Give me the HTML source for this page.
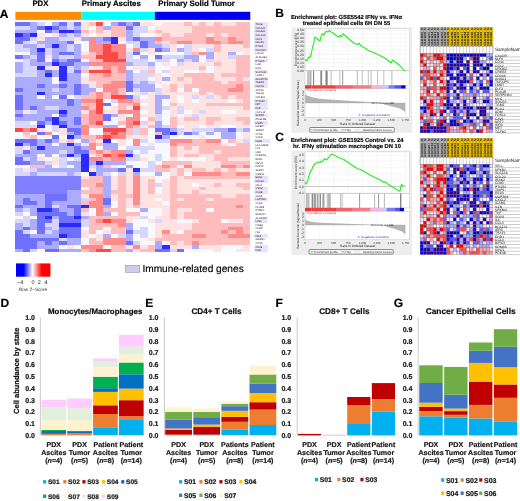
<!DOCTYPE html>
<html><head><meta charset="utf-8"><title>Figure</title><style>html,body{margin:0;padding:0;background:#fff}body{width:520px;height:501px;position:relative;overflow:hidden}</style></head><body>
<svg width="520" height="501" viewBox="0 0 520 501" style="position:absolute;left:0;top:0;filter:blur(0.4px)">
<style>text{font-family:'Liberation Sans', Arial, sans-serif;text-rendering:geometricPrecision}.bd{font-weight:bold;stroke:currentColor;stroke-width:0.18px}</style>
<text x="-0.2" y="17.5" class="bd" font-size="12">A</text>
<text x="32.4" y="5.9" class="bd" font-size="7.85">PDX</text>
<text x="81.8" y="5.9" class="bd" font-size="7.85">Primary Ascites</text>
<text x="158.2" y="5.9" class="bd" font-size="7.85">Primary Solid Tumor</text>
<rect x="15.4" y="11.8" width="66.06" height="8.1" fill="#ff8c00"/>
<rect x="81.46" y="11.8" width="73.4" height="8.1" fill="#00ffff"/>
<rect x="154.86" y="11.8" width="95.42" height="8.1" fill="#0000f0"/>
<g shape-rendering="crispEdges">
<rect x="15.4" y="22.3" width="14.69" height="3.66" fill="#7070ff"/>
<rect x="30.08" y="22.3" width="7.35" height="3.66" fill="#acacff"/>
<rect x="37.42" y="22.3" width="7.35" height="3.66" fill="#d6d6ff"/>
<rect x="44.76" y="22.3" width="7.35" height="3.66" fill="#f8f8ff"/>
<rect x="52.1" y="22.3" width="7.35" height="3.66" fill="#acacff"/>
<rect x="59.44" y="22.3" width="7.35" height="3.66" fill="#7070ff"/>
<rect x="66.78" y="22.3" width="7.35" height="3.66" fill="#d6d6ff"/>
<rect x="74.12" y="22.3" width="7.35" height="3.66" fill="#7070ff"/>
<rect x="81.46" y="22.3" width="7.35" height="3.66" fill="#ffe2e2"/>
<rect x="88.8" y="22.3" width="7.35" height="3.66" fill="#ffbcbc"/>
<rect x="96.14" y="22.3" width="7.35" height="3.66" fill="#ff4848"/>
<rect x="103.48" y="22.3" width="7.35" height="3.66" fill="#f8f8ff"/>
<rect x="110.82" y="22.3" width="7.35" height="3.66" fill="#acacff"/>
<rect x="118.16" y="22.3" width="7.35" height="3.66" fill="#7070ff"/>
<rect x="125.5" y="22.3" width="7.35" height="3.66" fill="#acacff"/>
<rect x="132.84" y="22.3" width="7.35" height="3.66" fill="#7070ff"/>
<rect x="140.18" y="22.3" width="14.69" height="3.66" fill="#ffe2e2"/>
<rect x="154.86" y="22.3" width="7.35" height="3.66" fill="#f8f8ff"/>
<rect x="162.2" y="22.3" width="22.03" height="3.66" fill="#ffe2e2"/>
<rect x="184.22" y="22.3" width="7.35" height="3.66" fill="#ffbcbc"/>
<rect x="191.56" y="22.3" width="7.35" height="3.66" fill="#ffe2e2"/>
<rect x="198.9" y="22.3" width="7.35" height="3.66" fill="#ffbcbc"/>
<rect x="206.24" y="22.3" width="7.35" height="3.66" fill="#ffe2e2"/>
<rect x="213.58" y="22.3" width="7.35" height="3.66" fill="#ffbcbc"/>
<rect x="220.92" y="22.3" width="14.69" height="3.66" fill="#ffe2e2"/>
<rect x="235.6" y="22.3" width="14.69" height="3.66" fill="#ffbcbc"/>
<rect x="15.4" y="25.95" width="14.69" height="3.66" fill="#d6d6ff"/>
<rect x="30.08" y="25.95" width="7.35" height="3.66" fill="#acacff"/>
<rect x="37.42" y="25.95" width="7.35" height="3.66" fill="#7070ff"/>
<rect x="44.76" y="25.95" width="7.35" height="3.66" fill="#2a2aff"/>
<rect x="52.1" y="25.95" width="7.35" height="3.66" fill="#7070ff"/>
<rect x="59.44" y="25.95" width="7.35" height="3.66" fill="#acacff"/>
<rect x="66.78" y="25.95" width="7.35" height="3.66" fill="#d6d6ff"/>
<rect x="74.12" y="25.95" width="7.35" height="3.66" fill="#acacff"/>
<rect x="81.46" y="25.95" width="7.35" height="3.66" fill="#ffe2e2"/>
<rect x="88.8" y="25.95" width="7.35" height="3.66" fill="#f8f8ff"/>
<rect x="96.14" y="25.95" width="7.35" height="3.66" fill="#ffbcbc"/>
<rect x="103.48" y="25.95" width="7.35" height="3.66" fill="#acacff"/>
<rect x="110.82" y="25.95" width="14.69" height="3.66" fill="#ffbcbc"/>
<rect x="125.5" y="25.95" width="7.35" height="3.66" fill="#7070ff"/>
<rect x="132.84" y="25.95" width="14.69" height="3.66" fill="#d6d6ff"/>
<rect x="147.52" y="25.95" width="7.35" height="3.66" fill="#f8f8ff"/>
<rect x="154.86" y="25.95" width="36.71" height="3.66" fill="#ffe2e2"/>
<rect x="191.56" y="25.95" width="58.73" height="3.66" fill="#ffbcbc"/>
<rect x="15.4" y="29.6" width="22.03" height="3.66" fill="#acacff"/>
<rect x="37.42" y="29.6" width="7.35" height="3.66" fill="#f8f8ff"/>
<rect x="44.76" y="29.6" width="7.35" height="3.66" fill="#7070ff"/>
<rect x="52.1" y="29.6" width="7.35" height="3.66" fill="#acacff"/>
<rect x="59.44" y="29.6" width="14.69" height="3.66" fill="#2a2aff"/>
<rect x="74.12" y="29.6" width="7.35" height="3.66" fill="#7070ff"/>
<rect x="81.46" y="29.6" width="7.35" height="3.66" fill="#ffbcbc"/>
<rect x="88.8" y="29.6" width="7.35" height="3.66" fill="#ffe2e2"/>
<rect x="96.14" y="29.6" width="7.35" height="3.66" fill="#ffbcbc"/>
<rect x="103.48" y="29.6" width="7.35" height="3.66" fill="#ffe2e2"/>
<rect x="110.82" y="29.6" width="14.69" height="3.66" fill="#ffbcbc"/>
<rect x="125.5" y="29.6" width="7.35" height="3.66" fill="#acacff"/>
<rect x="132.84" y="29.6" width="14.69" height="3.66" fill="#d6d6ff"/>
<rect x="147.52" y="29.6" width="7.35" height="3.66" fill="#ffe2e2"/>
<rect x="154.86" y="29.6" width="7.35" height="3.66" fill="#ffbcbc"/>
<rect x="162.2" y="29.6" width="29.37" height="3.66" fill="#ffe2e2"/>
<rect x="191.56" y="29.6" width="58.73" height="3.66" fill="#ffbcbc"/>
<rect x="15.4" y="33.25" width="7.35" height="3.66" fill="#2a2aff"/>
<rect x="22.74" y="33.25" width="7.35" height="3.66" fill="#7070ff"/>
<rect x="30.08" y="33.25" width="7.35" height="3.66" fill="#2a2aff"/>
<rect x="37.42" y="33.25" width="7.35" height="3.66" fill="#ffe2e2"/>
<rect x="44.76" y="33.25" width="7.35" height="3.66" fill="#f8f8ff"/>
<rect x="52.1" y="33.25" width="7.35" height="3.66" fill="#ffe2e2"/>
<rect x="59.44" y="33.25" width="7.35" height="3.66" fill="#acacff"/>
<rect x="66.78" y="33.25" width="7.35" height="3.66" fill="#d6d6ff"/>
<rect x="74.12" y="33.25" width="7.35" height="3.66" fill="#acacff"/>
<rect x="81.46" y="33.25" width="7.35" height="3.66" fill="#ffe2e2"/>
<rect x="88.8" y="33.25" width="7.35" height="3.66" fill="#f8f8ff"/>
<rect x="96.14" y="33.25" width="14.69" height="3.66" fill="#ffe2e2"/>
<rect x="110.82" y="33.25" width="14.69" height="3.66" fill="#ffbcbc"/>
<rect x="125.5" y="33.25" width="7.35" height="3.66" fill="#acacff"/>
<rect x="132.84" y="33.25" width="7.35" height="3.66" fill="#d6d6ff"/>
<rect x="140.18" y="33.25" width="14.69" height="3.66" fill="#f8f8ff"/>
<rect x="154.86" y="33.25" width="7.35" height="3.66" fill="#ffe2e2"/>
<rect x="162.2" y="33.25" width="7.35" height="3.66" fill="#ffbcbc"/>
<rect x="169.54" y="33.25" width="14.69" height="3.66" fill="#ffe2e2"/>
<rect x="184.22" y="33.25" width="22.03" height="3.66" fill="#ffbcbc"/>
<rect x="206.24" y="33.25" width="7.35" height="3.66" fill="#ffe2e2"/>
<rect x="213.58" y="33.25" width="7.35" height="3.66" fill="#ffbcbc"/>
<rect x="220.92" y="33.25" width="7.35" height="3.66" fill="#ffe2e2"/>
<rect x="228.26" y="33.25" width="22.03" height="3.66" fill="#ffbcbc"/>
<rect x="15.4" y="36.9" width="14.69" height="3.66" fill="#7070ff"/>
<rect x="30.08" y="36.9" width="7.35" height="3.66" fill="#d6d6ff"/>
<rect x="37.42" y="36.9" width="7.35" height="3.66" fill="#ffe2e2"/>
<rect x="44.76" y="36.9" width="14.69" height="3.66" fill="#acacff"/>
<rect x="59.44" y="36.9" width="14.69" height="3.66" fill="#d6d6ff"/>
<rect x="74.12" y="36.9" width="7.35" height="3.66" fill="#ffe2e2"/>
<rect x="81.46" y="36.9" width="7.35" height="3.66" fill="#acacff"/>
<rect x="88.8" y="36.9" width="7.35" height="3.66" fill="#ff8c8c"/>
<rect x="96.14" y="36.9" width="7.35" height="3.66" fill="#acacff"/>
<rect x="103.48" y="36.9" width="7.35" height="3.66" fill="#7070ff"/>
<rect x="110.82" y="36.9" width="7.35" height="3.66" fill="#2a2aff"/>
<rect x="118.16" y="36.9" width="7.35" height="3.66" fill="#ffe2e2"/>
<rect x="125.5" y="36.9" width="7.35" height="3.66" fill="#acacff"/>
<rect x="132.84" y="36.9" width="7.35" height="3.66" fill="#7070ff"/>
<rect x="140.18" y="36.9" width="14.69" height="3.66" fill="#acacff"/>
<rect x="154.86" y="36.9" width="7.35" height="3.66" fill="#ff8c8c"/>
<rect x="162.2" y="36.9" width="44.05" height="3.66" fill="#ffbcbc"/>
<rect x="206.24" y="36.9" width="7.35" height="3.66" fill="#ff8c8c"/>
<rect x="213.58" y="36.9" width="14.69" height="3.66" fill="#ffbcbc"/>
<rect x="228.26" y="36.9" width="7.35" height="3.66" fill="#ff8c8c"/>
<rect x="235.6" y="36.9" width="14.69" height="3.66" fill="#ffbcbc"/>
<rect x="15.4" y="40.55" width="7.35" height="3.66" fill="#7070ff"/>
<rect x="22.74" y="40.55" width="7.35" height="3.66" fill="#d6d6ff"/>
<rect x="30.08" y="40.55" width="7.35" height="3.66" fill="#ffe2e2"/>
<rect x="37.42" y="40.55" width="29.37" height="3.66" fill="#acacff"/>
<rect x="66.78" y="40.55" width="7.35" height="3.66" fill="#7070ff"/>
<rect x="74.12" y="40.55" width="14.69" height="3.66" fill="#f8f8ff"/>
<rect x="88.8" y="40.55" width="7.35" height="3.66" fill="#ff8c8c"/>
<rect x="96.14" y="40.55" width="14.69" height="3.66" fill="#acacff"/>
<rect x="110.82" y="40.55" width="7.35" height="3.66" fill="#2a2aff"/>
<rect x="118.16" y="40.55" width="7.35" height="3.66" fill="#f8f8ff"/>
<rect x="125.5" y="40.55" width="14.69" height="3.66" fill="#d6d6ff"/>
<rect x="140.18" y="40.55" width="7.35" height="3.66" fill="#7070ff"/>
<rect x="147.52" y="40.55" width="7.35" height="3.66" fill="#acacff"/>
<rect x="154.86" y="40.55" width="7.35" height="3.66" fill="#ffbcbc"/>
<rect x="162.2" y="40.55" width="7.35" height="3.66" fill="#ffe2e2"/>
<rect x="169.54" y="40.55" width="7.35" height="3.66" fill="#ffbcbc"/>
<rect x="176.88" y="40.55" width="14.69" height="3.66" fill="#ff8c8c"/>
<rect x="191.56" y="40.55" width="14.69" height="3.66" fill="#ffbcbc"/>
<rect x="206.24" y="40.55" width="14.69" height="3.66" fill="#ff8c8c"/>
<rect x="220.92" y="40.55" width="7.35" height="3.66" fill="#ffbcbc"/>
<rect x="228.26" y="40.55" width="14.69" height="3.66" fill="#ff8c8c"/>
<rect x="242.94" y="40.55" width="7.35" height="3.66" fill="#ffbcbc"/>
<rect x="15.4" y="44.2" width="7.35" height="3.66" fill="#d6d6ff"/>
<rect x="22.74" y="44.2" width="14.69" height="3.66" fill="#acacff"/>
<rect x="37.42" y="44.2" width="7.35" height="3.66" fill="#d6d6ff"/>
<rect x="44.76" y="44.2" width="7.35" height="3.66" fill="#acacff"/>
<rect x="52.1" y="44.2" width="7.35" height="3.66" fill="#2a2aff"/>
<rect x="59.44" y="44.2" width="7.35" height="3.66" fill="#acacff"/>
<rect x="66.78" y="44.2" width="7.35" height="3.66" fill="#d6d6ff"/>
<rect x="74.12" y="44.2" width="7.35" height="3.66" fill="#acacff"/>
<rect x="81.46" y="44.2" width="7.35" height="3.66" fill="#f8f8ff"/>
<rect x="88.8" y="44.2" width="14.69" height="3.66" fill="#ff8c8c"/>
<rect x="103.48" y="44.2" width="7.35" height="3.66" fill="#ff4848"/>
<rect x="110.82" y="44.2" width="14.69" height="3.66" fill="#ff8c8c"/>
<rect x="125.5" y="44.2" width="7.35" height="3.66" fill="#f8f8ff"/>
<rect x="132.84" y="44.2" width="7.35" height="3.66" fill="#d6d6ff"/>
<rect x="140.18" y="44.2" width="7.35" height="3.66" fill="#7070ff"/>
<rect x="147.52" y="44.2" width="14.69" height="3.66" fill="#acacff"/>
<rect x="162.2" y="44.2" width="7.35" height="3.66" fill="#d6d6ff"/>
<rect x="169.54" y="44.2" width="7.35" height="3.66" fill="#ffe2e2"/>
<rect x="176.88" y="44.2" width="7.35" height="3.66" fill="#f8f8ff"/>
<rect x="184.22" y="44.2" width="7.35" height="3.66" fill="#d6d6ff"/>
<rect x="191.56" y="44.2" width="22.03" height="3.66" fill="#ffe2e2"/>
<rect x="213.58" y="44.2" width="7.35" height="3.66" fill="#ffbcbc"/>
<rect x="220.92" y="44.2" width="22.03" height="3.66" fill="#ffe2e2"/>
<rect x="242.94" y="44.2" width="7.35" height="3.66" fill="#ffbcbc"/>
<rect x="15.4" y="47.85" width="14.69" height="3.66" fill="#d6d6ff"/>
<rect x="30.08" y="47.85" width="7.35" height="3.66" fill="#acacff"/>
<rect x="37.42" y="47.85" width="7.35" height="3.66" fill="#2a2aff"/>
<rect x="44.76" y="47.85" width="7.35" height="3.66" fill="#d6d6ff"/>
<rect x="52.1" y="47.85" width="14.69" height="3.66" fill="#acacff"/>
<rect x="66.78" y="47.85" width="7.35" height="3.66" fill="#d6d6ff"/>
<rect x="74.12" y="47.85" width="7.35" height="3.66" fill="#acacff"/>
<rect x="81.46" y="47.85" width="7.35" height="3.66" fill="#f8f8ff"/>
<rect x="88.8" y="47.85" width="14.69" height="3.66" fill="#ff8c8c"/>
<rect x="103.48" y="47.85" width="7.35" height="3.66" fill="#ff4848"/>
<rect x="110.82" y="47.85" width="14.69" height="3.66" fill="#ff8c8c"/>
<rect x="125.5" y="47.85" width="7.35" height="3.66" fill="#ffe2e2"/>
<rect x="132.84" y="47.85" width="7.35" height="3.66" fill="#ff8c8c"/>
<rect x="140.18" y="47.85" width="7.35" height="3.66" fill="#d6d6ff"/>
<rect x="147.52" y="47.85" width="7.35" height="3.66" fill="#ffe2e2"/>
<rect x="154.86" y="47.85" width="7.35" height="3.66" fill="#7070ff"/>
<rect x="162.2" y="47.85" width="7.35" height="3.66" fill="#acacff"/>
<rect x="169.54" y="47.85" width="7.35" height="3.66" fill="#ffe2e2"/>
<rect x="176.88" y="47.85" width="7.35" height="3.66" fill="#acacff"/>
<rect x="184.22" y="47.85" width="7.35" height="3.66" fill="#d6d6ff"/>
<rect x="191.56" y="47.85" width="7.35" height="3.66" fill="#ffe2e2"/>
<rect x="198.9" y="47.85" width="7.35" height="3.66" fill="#f8f8ff"/>
<rect x="206.24" y="47.85" width="7.35" height="3.66" fill="#d6d6ff"/>
<rect x="213.58" y="47.85" width="7.35" height="3.66" fill="#ffbcbc"/>
<rect x="220.92" y="47.85" width="29.37" height="3.66" fill="#ffe2e2"/>
<rect x="15.4" y="51.5" width="14.69" height="3.66" fill="#f8f8ff"/>
<rect x="30.08" y="51.5" width="7.35" height="3.66" fill="#acacff"/>
<rect x="37.42" y="51.5" width="7.35" height="3.66" fill="#7070ff"/>
<rect x="44.76" y="51.5" width="7.35" height="3.66" fill="#d6d6ff"/>
<rect x="52.1" y="51.5" width="7.35" height="3.66" fill="#acacff"/>
<rect x="59.44" y="51.5" width="14.69" height="3.66" fill="#7070ff"/>
<rect x="74.12" y="51.5" width="7.35" height="3.66" fill="#acacff"/>
<rect x="81.46" y="51.5" width="7.35" height="3.66" fill="#ffe2e2"/>
<rect x="88.8" y="51.5" width="7.35" height="3.66" fill="#ffbcbc"/>
<rect x="96.14" y="51.5" width="7.35" height="3.66" fill="#ff8c8c"/>
<rect x="103.48" y="51.5" width="14.69" height="3.66" fill="#ff4848"/>
<rect x="118.16" y="51.5" width="7.35" height="3.66" fill="#ff8c8c"/>
<rect x="125.5" y="51.5" width="7.35" height="3.66" fill="#d6d6ff"/>
<rect x="132.84" y="51.5" width="7.35" height="3.66" fill="#7070ff"/>
<rect x="140.18" y="51.5" width="7.35" height="3.66" fill="#f8f8ff"/>
<rect x="147.52" y="51.5" width="7.35" height="3.66" fill="#ffe2e2"/>
<rect x="154.86" y="51.5" width="29.37" height="3.66" fill="#f8f8ff"/>
<rect x="184.22" y="51.5" width="7.35" height="3.66" fill="#d6d6ff"/>
<rect x="191.56" y="51.5" width="7.35" height="3.66" fill="#ffbcbc"/>
<rect x="198.9" y="51.5" width="7.35" height="3.66" fill="#ff8c8c"/>
<rect x="206.24" y="51.5" width="7.35" height="3.66" fill="#acacff"/>
<rect x="213.58" y="51.5" width="14.69" height="3.66" fill="#ffe2e2"/>
<rect x="228.26" y="51.5" width="7.35" height="3.66" fill="#acacff"/>
<rect x="235.6" y="51.5" width="7.35" height="3.66" fill="#f8f8ff"/>
<rect x="242.94" y="51.5" width="7.35" height="3.66" fill="#ffe2e2"/>
<rect x="15.4" y="55.15" width="7.35" height="3.66" fill="#7070ff"/>
<rect x="22.74" y="55.15" width="7.35" height="3.66" fill="#acacff"/>
<rect x="30.08" y="55.15" width="7.35" height="3.66" fill="#d6d6ff"/>
<rect x="37.42" y="55.15" width="7.35" height="3.66" fill="#7070ff"/>
<rect x="44.76" y="55.15" width="7.35" height="3.66" fill="#ffe2e2"/>
<rect x="52.1" y="55.15" width="7.35" height="3.66" fill="#acacff"/>
<rect x="59.44" y="55.15" width="14.69" height="3.66" fill="#d6d6ff"/>
<rect x="74.12" y="55.15" width="7.35" height="3.66" fill="#acacff"/>
<rect x="81.46" y="55.15" width="14.69" height="3.66" fill="#ffbcbc"/>
<rect x="96.14" y="55.15" width="22.03" height="3.66" fill="#ff4848"/>
<rect x="118.16" y="55.15" width="7.35" height="3.66" fill="#ff8c8c"/>
<rect x="125.5" y="55.15" width="7.35" height="3.66" fill="#d6d6ff"/>
<rect x="132.84" y="55.15" width="7.35" height="3.66" fill="#f8f8ff"/>
<rect x="140.18" y="55.15" width="7.35" height="3.66" fill="#acacff"/>
<rect x="147.52" y="55.15" width="7.35" height="3.66" fill="#f8f8ff"/>
<rect x="154.86" y="55.15" width="7.35" height="3.66" fill="#7070ff"/>
<rect x="162.2" y="55.15" width="22.03" height="3.66" fill="#d6d6ff"/>
<rect x="184.22" y="55.15" width="14.69" height="3.66" fill="#acacff"/>
<rect x="198.9" y="55.15" width="7.35" height="3.66" fill="#f8f8ff"/>
<rect x="206.24" y="55.15" width="7.35" height="3.66" fill="#acacff"/>
<rect x="213.58" y="55.15" width="14.69" height="3.66" fill="#ffe2e2"/>
<rect x="228.26" y="55.15" width="7.35" height="3.66" fill="#d6d6ff"/>
<rect x="235.6" y="55.15" width="14.69" height="3.66" fill="#ffbcbc"/>
<rect x="15.4" y="58.8" width="7.35" height="3.66" fill="#f8f8ff"/>
<rect x="22.74" y="58.8" width="7.35" height="3.66" fill="#d6d6ff"/>
<rect x="30.08" y="58.8" width="7.35" height="3.66" fill="#acacff"/>
<rect x="37.42" y="58.8" width="7.35" height="3.66" fill="#7070ff"/>
<rect x="44.76" y="58.8" width="7.35" height="3.66" fill="#f8f8ff"/>
<rect x="52.1" y="58.8" width="7.35" height="3.66" fill="#7070ff"/>
<rect x="59.44" y="58.8" width="7.35" height="3.66" fill="#acacff"/>
<rect x="66.78" y="58.8" width="14.69" height="3.66" fill="#7070ff"/>
<rect x="81.46" y="58.8" width="7.35" height="3.66" fill="#f8f8ff"/>
<rect x="88.8" y="58.8" width="14.69" height="3.66" fill="#ffbcbc"/>
<rect x="103.48" y="58.8" width="22.03" height="3.66" fill="#ff4848"/>
<rect x="125.5" y="58.8" width="22.03" height="3.66" fill="#d6d6ff"/>
<rect x="147.52" y="58.8" width="7.35" height="3.66" fill="#f8f8ff"/>
<rect x="154.86" y="58.8" width="14.69" height="3.66" fill="#d6d6ff"/>
<rect x="169.54" y="58.8" width="7.35" height="3.66" fill="#f8f8ff"/>
<rect x="176.88" y="58.8" width="7.35" height="3.66" fill="#acacff"/>
<rect x="184.22" y="58.8" width="7.35" height="3.66" fill="#d6d6ff"/>
<rect x="191.56" y="58.8" width="7.35" height="3.66" fill="#acacff"/>
<rect x="198.9" y="58.8" width="7.35" height="3.66" fill="#f8f8ff"/>
<rect x="206.24" y="58.8" width="7.35" height="3.66" fill="#d6d6ff"/>
<rect x="213.58" y="58.8" width="22.03" height="3.66" fill="#ffe2e2"/>
<rect x="235.6" y="58.8" width="14.69" height="3.66" fill="#ffbcbc"/>
<rect x="15.4" y="62.45" width="7.35" height="3.66" fill="#acacff"/>
<rect x="22.74" y="62.45" width="7.35" height="3.66" fill="#d6d6ff"/>
<rect x="30.08" y="62.45" width="22.03" height="3.66" fill="#acacff"/>
<rect x="52.1" y="62.45" width="7.35" height="3.66" fill="#2a2aff"/>
<rect x="59.44" y="62.45" width="14.69" height="3.66" fill="#7070ff"/>
<rect x="74.12" y="62.45" width="14.69" height="3.66" fill="#acacff"/>
<rect x="88.8" y="62.45" width="36.71" height="3.66" fill="#ff8c8c"/>
<rect x="125.5" y="62.45" width="7.35" height="3.66" fill="#acacff"/>
<rect x="132.84" y="62.45" width="14.69" height="3.66" fill="#d6d6ff"/>
<rect x="147.52" y="62.45" width="7.35" height="3.66" fill="#acacff"/>
<rect x="154.86" y="62.45" width="7.35" height="3.66" fill="#f8f8ff"/>
<rect x="162.2" y="62.45" width="7.35" height="3.66" fill="#ffe2e2"/>
<rect x="169.54" y="62.45" width="7.35" height="3.66" fill="#f8f8ff"/>
<rect x="176.88" y="62.45" width="7.35" height="3.66" fill="#d6d6ff"/>
<rect x="184.22" y="62.45" width="29.37" height="3.66" fill="#ffe2e2"/>
<rect x="213.58" y="62.45" width="7.35" height="3.66" fill="#ffbcbc"/>
<rect x="220.92" y="62.45" width="14.69" height="3.66" fill="#ffe2e2"/>
<rect x="235.6" y="62.45" width="14.69" height="3.66" fill="#ffbcbc"/>
<rect x="15.4" y="66.1" width="7.35" height="3.66" fill="#acacff"/>
<rect x="22.74" y="66.1" width="14.69" height="3.66" fill="#d6d6ff"/>
<rect x="37.42" y="66.1" width="7.35" height="3.66" fill="#2a2aff"/>
<rect x="44.76" y="66.1" width="14.69" height="3.66" fill="#ffe2e2"/>
<rect x="59.44" y="66.1" width="7.35" height="3.66" fill="#2a2aff"/>
<rect x="66.78" y="66.1" width="7.35" height="3.66" fill="#d6d6ff"/>
<rect x="74.12" y="66.1" width="7.35" height="3.66" fill="#acacff"/>
<rect x="81.46" y="66.1" width="7.35" height="3.66" fill="#d6d6ff"/>
<rect x="88.8" y="66.1" width="14.69" height="3.66" fill="#ffe2e2"/>
<rect x="103.48" y="66.1" width="7.35" height="3.66" fill="#ff8c8c"/>
<rect x="110.82" y="66.1" width="7.35" height="3.66" fill="#ffbcbc"/>
<rect x="118.16" y="66.1" width="7.35" height="3.66" fill="#ff8c8c"/>
<rect x="125.5" y="66.1" width="7.35" height="3.66" fill="#f8f8ff"/>
<rect x="132.84" y="66.1" width="14.69" height="3.66" fill="#ffe2e2"/>
<rect x="147.52" y="66.1" width="7.35" height="3.66" fill="#d6d6ff"/>
<rect x="154.86" y="66.1" width="14.69" height="3.66" fill="#f8f8ff"/>
<rect x="169.54" y="66.1" width="29.37" height="3.66" fill="#ffe2e2"/>
<rect x="198.9" y="66.1" width="7.35" height="3.66" fill="#ffbcbc"/>
<rect x="206.24" y="66.1" width="7.35" height="3.66" fill="#f8f8ff"/>
<rect x="213.58" y="66.1" width="22.03" height="3.66" fill="#ffe2e2"/>
<rect x="235.6" y="66.1" width="14.69" height="3.66" fill="#ffbcbc"/>
<rect x="15.4" y="69.75" width="7.35" height="3.66" fill="#acacff"/>
<rect x="22.74" y="69.75" width="14.69" height="3.66" fill="#d6d6ff"/>
<rect x="37.42" y="69.75" width="7.35" height="3.66" fill="#acacff"/>
<rect x="44.76" y="69.75" width="7.35" height="3.66" fill="#7070ff"/>
<rect x="52.1" y="69.75" width="7.35" height="3.66" fill="#acacff"/>
<rect x="59.44" y="69.75" width="7.35" height="3.66" fill="#2a2aff"/>
<rect x="66.78" y="69.75" width="7.35" height="3.66" fill="#d6d6ff"/>
<rect x="74.12" y="69.75" width="7.35" height="3.66" fill="#7070ff"/>
<rect x="81.46" y="69.75" width="7.35" height="3.66" fill="#ffbcbc"/>
<rect x="88.8" y="69.75" width="22.03" height="3.66" fill="#ff4848"/>
<rect x="110.82" y="69.75" width="7.35" height="3.66" fill="#ffbcbc"/>
<rect x="118.16" y="69.75" width="7.35" height="3.66" fill="#ff8c8c"/>
<rect x="125.5" y="69.75" width="7.35" height="3.66" fill="#acacff"/>
<rect x="132.84" y="69.75" width="7.35" height="3.66" fill="#f8f8ff"/>
<rect x="140.18" y="69.75" width="7.35" height="3.66" fill="#d6d6ff"/>
<rect x="147.52" y="69.75" width="7.35" height="3.66" fill="#ffbcbc"/>
<rect x="154.86" y="69.75" width="7.35" height="3.66" fill="#f8f8ff"/>
<rect x="162.2" y="69.75" width="7.35" height="3.66" fill="#d6d6ff"/>
<rect x="169.54" y="69.75" width="14.69" height="3.66" fill="#ffe2e2"/>
<rect x="184.22" y="69.75" width="14.69" height="3.66" fill="#f8f8ff"/>
<rect x="198.9" y="69.75" width="7.35" height="3.66" fill="#ffe2e2"/>
<rect x="206.24" y="69.75" width="7.35" height="3.66" fill="#f8f8ff"/>
<rect x="213.58" y="69.75" width="22.03" height="3.66" fill="#ffe2e2"/>
<rect x="235.6" y="69.75" width="14.69" height="3.66" fill="#ffbcbc"/>
<rect x="15.4" y="73.4" width="22.03" height="3.66" fill="#d6d6ff"/>
<rect x="37.42" y="73.4" width="7.35" height="3.66" fill="#acacff"/>
<rect x="44.76" y="73.4" width="7.35" height="3.66" fill="#2a2aff"/>
<rect x="52.1" y="73.4" width="7.35" height="3.66" fill="#acacff"/>
<rect x="59.44" y="73.4" width="7.35" height="3.66" fill="#2a2aff"/>
<rect x="66.78" y="73.4" width="14.69" height="3.66" fill="#acacff"/>
<rect x="81.46" y="73.4" width="7.35" height="3.66" fill="#f8f8ff"/>
<rect x="88.8" y="73.4" width="14.69" height="3.66" fill="#ffbcbc"/>
<rect x="103.48" y="73.4" width="7.35" height="3.66" fill="#ff8c8c"/>
<rect x="110.82" y="73.4" width="14.69" height="3.66" fill="#ffbcbc"/>
<rect x="125.5" y="73.4" width="7.35" height="3.66" fill="#acacff"/>
<rect x="132.84" y="73.4" width="22.03" height="3.66" fill="#d6d6ff"/>
<rect x="154.86" y="73.4" width="7.35" height="3.66" fill="#ffe2e2"/>
<rect x="162.2" y="73.4" width="7.35" height="3.66" fill="#f8f8ff"/>
<rect x="169.54" y="73.4" width="14.69" height="3.66" fill="#ffe2e2"/>
<rect x="184.22" y="73.4" width="29.37" height="3.66" fill="#ffbcbc"/>
<rect x="213.58" y="73.4" width="7.35" height="3.66" fill="#ffe2e2"/>
<rect x="220.92" y="73.4" width="29.37" height="3.66" fill="#ffbcbc"/>
<rect x="15.4" y="77.05" width="36.71" height="3.66" fill="#acacff"/>
<rect x="52.1" y="77.05" width="7.35" height="3.66" fill="#f8f8ff"/>
<rect x="59.44" y="77.05" width="7.35" height="3.66" fill="#2a2aff"/>
<rect x="66.78" y="77.05" width="14.69" height="3.66" fill="#acacff"/>
<rect x="81.46" y="77.05" width="7.35" height="3.66" fill="#ffe2e2"/>
<rect x="88.8" y="77.05" width="36.71" height="3.66" fill="#ffbcbc"/>
<rect x="125.5" y="77.05" width="7.35" height="3.66" fill="#acacff"/>
<rect x="132.84" y="77.05" width="14.69" height="3.66" fill="#d6d6ff"/>
<rect x="147.52" y="77.05" width="7.35" height="3.66" fill="#f8f8ff"/>
<rect x="154.86" y="77.05" width="7.35" height="3.66" fill="#ffe2e2"/>
<rect x="162.2" y="77.05" width="7.35" height="3.66" fill="#acacff"/>
<rect x="169.54" y="77.05" width="7.35" height="3.66" fill="#ffe2e2"/>
<rect x="176.88" y="77.05" width="7.35" height="3.66" fill="#ffbcbc"/>
<rect x="184.22" y="77.05" width="7.35" height="3.66" fill="#ffe2e2"/>
<rect x="191.56" y="77.05" width="22.03" height="3.66" fill="#ffbcbc"/>
<rect x="213.58" y="77.05" width="22.03" height="3.66" fill="#ffe2e2"/>
<rect x="235.6" y="77.05" width="7.35" height="3.66" fill="#ffbcbc"/>
<rect x="242.94" y="77.05" width="7.35" height="3.66" fill="#ffe2e2"/>
<rect x="15.4" y="80.7" width="36.71" height="3.66" fill="#acacff"/>
<rect x="52.1" y="80.7" width="7.35" height="3.66" fill="#f8f8ff"/>
<rect x="59.44" y="80.7" width="22.03" height="3.66" fill="#acacff"/>
<rect x="81.46" y="80.7" width="14.69" height="3.66" fill="#ffe2e2"/>
<rect x="96.14" y="80.7" width="14.69" height="3.66" fill="#ffbcbc"/>
<rect x="110.82" y="80.7" width="14.69" height="3.66" fill="#ff8c8c"/>
<rect x="125.5" y="80.7" width="7.35" height="3.66" fill="#7070ff"/>
<rect x="132.84" y="80.7" width="7.35" height="3.66" fill="#d6d6ff"/>
<rect x="140.18" y="80.7" width="7.35" height="3.66" fill="#acacff"/>
<rect x="147.52" y="80.7" width="7.35" height="3.66" fill="#d6d6ff"/>
<rect x="154.86" y="80.7" width="7.35" height="3.66" fill="#ffe2e2"/>
<rect x="162.2" y="80.7" width="7.35" height="3.66" fill="#f8f8ff"/>
<rect x="169.54" y="80.7" width="22.03" height="3.66" fill="#ffe2e2"/>
<rect x="191.56" y="80.7" width="29.37" height="3.66" fill="#ffbcbc"/>
<rect x="220.92" y="80.7" width="7.35" height="3.66" fill="#ffe2e2"/>
<rect x="228.26" y="80.7" width="22.03" height="3.66" fill="#ffbcbc"/>
<rect x="15.4" y="84.35" width="22.03" height="3.66" fill="#acacff"/>
<rect x="37.42" y="84.35" width="7.35" height="3.66" fill="#7070ff"/>
<rect x="44.76" y="84.35" width="14.69" height="3.66" fill="#acacff"/>
<rect x="59.44" y="84.35" width="7.35" height="3.66" fill="#7070ff"/>
<rect x="66.78" y="84.35" width="7.35" height="3.66" fill="#acacff"/>
<rect x="74.12" y="84.35" width="7.35" height="3.66" fill="#7070ff"/>
<rect x="81.46" y="84.35" width="7.35" height="3.66" fill="#acacff"/>
<rect x="88.8" y="84.35" width="7.35" height="3.66" fill="#ffe2e2"/>
<rect x="96.14" y="84.35" width="7.35" height="3.66" fill="#ffbcbc"/>
<rect x="103.48" y="84.35" width="22.03" height="3.66" fill="#ff8c8c"/>
<rect x="125.5" y="84.35" width="7.35" height="3.66" fill="#7070ff"/>
<rect x="132.84" y="84.35" width="22.03" height="3.66" fill="#acacff"/>
<rect x="154.86" y="84.35" width="7.35" height="3.66" fill="#f8f8ff"/>
<rect x="162.2" y="84.35" width="7.35" height="3.66" fill="#ffe2e2"/>
<rect x="169.54" y="84.35" width="7.35" height="3.66" fill="#ffbcbc"/>
<rect x="176.88" y="84.35" width="7.35" height="3.66" fill="#ffe2e2"/>
<rect x="184.22" y="84.35" width="51.39" height="3.66" fill="#ffbcbc"/>
<rect x="235.6" y="84.35" width="7.35" height="3.66" fill="#ff8c8c"/>
<rect x="242.94" y="84.35" width="7.35" height="3.66" fill="#ffbcbc"/>
<rect x="15.4" y="88" width="7.35" height="3.66" fill="#7070ff"/>
<rect x="22.74" y="88" width="29.37" height="3.66" fill="#acacff"/>
<rect x="52.1" y="88" width="7.35" height="3.66" fill="#d6d6ff"/>
<rect x="59.44" y="88" width="14.69" height="3.66" fill="#acacff"/>
<rect x="74.12" y="88" width="7.35" height="3.66" fill="#7070ff"/>
<rect x="81.46" y="88" width="14.69" height="3.66" fill="#acacff"/>
<rect x="96.14" y="88" width="7.35" height="3.66" fill="#f8f8ff"/>
<rect x="103.48" y="88" width="14.69" height="3.66" fill="#ff8c8c"/>
<rect x="118.16" y="88" width="7.35" height="3.66" fill="#ffbcbc"/>
<rect x="125.5" y="88" width="7.35" height="3.66" fill="#7070ff"/>
<rect x="132.84" y="88" width="7.35" height="3.66" fill="#d6d6ff"/>
<rect x="140.18" y="88" width="14.69" height="3.66" fill="#acacff"/>
<rect x="154.86" y="88" width="7.35" height="3.66" fill="#d6d6ff"/>
<rect x="162.2" y="88" width="7.35" height="3.66" fill="#ffe2e2"/>
<rect x="169.54" y="88" width="7.35" height="3.66" fill="#ffbcbc"/>
<rect x="176.88" y="88" width="7.35" height="3.66" fill="#f8f8ff"/>
<rect x="184.22" y="88" width="7.35" height="3.66" fill="#ffbcbc"/>
<rect x="191.56" y="88" width="7.35" height="3.66" fill="#f8f8ff"/>
<rect x="198.9" y="88" width="29.37" height="3.66" fill="#ffbcbc"/>
<rect x="228.26" y="88" width="14.69" height="3.66" fill="#ff8c8c"/>
<rect x="242.94" y="88" width="7.35" height="3.66" fill="#ffbcbc"/>
<rect x="15.4" y="91.65" width="22.03" height="3.66" fill="#acacff"/>
<rect x="37.42" y="91.65" width="7.35" height="3.66" fill="#2a2aff"/>
<rect x="44.76" y="91.65" width="29.37" height="3.66" fill="#acacff"/>
<rect x="74.12" y="91.65" width="7.35" height="3.66" fill="#7070ff"/>
<rect x="81.46" y="91.65" width="7.35" height="3.66" fill="#acacff"/>
<rect x="88.8" y="91.65" width="7.35" height="3.66" fill="#ffbcbc"/>
<rect x="96.14" y="91.65" width="7.35" height="3.66" fill="#ff8c8c"/>
<rect x="103.48" y="91.65" width="7.35" height="3.66" fill="#ffbcbc"/>
<rect x="110.82" y="91.65" width="7.35" height="3.66" fill="#ff8c8c"/>
<rect x="118.16" y="91.65" width="7.35" height="3.66" fill="#ffbcbc"/>
<rect x="125.5" y="91.65" width="7.35" height="3.66" fill="#f8f8ff"/>
<rect x="132.84" y="91.65" width="7.35" height="3.66" fill="#ffe2e2"/>
<rect x="140.18" y="91.65" width="7.35" height="3.66" fill="#d6d6ff"/>
<rect x="147.52" y="91.65" width="7.35" height="3.66" fill="#ffe2e2"/>
<rect x="154.86" y="91.65" width="7.35" height="3.66" fill="#d6d6ff"/>
<rect x="162.2" y="91.65" width="36.71" height="3.66" fill="#ffe2e2"/>
<rect x="198.9" y="91.65" width="7.35" height="3.66" fill="#ffbcbc"/>
<rect x="206.24" y="91.65" width="7.35" height="3.66" fill="#ffe2e2"/>
<rect x="213.58" y="91.65" width="36.71" height="3.66" fill="#ffbcbc"/>
<rect x="15.4" y="95.3" width="7.35" height="3.66" fill="#7070ff"/>
<rect x="22.74" y="95.3" width="14.69" height="3.66" fill="#acacff"/>
<rect x="37.42" y="95.3" width="7.35" height="3.66" fill="#f8f8ff"/>
<rect x="44.76" y="95.3" width="7.35" height="3.66" fill="#acacff"/>
<rect x="52.1" y="95.3" width="7.35" height="3.66" fill="#f8f8ff"/>
<rect x="59.44" y="95.3" width="7.35" height="3.66" fill="#7070ff"/>
<rect x="66.78" y="95.3" width="7.35" height="3.66" fill="#f8f8ff"/>
<rect x="74.12" y="95.3" width="7.35" height="3.66" fill="#d6d6ff"/>
<rect x="81.46" y="95.3" width="14.69" height="3.66" fill="#ffbcbc"/>
<rect x="96.14" y="95.3" width="7.35" height="3.66" fill="#ff8c8c"/>
<rect x="103.48" y="95.3" width="7.35" height="3.66" fill="#ffbcbc"/>
<rect x="110.82" y="95.3" width="14.69" height="3.66" fill="#ff4848"/>
<rect x="125.5" y="95.3" width="7.35" height="3.66" fill="#7070ff"/>
<rect x="132.84" y="95.3" width="7.35" height="3.66" fill="#d6d6ff"/>
<rect x="140.18" y="95.3" width="7.35" height="3.66" fill="#f8f8ff"/>
<rect x="147.52" y="95.3" width="7.35" height="3.66" fill="#ffe2e2"/>
<rect x="154.86" y="95.3" width="14.69" height="3.66" fill="#acacff"/>
<rect x="169.54" y="95.3" width="7.35" height="3.66" fill="#ffe2e2"/>
<rect x="176.88" y="95.3" width="7.35" height="3.66" fill="#f8f8ff"/>
<rect x="184.22" y="95.3" width="7.35" height="3.66" fill="#ffe2e2"/>
<rect x="191.56" y="95.3" width="7.35" height="3.66" fill="#d6d6ff"/>
<rect x="198.9" y="95.3" width="7.35" height="3.66" fill="#ffe2e2"/>
<rect x="206.24" y="95.3" width="7.35" height="3.66" fill="#d6d6ff"/>
<rect x="213.58" y="95.3" width="7.35" height="3.66" fill="#ffe2e2"/>
<rect x="220.92" y="95.3" width="7.35" height="3.66" fill="#ffbcbc"/>
<rect x="228.26" y="95.3" width="7.35" height="3.66" fill="#ffe2e2"/>
<rect x="235.6" y="95.3" width="14.69" height="3.66" fill="#ffbcbc"/>
<rect x="15.4" y="98.95" width="7.35" height="3.66" fill="#7070ff"/>
<rect x="22.74" y="98.95" width="44.05" height="3.66" fill="#acacff"/>
<rect x="66.78" y="98.95" width="7.35" height="3.66" fill="#7070ff"/>
<rect x="74.12" y="98.95" width="7.35" height="3.66" fill="#acacff"/>
<rect x="81.46" y="98.95" width="14.69" height="3.66" fill="#ff8c8c"/>
<rect x="96.14" y="98.95" width="7.35" height="3.66" fill="#ff4848"/>
<rect x="103.48" y="98.95" width="7.35" height="3.66" fill="#f8f8ff"/>
<rect x="110.82" y="98.95" width="7.35" height="3.66" fill="#d6d6ff"/>
<rect x="118.16" y="98.95" width="14.69" height="3.66" fill="#ff8c8c"/>
<rect x="132.84" y="98.95" width="7.35" height="3.66" fill="#ffbcbc"/>
<rect x="140.18" y="98.95" width="14.69" height="3.66" fill="#ffe2e2"/>
<rect x="154.86" y="98.95" width="7.35" height="3.66" fill="#acacff"/>
<rect x="162.2" y="98.95" width="7.35" height="3.66" fill="#f8f8ff"/>
<rect x="169.54" y="98.95" width="7.35" height="3.66" fill="#ffe2e2"/>
<rect x="176.88" y="98.95" width="7.35" height="3.66" fill="#f8f8ff"/>
<rect x="184.22" y="98.95" width="7.35" height="3.66" fill="#ffe2e2"/>
<rect x="191.56" y="98.95" width="7.35" height="3.66" fill="#f8f8ff"/>
<rect x="198.9" y="98.95" width="29.37" height="3.66" fill="#ffe2e2"/>
<rect x="228.26" y="98.95" width="7.35" height="3.66" fill="#f8f8ff"/>
<rect x="235.6" y="98.95" width="7.35" height="3.66" fill="#ffe2e2"/>
<rect x="242.94" y="98.95" width="7.35" height="3.66" fill="#ffbcbc"/>
<rect x="15.4" y="102.6" width="7.35" height="3.66" fill="#7070ff"/>
<rect x="22.74" y="102.6" width="44.05" height="3.66" fill="#acacff"/>
<rect x="66.78" y="102.6" width="7.35" height="3.66" fill="#7070ff"/>
<rect x="74.12" y="102.6" width="7.35" height="3.66" fill="#acacff"/>
<rect x="81.46" y="102.6" width="14.69" height="3.66" fill="#ffbcbc"/>
<rect x="96.14" y="102.6" width="7.35" height="3.66" fill="#ff4848"/>
<rect x="103.48" y="102.6" width="7.35" height="3.66" fill="#7070ff"/>
<rect x="110.82" y="102.6" width="7.35" height="3.66" fill="#f8f8ff"/>
<rect x="118.16" y="102.6" width="14.69" height="3.66" fill="#ffbcbc"/>
<rect x="132.84" y="102.6" width="7.35" height="3.66" fill="#ff8c8c"/>
<rect x="140.18" y="102.6" width="7.35" height="3.66" fill="#f8f8ff"/>
<rect x="147.52" y="102.6" width="7.35" height="3.66" fill="#ffe2e2"/>
<rect x="154.86" y="102.6" width="7.35" height="3.66" fill="#acacff"/>
<rect x="162.2" y="102.6" width="7.35" height="3.66" fill="#f8f8ff"/>
<rect x="169.54" y="102.6" width="7.35" height="3.66" fill="#ffbcbc"/>
<rect x="176.88" y="102.6" width="29.37" height="3.66" fill="#ffe2e2"/>
<rect x="206.24" y="102.6" width="44.05" height="3.66" fill="#ffbcbc"/>
<rect x="15.4" y="106.25" width="7.35" height="3.66" fill="#7070ff"/>
<rect x="22.74" y="106.25" width="7.35" height="3.66" fill="#acacff"/>
<rect x="30.08" y="106.25" width="7.35" height="3.66" fill="#7070ff"/>
<rect x="37.42" y="106.25" width="7.35" height="3.66" fill="#acacff"/>
<rect x="44.76" y="106.25" width="14.69" height="3.66" fill="#d6d6ff"/>
<rect x="59.44" y="106.25" width="22.03" height="3.66" fill="#acacff"/>
<rect x="81.46" y="106.25" width="7.35" height="3.66" fill="#ff8c8c"/>
<rect x="88.8" y="106.25" width="7.35" height="3.66" fill="#ffbcbc"/>
<rect x="96.14" y="106.25" width="7.35" height="3.66" fill="#ff4848"/>
<rect x="103.48" y="106.25" width="7.35" height="3.66" fill="#f8f8ff"/>
<rect x="110.82" y="106.25" width="7.35" height="3.66" fill="#ffe2e2"/>
<rect x="118.16" y="106.25" width="7.35" height="3.66" fill="#ffbcbc"/>
<rect x="125.5" y="106.25" width="7.35" height="3.66" fill="#ffe2e2"/>
<rect x="132.84" y="106.25" width="7.35" height="3.66" fill="#ff4848"/>
<rect x="140.18" y="106.25" width="14.69" height="3.66" fill="#ffe2e2"/>
<rect x="154.86" y="106.25" width="7.35" height="3.66" fill="#acacff"/>
<rect x="162.2" y="106.25" width="7.35" height="3.66" fill="#d6d6ff"/>
<rect x="169.54" y="106.25" width="7.35" height="3.66" fill="#ffe2e2"/>
<rect x="176.88" y="106.25" width="7.35" height="3.66" fill="#d6d6ff"/>
<rect x="184.22" y="106.25" width="58.73" height="3.66" fill="#ffe2e2"/>
<rect x="242.94" y="106.25" width="7.35" height="3.66" fill="#ffbcbc"/>
<rect x="15.4" y="109.9" width="7.35" height="3.66" fill="#acacff"/>
<rect x="22.74" y="109.9" width="7.35" height="3.66" fill="#ffe2e2"/>
<rect x="30.08" y="109.9" width="7.35" height="3.66" fill="#d6d6ff"/>
<rect x="37.42" y="109.9" width="22.03" height="3.66" fill="#acacff"/>
<rect x="59.44" y="109.9" width="7.35" height="3.66" fill="#2a2aff"/>
<rect x="66.78" y="109.9" width="14.69" height="3.66" fill="#acacff"/>
<rect x="81.46" y="109.9" width="7.35" height="3.66" fill="#ffe2e2"/>
<rect x="88.8" y="109.9" width="7.35" height="3.66" fill="#ff8c8c"/>
<rect x="96.14" y="109.9" width="7.35" height="3.66" fill="#ff4848"/>
<rect x="103.48" y="109.9" width="14.69" height="3.66" fill="#ffe2e2"/>
<rect x="118.16" y="109.9" width="22.03" height="3.66" fill="#ff8c8c"/>
<rect x="140.18" y="109.9" width="7.35" height="3.66" fill="#f8f8ff"/>
<rect x="147.52" y="109.9" width="7.35" height="3.66" fill="#ffe2e2"/>
<rect x="154.86" y="109.9" width="7.35" height="3.66" fill="#acacff"/>
<rect x="162.2" y="109.9" width="7.35" height="3.66" fill="#f8f8ff"/>
<rect x="169.54" y="109.9" width="7.35" height="3.66" fill="#ffe2e2"/>
<rect x="176.88" y="109.9" width="7.35" height="3.66" fill="#d6d6ff"/>
<rect x="184.22" y="109.9" width="7.35" height="3.66" fill="#f8f8ff"/>
<rect x="191.56" y="109.9" width="7.35" height="3.66" fill="#ffe2e2"/>
<rect x="198.9" y="109.9" width="7.35" height="3.66" fill="#d6d6ff"/>
<rect x="206.24" y="109.9" width="14.69" height="3.66" fill="#ffe2e2"/>
<rect x="220.92" y="109.9" width="14.69" height="3.66" fill="#f8f8ff"/>
<rect x="235.6" y="109.9" width="14.69" height="3.66" fill="#ffe2e2"/>
<rect x="15.4" y="113.55" width="7.35" height="3.66" fill="#7070ff"/>
<rect x="22.74" y="113.55" width="29.37" height="3.66" fill="#acacff"/>
<rect x="52.1" y="113.55" width="7.35" height="3.66" fill="#f8f8ff"/>
<rect x="59.44" y="113.55" width="7.35" height="3.66" fill="#7070ff"/>
<rect x="66.78" y="113.55" width="14.69" height="3.66" fill="#acacff"/>
<rect x="81.46" y="113.55" width="7.35" height="3.66" fill="#ffbcbc"/>
<rect x="88.8" y="113.55" width="14.69" height="3.66" fill="#ff8c8c"/>
<rect x="103.48" y="113.55" width="7.35" height="3.66" fill="#7070ff"/>
<rect x="110.82" y="113.55" width="7.35" height="3.66" fill="#acacff"/>
<rect x="118.16" y="113.55" width="7.35" height="3.66" fill="#ffe2e2"/>
<rect x="125.5" y="113.55" width="7.35" height="3.66" fill="#f8f8ff"/>
<rect x="132.84" y="113.55" width="7.35" height="3.66" fill="#ff8c8c"/>
<rect x="140.18" y="113.55" width="14.69" height="3.66" fill="#ffe2e2"/>
<rect x="154.86" y="113.55" width="7.35" height="3.66" fill="#d6d6ff"/>
<rect x="162.2" y="113.55" width="7.35" height="3.66" fill="#f8f8ff"/>
<rect x="169.54" y="113.55" width="7.35" height="3.66" fill="#ffe2e2"/>
<rect x="176.88" y="113.55" width="7.35" height="3.66" fill="#f8f8ff"/>
<rect x="184.22" y="113.55" width="7.35" height="3.66" fill="#ffe2e2"/>
<rect x="191.56" y="113.55" width="7.35" height="3.66" fill="#d6d6ff"/>
<rect x="198.9" y="113.55" width="51.39" height="3.66" fill="#ffe2e2"/>
<rect x="15.4" y="117.2" width="29.37" height="3.66" fill="#acacff"/>
<rect x="44.76" y="117.2" width="7.35" height="3.66" fill="#7070ff"/>
<rect x="52.1" y="117.2" width="7.35" height="3.66" fill="#2a2aff"/>
<rect x="59.44" y="117.2" width="14.69" height="3.66" fill="#acacff"/>
<rect x="74.12" y="117.2" width="7.35" height="3.66" fill="#7070ff"/>
<rect x="81.46" y="117.2" width="7.35" height="3.66" fill="#ffbcbc"/>
<rect x="88.8" y="117.2" width="14.69" height="3.66" fill="#ff8c8c"/>
<rect x="103.48" y="117.2" width="7.35" height="3.66" fill="#7070ff"/>
<rect x="110.82" y="117.2" width="7.35" height="3.66" fill="#f8f8ff"/>
<rect x="118.16" y="117.2" width="7.35" height="3.66" fill="#ffe2e2"/>
<rect x="125.5" y="117.2" width="14.69" height="3.66" fill="#ff8c8c"/>
<rect x="140.18" y="117.2" width="7.35" height="3.66" fill="#f8f8ff"/>
<rect x="147.52" y="117.2" width="7.35" height="3.66" fill="#ffbcbc"/>
<rect x="154.86" y="117.2" width="7.35" height="3.66" fill="#d6d6ff"/>
<rect x="162.2" y="117.2" width="7.35" height="3.66" fill="#f8f8ff"/>
<rect x="169.54" y="117.2" width="7.35" height="3.66" fill="#ffbcbc"/>
<rect x="176.88" y="117.2" width="7.35" height="3.66" fill="#ffe2e2"/>
<rect x="184.22" y="117.2" width="14.69" height="3.66" fill="#ffbcbc"/>
<rect x="198.9" y="117.2" width="7.35" height="3.66" fill="#ffe2e2"/>
<rect x="206.24" y="117.2" width="14.69" height="3.66" fill="#ffbcbc"/>
<rect x="220.92" y="117.2" width="14.69" height="3.66" fill="#ffe2e2"/>
<rect x="235.6" y="117.2" width="14.69" height="3.66" fill="#ffbcbc"/>
<rect x="15.4" y="120.85" width="14.69" height="3.66" fill="#d6d6ff"/>
<rect x="30.08" y="120.85" width="7.35" height="3.66" fill="#f8f8ff"/>
<rect x="37.42" y="120.85" width="7.35" height="3.66" fill="#7070ff"/>
<rect x="44.76" y="120.85" width="7.35" height="3.66" fill="#acacff"/>
<rect x="52.1" y="120.85" width="7.35" height="3.66" fill="#2a2aff"/>
<rect x="59.44" y="120.85" width="7.35" height="3.66" fill="#7070ff"/>
<rect x="66.78" y="120.85" width="7.35" height="3.66" fill="#acacff"/>
<rect x="74.12" y="120.85" width="7.35" height="3.66" fill="#7070ff"/>
<rect x="81.46" y="120.85" width="7.35" height="3.66" fill="#ffbcbc"/>
<rect x="88.8" y="120.85" width="7.35" height="3.66" fill="#ff8c8c"/>
<rect x="96.14" y="120.85" width="7.35" height="3.66" fill="#ff4848"/>
<rect x="103.48" y="120.85" width="14.69" height="3.66" fill="#f8f8ff"/>
<rect x="118.16" y="120.85" width="7.35" height="3.66" fill="#ffbcbc"/>
<rect x="125.5" y="120.85" width="7.35" height="3.66" fill="#ff8c8c"/>
<rect x="132.84" y="120.85" width="7.35" height="3.66" fill="#ff4848"/>
<rect x="140.18" y="120.85" width="7.35" height="3.66" fill="#d6d6ff"/>
<rect x="147.52" y="120.85" width="7.35" height="3.66" fill="#ffe2e2"/>
<rect x="154.86" y="120.85" width="7.35" height="3.66" fill="#acacff"/>
<rect x="162.2" y="120.85" width="7.35" height="3.66" fill="#f8f8ff"/>
<rect x="169.54" y="120.85" width="7.35" height="3.66" fill="#ffbcbc"/>
<rect x="176.88" y="120.85" width="29.37" height="3.66" fill="#ffe2e2"/>
<rect x="206.24" y="120.85" width="7.35" height="3.66" fill="#ffbcbc"/>
<rect x="213.58" y="120.85" width="29.37" height="3.66" fill="#ffe2e2"/>
<rect x="242.94" y="120.85" width="7.35" height="3.66" fill="#ffbcbc"/>
<rect x="15.4" y="124.5" width="22.03" height="3.66" fill="#d6d6ff"/>
<rect x="37.42" y="124.5" width="7.35" height="3.66" fill="#2a2aff"/>
<rect x="44.76" y="124.5" width="7.35" height="3.66" fill="#f8f8ff"/>
<rect x="52.1" y="124.5" width="7.35" height="3.66" fill="#d6d6ff"/>
<rect x="59.44" y="124.5" width="7.35" height="3.66" fill="#2a2aff"/>
<rect x="66.78" y="124.5" width="14.69" height="3.66" fill="#acacff"/>
<rect x="81.46" y="124.5" width="7.35" height="3.66" fill="#ff8c8c"/>
<rect x="88.8" y="124.5" width="14.69" height="3.66" fill="#ffbcbc"/>
<rect x="103.48" y="124.5" width="14.69" height="3.66" fill="#acacff"/>
<rect x="118.16" y="124.5" width="7.35" height="3.66" fill="#f8f8ff"/>
<rect x="125.5" y="124.5" width="7.35" height="3.66" fill="#ff8c8c"/>
<rect x="132.84" y="124.5" width="7.35" height="3.66" fill="#ffbcbc"/>
<rect x="140.18" y="124.5" width="7.35" height="3.66" fill="#ffe2e2"/>
<rect x="147.52" y="124.5" width="7.35" height="3.66" fill="#ffbcbc"/>
<rect x="154.86" y="124.5" width="7.35" height="3.66" fill="#acacff"/>
<rect x="162.2" y="124.5" width="7.35" height="3.66" fill="#d6d6ff"/>
<rect x="169.54" y="124.5" width="7.35" height="3.66" fill="#ffbcbc"/>
<rect x="176.88" y="124.5" width="7.35" height="3.66" fill="#f8f8ff"/>
<rect x="184.22" y="124.5" width="14.69" height="3.66" fill="#ffe2e2"/>
<rect x="198.9" y="124.5" width="7.35" height="3.66" fill="#f8f8ff"/>
<rect x="206.24" y="124.5" width="14.69" height="3.66" fill="#ffe2e2"/>
<rect x="220.92" y="124.5" width="14.69" height="3.66" fill="#f8f8ff"/>
<rect x="235.6" y="124.5" width="14.69" height="3.66" fill="#ffe2e2"/>
<rect x="15.4" y="128.15" width="7.35" height="3.66" fill="#ff4848"/>
<rect x="22.74" y="128.15" width="7.35" height="3.66" fill="#ff8c8c"/>
<rect x="30.08" y="128.15" width="7.35" height="3.66" fill="#ff4848"/>
<rect x="37.42" y="128.15" width="7.35" height="3.66" fill="#ffe2e2"/>
<rect x="44.76" y="128.15" width="7.35" height="3.66" fill="#f8f8ff"/>
<rect x="52.1" y="128.15" width="7.35" height="3.66" fill="#d6d6ff"/>
<rect x="59.44" y="128.15" width="7.35" height="3.66" fill="#ffe2e2"/>
<rect x="66.78" y="128.15" width="14.69" height="3.66" fill="#7070ff"/>
<rect x="81.46" y="128.15" width="7.35" height="3.66" fill="#ff8c8c"/>
<rect x="88.8" y="128.15" width="14.69" height="3.66" fill="#f8f8ff"/>
<rect x="103.48" y="128.15" width="22.03" height="3.66" fill="#ff4848"/>
<rect x="125.5" y="128.15" width="7.35" height="3.66" fill="#ffbcbc"/>
<rect x="132.84" y="128.15" width="7.35" height="3.66" fill="#d6d6ff"/>
<rect x="140.18" y="128.15" width="7.35" height="3.66" fill="#ffbcbc"/>
<rect x="147.52" y="128.15" width="7.35" height="3.66" fill="#f8f8ff"/>
<rect x="154.86" y="128.15" width="14.69" height="3.66" fill="#7070ff"/>
<rect x="169.54" y="128.15" width="7.35" height="3.66" fill="#acacff"/>
<rect x="176.88" y="128.15" width="7.35" height="3.66" fill="#d6d6ff"/>
<rect x="184.22" y="128.15" width="7.35" height="3.66" fill="#ffe2e2"/>
<rect x="191.56" y="128.15" width="22.03" height="3.66" fill="#d6d6ff"/>
<rect x="213.58" y="128.15" width="14.69" height="3.66" fill="#acacff"/>
<rect x="228.26" y="128.15" width="7.35" height="3.66" fill="#7070ff"/>
<rect x="235.6" y="128.15" width="7.35" height="3.66" fill="#d6d6ff"/>
<rect x="242.94" y="128.15" width="7.35" height="3.66" fill="#acacff"/>
<rect x="15.4" y="131.8" width="7.35" height="3.66" fill="#f8f8ff"/>
<rect x="22.74" y="131.8" width="7.35" height="3.66" fill="#ffbcbc"/>
<rect x="30.08" y="131.8" width="7.35" height="3.66" fill="#f8f8ff"/>
<rect x="37.42" y="131.8" width="7.35" height="3.66" fill="#7070ff"/>
<rect x="44.76" y="131.8" width="7.35" height="3.66" fill="#ff8c8c"/>
<rect x="52.1" y="131.8" width="7.35" height="3.66" fill="#f8f8ff"/>
<rect x="59.44" y="131.8" width="7.35" height="3.66" fill="#ffe2e2"/>
<rect x="66.78" y="131.8" width="7.35" height="3.66" fill="#acacff"/>
<rect x="74.12" y="131.8" width="7.35" height="3.66" fill="#7070ff"/>
<rect x="81.46" y="131.8" width="7.35" height="3.66" fill="#ff8c8c"/>
<rect x="88.8" y="131.8" width="14.69" height="3.66" fill="#f8f8ff"/>
<rect x="103.48" y="131.8" width="7.35" height="3.66" fill="#ff8c8c"/>
<rect x="110.82" y="131.8" width="7.35" height="3.66" fill="#ff4848"/>
<rect x="118.16" y="131.8" width="7.35" height="3.66" fill="#ff8c8c"/>
<rect x="125.5" y="131.8" width="7.35" height="3.66" fill="#ffbcbc"/>
<rect x="132.84" y="131.8" width="7.35" height="3.66" fill="#d6d6ff"/>
<rect x="140.18" y="131.8" width="7.35" height="3.66" fill="#ffbcbc"/>
<rect x="147.52" y="131.8" width="7.35" height="3.66" fill="#f8f8ff"/>
<rect x="154.86" y="131.8" width="7.35" height="3.66" fill="#ffbcbc"/>
<rect x="162.2" y="131.8" width="7.35" height="3.66" fill="#7070ff"/>
<rect x="169.54" y="131.8" width="7.35" height="3.66" fill="#2a2aff"/>
<rect x="176.88" y="131.8" width="7.35" height="3.66" fill="#d6d6ff"/>
<rect x="184.22" y="131.8" width="7.35" height="3.66" fill="#7070ff"/>
<rect x="191.56" y="131.8" width="7.35" height="3.66" fill="#acacff"/>
<rect x="198.9" y="131.8" width="7.35" height="3.66" fill="#f8f8ff"/>
<rect x="206.24" y="131.8" width="7.35" height="3.66" fill="#acacff"/>
<rect x="213.58" y="131.8" width="7.35" height="3.66" fill="#f8f8ff"/>
<rect x="220.92" y="131.8" width="14.69" height="3.66" fill="#acacff"/>
<rect x="235.6" y="131.8" width="7.35" height="3.66" fill="#f8f8ff"/>
<rect x="242.94" y="131.8" width="7.35" height="3.66" fill="#ffe2e2"/>
<rect x="15.4" y="135.45" width="7.35" height="3.66" fill="#f8f8ff"/>
<rect x="22.74" y="135.45" width="7.35" height="3.66" fill="#ffe2e2"/>
<rect x="30.08" y="135.45" width="7.35" height="3.66" fill="#ffbcbc"/>
<rect x="37.42" y="135.45" width="14.69" height="3.66" fill="#f8f8ff"/>
<rect x="52.1" y="135.45" width="7.35" height="3.66" fill="#7070ff"/>
<rect x="59.44" y="135.45" width="7.35" height="3.66" fill="#f8f8ff"/>
<rect x="66.78" y="135.45" width="7.35" height="3.66" fill="#2a2aff"/>
<rect x="74.12" y="135.45" width="7.35" height="3.66" fill="#acacff"/>
<rect x="81.46" y="135.45" width="14.69" height="3.66" fill="#ffbcbc"/>
<rect x="96.14" y="135.45" width="7.35" height="3.66" fill="#ff8c8c"/>
<rect x="103.48" y="135.45" width="7.35" height="3.66" fill="#ff4848"/>
<rect x="110.82" y="135.45" width="14.69" height="3.66" fill="#ff8c8c"/>
<rect x="125.5" y="135.45" width="22.03" height="3.66" fill="#ffe2e2"/>
<rect x="147.52" y="135.45" width="7.35" height="3.66" fill="#f8f8ff"/>
<rect x="154.86" y="135.45" width="7.35" height="3.66" fill="#2a2aff"/>
<rect x="162.2" y="135.45" width="7.35" height="3.66" fill="#acacff"/>
<rect x="169.54" y="135.45" width="29.37" height="3.66" fill="#f8f8ff"/>
<rect x="198.9" y="135.45" width="7.35" height="3.66" fill="#ffe2e2"/>
<rect x="206.24" y="135.45" width="14.69" height="3.66" fill="#f8f8ff"/>
<rect x="220.92" y="135.45" width="14.69" height="3.66" fill="#acacff"/>
<rect x="235.6" y="135.45" width="7.35" height="3.66" fill="#f8f8ff"/>
<rect x="242.94" y="135.45" width="7.35" height="3.66" fill="#ffe2e2"/>
<rect x="15.4" y="139.1" width="22.03" height="3.66" fill="#7070ff"/>
<rect x="37.42" y="139.1" width="7.35" height="3.66" fill="#acacff"/>
<rect x="44.76" y="139.1" width="7.35" height="3.66" fill="#7070ff"/>
<rect x="52.1" y="139.1" width="7.35" height="3.66" fill="#acacff"/>
<rect x="59.44" y="139.1" width="7.35" height="3.66" fill="#ffe2e2"/>
<rect x="66.78" y="139.1" width="7.35" height="3.66" fill="#ffbcbc"/>
<rect x="74.12" y="139.1" width="7.35" height="3.66" fill="#f8f8ff"/>
<rect x="81.46" y="139.1" width="7.35" height="3.66" fill="#acacff"/>
<rect x="88.8" y="139.1" width="7.35" height="3.66" fill="#ffbcbc"/>
<rect x="96.14" y="139.1" width="7.35" height="3.66" fill="#ffe2e2"/>
<rect x="103.48" y="139.1" width="7.35" height="3.66" fill="#2a2aff"/>
<rect x="110.82" y="139.1" width="7.35" height="3.66" fill="#f8f8ff"/>
<rect x="118.16" y="139.1" width="7.35" height="3.66" fill="#ffe2e2"/>
<rect x="125.5" y="139.1" width="7.35" height="3.66" fill="#f8f8ff"/>
<rect x="132.84" y="139.1" width="7.35" height="3.66" fill="#ff8c8c"/>
<rect x="140.18" y="139.1" width="7.35" height="3.66" fill="#d6d6ff"/>
<rect x="147.52" y="139.1" width="7.35" height="3.66" fill="#f8f8ff"/>
<rect x="154.86" y="139.1" width="14.69" height="3.66" fill="#d6d6ff"/>
<rect x="169.54" y="139.1" width="22.03" height="3.66" fill="#ff8c8c"/>
<rect x="191.56" y="139.1" width="14.69" height="3.66" fill="#ffbcbc"/>
<rect x="206.24" y="139.1" width="14.69" height="3.66" fill="#ff8c8c"/>
<rect x="220.92" y="139.1" width="7.35" height="3.66" fill="#f8f8ff"/>
<rect x="228.26" y="139.1" width="7.35" height="3.66" fill="#ffbcbc"/>
<rect x="235.6" y="139.1" width="7.35" height="3.66" fill="#ffe2e2"/>
<rect x="242.94" y="139.1" width="7.35" height="3.66" fill="#d6d6ff"/>
<rect x="15.4" y="142.75" width="7.35" height="3.66" fill="#2a2aff"/>
<rect x="22.74" y="142.75" width="7.35" height="3.66" fill="#acacff"/>
<rect x="30.08" y="142.75" width="7.35" height="3.66" fill="#7070ff"/>
<rect x="37.42" y="142.75" width="14.69" height="3.66" fill="#acacff"/>
<rect x="52.1" y="142.75" width="7.35" height="3.66" fill="#f8f8ff"/>
<rect x="59.44" y="142.75" width="7.35" height="3.66" fill="#acacff"/>
<rect x="66.78" y="142.75" width="7.35" height="3.66" fill="#2a2aff"/>
<rect x="74.12" y="142.75" width="7.35" height="3.66" fill="#acacff"/>
<rect x="81.46" y="142.75" width="7.35" height="3.66" fill="#ffe2e2"/>
<rect x="88.8" y="142.75" width="7.35" height="3.66" fill="#ff8c8c"/>
<rect x="96.14" y="142.75" width="7.35" height="3.66" fill="#ffbcbc"/>
<rect x="103.48" y="142.75" width="14.69" height="3.66" fill="#acacff"/>
<rect x="118.16" y="142.75" width="7.35" height="3.66" fill="#ffe2e2"/>
<rect x="125.5" y="142.75" width="7.35" height="3.66" fill="#f8f8ff"/>
<rect x="132.84" y="142.75" width="7.35" height="3.66" fill="#ff8c8c"/>
<rect x="140.18" y="142.75" width="7.35" height="3.66" fill="#f8f8ff"/>
<rect x="147.52" y="142.75" width="7.35" height="3.66" fill="#ffe2e2"/>
<rect x="154.86" y="142.75" width="14.69" height="3.66" fill="#f8f8ff"/>
<rect x="169.54" y="142.75" width="7.35" height="3.66" fill="#ff8c8c"/>
<rect x="176.88" y="142.75" width="44.05" height="3.66" fill="#ffbcbc"/>
<rect x="220.92" y="142.75" width="7.35" height="3.66" fill="#ffe2e2"/>
<rect x="228.26" y="142.75" width="7.35" height="3.66" fill="#f8f8ff"/>
<rect x="235.6" y="142.75" width="14.69" height="3.66" fill="#ffbcbc"/>
<rect x="15.4" y="146.4" width="7.35" height="3.66" fill="#d6d6ff"/>
<rect x="22.74" y="146.4" width="7.35" height="3.66" fill="#ffe2e2"/>
<rect x="30.08" y="146.4" width="7.35" height="3.66" fill="#acacff"/>
<rect x="37.42" y="146.4" width="7.35" height="3.66" fill="#2a2aff"/>
<rect x="44.76" y="146.4" width="29.37" height="3.66" fill="#acacff"/>
<rect x="74.12" y="146.4" width="7.35" height="3.66" fill="#7070ff"/>
<rect x="81.46" y="146.4" width="7.35" height="3.66" fill="#acacff"/>
<rect x="88.8" y="146.4" width="7.35" height="3.66" fill="#ff8c8c"/>
<rect x="96.14" y="146.4" width="7.35" height="3.66" fill="#f8f8ff"/>
<rect x="103.48" y="146.4" width="14.69" height="3.66" fill="#acacff"/>
<rect x="118.16" y="146.4" width="7.35" height="3.66" fill="#f8f8ff"/>
<rect x="125.5" y="146.4" width="29.37" height="3.66" fill="#d6d6ff"/>
<rect x="154.86" y="146.4" width="14.69" height="3.66" fill="#f8f8ff"/>
<rect x="169.54" y="146.4" width="7.35" height="3.66" fill="#ffbcbc"/>
<rect x="176.88" y="146.4" width="7.35" height="3.66" fill="#ffe2e2"/>
<rect x="184.22" y="146.4" width="7.35" height="3.66" fill="#ffbcbc"/>
<rect x="191.56" y="146.4" width="7.35" height="3.66" fill="#ffe2e2"/>
<rect x="198.9" y="146.4" width="51.39" height="3.66" fill="#ffbcbc"/>
<rect x="15.4" y="150.05" width="7.35" height="3.66" fill="#d6d6ff"/>
<rect x="22.74" y="150.05" width="7.35" height="3.66" fill="#7070ff"/>
<rect x="30.08" y="150.05" width="29.37" height="3.66" fill="#acacff"/>
<rect x="59.44" y="150.05" width="7.35" height="3.66" fill="#d6d6ff"/>
<rect x="66.78" y="150.05" width="7.35" height="3.66" fill="#acacff"/>
<rect x="74.12" y="150.05" width="14.69" height="3.66" fill="#7070ff"/>
<rect x="88.8" y="150.05" width="7.35" height="3.66" fill="#ffbcbc"/>
<rect x="96.14" y="150.05" width="7.35" height="3.66" fill="#ff8c8c"/>
<rect x="103.48" y="150.05" width="7.35" height="3.66" fill="#ffbcbc"/>
<rect x="110.82" y="150.05" width="14.69" height="3.66" fill="#ff8c8c"/>
<rect x="125.5" y="150.05" width="7.35" height="3.66" fill="#acacff"/>
<rect x="132.84" y="150.05" width="7.35" height="3.66" fill="#f8f8ff"/>
<rect x="140.18" y="150.05" width="7.35" height="3.66" fill="#d6d6ff"/>
<rect x="147.52" y="150.05" width="22.03" height="3.66" fill="#f8f8ff"/>
<rect x="169.54" y="150.05" width="7.35" height="3.66" fill="#ffbcbc"/>
<rect x="176.88" y="150.05" width="22.03" height="3.66" fill="#ffe2e2"/>
<rect x="198.9" y="150.05" width="14.69" height="3.66" fill="#ffbcbc"/>
<rect x="213.58" y="150.05" width="7.35" height="3.66" fill="#ffe2e2"/>
<rect x="220.92" y="150.05" width="29.37" height="3.66" fill="#ffbcbc"/>
<rect x="15.4" y="153.7" width="22.03" height="3.66" fill="#acacff"/>
<rect x="37.42" y="153.7" width="7.35" height="3.66" fill="#f8f8ff"/>
<rect x="44.76" y="153.7" width="7.35" height="3.66" fill="#acacff"/>
<rect x="52.1" y="153.7" width="7.35" height="3.66" fill="#f8f8ff"/>
<rect x="59.44" y="153.7" width="7.35" height="3.66" fill="#acacff"/>
<rect x="66.78" y="153.7" width="7.35" height="3.66" fill="#2a2aff"/>
<rect x="74.12" y="153.7" width="7.35" height="3.66" fill="#acacff"/>
<rect x="81.46" y="153.7" width="7.35" height="3.66" fill="#2a2aff"/>
<rect x="88.8" y="153.7" width="7.35" height="3.66" fill="#ffe2e2"/>
<rect x="96.14" y="153.7" width="7.35" height="3.66" fill="#ffbcbc"/>
<rect x="103.48" y="153.7" width="7.35" height="3.66" fill="#ff4848"/>
<rect x="110.82" y="153.7" width="7.35" height="3.66" fill="#ff8c8c"/>
<rect x="118.16" y="153.7" width="7.35" height="3.66" fill="#ff4848"/>
<rect x="125.5" y="153.7" width="7.35" height="3.66" fill="#2a2aff"/>
<rect x="132.84" y="153.7" width="7.35" height="3.66" fill="#d6d6ff"/>
<rect x="140.18" y="153.7" width="14.69" height="3.66" fill="#f8f8ff"/>
<rect x="154.86" y="153.7" width="7.35" height="3.66" fill="#d6d6ff"/>
<rect x="162.2" y="153.7" width="7.35" height="3.66" fill="#f8f8ff"/>
<rect x="169.54" y="153.7" width="7.35" height="3.66" fill="#ffbcbc"/>
<rect x="176.88" y="153.7" width="7.35" height="3.66" fill="#ffe2e2"/>
<rect x="184.22" y="153.7" width="14.69" height="3.66" fill="#ffbcbc"/>
<rect x="198.9" y="153.7" width="14.69" height="3.66" fill="#ffe2e2"/>
<rect x="213.58" y="153.7" width="36.71" height="3.66" fill="#ffbcbc"/>
<rect x="15.4" y="157.35" width="7.35" height="3.66" fill="#7070ff"/>
<rect x="22.74" y="157.35" width="7.35" height="3.66" fill="#d6d6ff"/>
<rect x="30.08" y="157.35" width="7.35" height="3.66" fill="#acacff"/>
<rect x="37.42" y="157.35" width="7.35" height="3.66" fill="#ffe2e2"/>
<rect x="44.76" y="157.35" width="7.35" height="3.66" fill="#f8f8ff"/>
<rect x="52.1" y="157.35" width="7.35" height="3.66" fill="#ffe2e2"/>
<rect x="59.44" y="157.35" width="7.35" height="3.66" fill="#d6d6ff"/>
<rect x="66.78" y="157.35" width="7.35" height="3.66" fill="#f8f8ff"/>
<rect x="74.12" y="157.35" width="7.35" height="3.66" fill="#d6d6ff"/>
<rect x="81.46" y="157.35" width="7.35" height="3.66" fill="#2a2aff"/>
<rect x="88.8" y="157.35" width="14.69" height="3.66" fill="#ff8c8c"/>
<rect x="103.48" y="157.35" width="7.35" height="3.66" fill="#ffbcbc"/>
<rect x="110.82" y="157.35" width="14.69" height="3.66" fill="#ff8c8c"/>
<rect x="125.5" y="157.35" width="14.69" height="3.66" fill="#d6d6ff"/>
<rect x="140.18" y="157.35" width="7.35" height="3.66" fill="#ffe2e2"/>
<rect x="147.52" y="157.35" width="7.35" height="3.66" fill="#f8f8ff"/>
<rect x="154.86" y="157.35" width="7.35" height="3.66" fill="#d6d6ff"/>
<rect x="162.2" y="157.35" width="7.35" height="3.66" fill="#f8f8ff"/>
<rect x="169.54" y="157.35" width="7.35" height="3.66" fill="#ffe2e2"/>
<rect x="176.88" y="157.35" width="29.37" height="3.66" fill="#f8f8ff"/>
<rect x="206.24" y="157.35" width="7.35" height="3.66" fill="#ffe2e2"/>
<rect x="213.58" y="157.35" width="14.69" height="3.66" fill="#ffbcbc"/>
<rect x="228.26" y="157.35" width="22.03" height="3.66" fill="#ffe2e2"/>
<rect x="15.4" y="161" width="14.69" height="3.66" fill="#7070ff"/>
<rect x="30.08" y="161" width="14.69" height="3.66" fill="#acacff"/>
<rect x="44.76" y="161" width="7.35" height="3.66" fill="#d6d6ff"/>
<rect x="52.1" y="161" width="7.35" height="3.66" fill="#ffe2e2"/>
<rect x="59.44" y="161" width="7.35" height="3.66" fill="#d6d6ff"/>
<rect x="66.78" y="161" width="14.69" height="3.66" fill="#acacff"/>
<rect x="81.46" y="161" width="7.35" height="3.66" fill="#2a2aff"/>
<rect x="88.8" y="161" width="7.35" height="3.66" fill="#acacff"/>
<rect x="96.14" y="161" width="7.35" height="3.66" fill="#2a2aff"/>
<rect x="103.48" y="161" width="22.03" height="3.66" fill="#acacff"/>
<rect x="125.5" y="161" width="22.03" height="3.66" fill="#f8f8ff"/>
<rect x="147.52" y="161" width="7.35" height="3.66" fill="#d6d6ff"/>
<rect x="154.86" y="161" width="7.35" height="3.66" fill="#f8f8ff"/>
<rect x="162.2" y="161" width="29.37" height="3.66" fill="#ffbcbc"/>
<rect x="191.56" y="161" width="29.37" height="3.66" fill="#ffe2e2"/>
<rect x="220.92" y="161" width="29.37" height="3.66" fill="#ffbcbc"/>
<rect x="15.4" y="164.65" width="14.69" height="3.66" fill="#f8f8ff"/>
<rect x="30.08" y="164.65" width="14.69" height="3.66" fill="#ffbcbc"/>
<rect x="44.76" y="164.65" width="7.35" height="3.66" fill="#acacff"/>
<rect x="52.1" y="164.65" width="7.35" height="3.66" fill="#f8f8ff"/>
<rect x="59.44" y="164.65" width="7.35" height="3.66" fill="#d6d6ff"/>
<rect x="66.78" y="164.65" width="7.35" height="3.66" fill="#f8f8ff"/>
<rect x="74.12" y="164.65" width="7.35" height="3.66" fill="#acacff"/>
<rect x="81.46" y="164.65" width="7.35" height="3.66" fill="#2a2aff"/>
<rect x="88.8" y="164.65" width="7.35" height="3.66" fill="#d6d6ff"/>
<rect x="96.14" y="164.65" width="7.35" height="3.66" fill="#acacff"/>
<rect x="103.48" y="164.65" width="7.35" height="3.66" fill="#ffbcbc"/>
<rect x="110.82" y="164.65" width="7.35" height="3.66" fill="#ffe2e2"/>
<rect x="118.16" y="164.65" width="7.35" height="3.66" fill="#f8f8ff"/>
<rect x="125.5" y="164.65" width="7.35" height="3.66" fill="#acacff"/>
<rect x="132.84" y="164.65" width="14.69" height="3.66" fill="#f8f8ff"/>
<rect x="147.52" y="164.65" width="7.35" height="3.66" fill="#d6d6ff"/>
<rect x="154.86" y="164.65" width="7.35" height="3.66" fill="#ffbcbc"/>
<rect x="162.2" y="164.65" width="7.35" height="3.66" fill="#ff8c8c"/>
<rect x="169.54" y="164.65" width="7.35" height="3.66" fill="#ffbcbc"/>
<rect x="176.88" y="164.65" width="7.35" height="3.66" fill="#f8f8ff"/>
<rect x="184.22" y="164.65" width="7.35" height="3.66" fill="#ff8c8c"/>
<rect x="191.56" y="164.65" width="29.37" height="3.66" fill="#ffe2e2"/>
<rect x="220.92" y="164.65" width="14.69" height="3.66" fill="#ff8c8c"/>
<rect x="235.6" y="164.65" width="7.35" height="3.66" fill="#ffbcbc"/>
<rect x="242.94" y="164.65" width="7.35" height="3.66" fill="#ff8c8c"/>
<rect x="15.4" y="168.3" width="7.35" height="3.66" fill="#d6d6ff"/>
<rect x="22.74" y="168.3" width="7.35" height="3.66" fill="#ffe2e2"/>
<rect x="30.08" y="168.3" width="7.35" height="3.66" fill="#d6d6ff"/>
<rect x="37.42" y="168.3" width="44.05" height="3.66" fill="#acacff"/>
<rect x="81.46" y="168.3" width="7.35" height="3.66" fill="#2a2aff"/>
<rect x="88.8" y="168.3" width="7.35" height="3.66" fill="#ffe2e2"/>
<rect x="96.14" y="168.3" width="22.03" height="3.66" fill="#acacff"/>
<rect x="118.16" y="168.3" width="7.35" height="3.66" fill="#7070ff"/>
<rect x="125.5" y="168.3" width="7.35" height="3.66" fill="#ffe2e2"/>
<rect x="132.84" y="168.3" width="7.35" height="3.66" fill="#2a2aff"/>
<rect x="140.18" y="168.3" width="14.69" height="3.66" fill="#d6d6ff"/>
<rect x="154.86" y="168.3" width="14.69" height="3.66" fill="#ffbcbc"/>
<rect x="169.54" y="168.3" width="7.35" height="3.66" fill="#ffe2e2"/>
<rect x="176.88" y="168.3" width="7.35" height="3.66" fill="#ffbcbc"/>
<rect x="184.22" y="168.3" width="7.35" height="3.66" fill="#ffe2e2"/>
<rect x="191.56" y="168.3" width="14.69" height="3.66" fill="#ffbcbc"/>
<rect x="206.24" y="168.3" width="7.35" height="3.66" fill="#ffe2e2"/>
<rect x="213.58" y="168.3" width="7.35" height="3.66" fill="#ffbcbc"/>
<rect x="220.92" y="168.3" width="7.35" height="3.66" fill="#ffe2e2"/>
<rect x="228.26" y="168.3" width="7.35" height="3.66" fill="#ffbcbc"/>
<rect x="235.6" y="168.3" width="14.69" height="3.66" fill="#ffe2e2"/>
<rect x="15.4" y="171.95" width="14.69" height="3.66" fill="#d6d6ff"/>
<rect x="30.08" y="171.95" width="7.35" height="3.66" fill="#acacff"/>
<rect x="37.42" y="171.95" width="29.37" height="3.66" fill="#d6d6ff"/>
<rect x="66.78" y="171.95" width="7.35" height="3.66" fill="#acacff"/>
<rect x="74.12" y="171.95" width="7.35" height="3.66" fill="#d6d6ff"/>
<rect x="81.46" y="171.95" width="7.35" height="3.66" fill="#f8f8ff"/>
<rect x="88.8" y="171.95" width="7.35" height="3.66" fill="#2a2aff"/>
<rect x="96.14" y="171.95" width="7.35" height="3.66" fill="#acacff"/>
<rect x="103.48" y="171.95" width="7.35" height="3.66" fill="#d6d6ff"/>
<rect x="110.82" y="171.95" width="7.35" height="3.66" fill="#f8f8ff"/>
<rect x="118.16" y="171.95" width="7.35" height="3.66" fill="#d6d6ff"/>
<rect x="125.5" y="171.95" width="7.35" height="3.66" fill="#ffe2e2"/>
<rect x="132.84" y="171.95" width="7.35" height="3.66" fill="#acacff"/>
<rect x="140.18" y="171.95" width="14.69" height="3.66" fill="#f8f8ff"/>
<rect x="154.86" y="171.95" width="7.35" height="3.66" fill="#acacff"/>
<rect x="162.2" y="171.95" width="7.35" height="3.66" fill="#f8f8ff"/>
<rect x="169.54" y="171.95" width="7.35" height="3.66" fill="#ffe2e2"/>
<rect x="176.88" y="171.95" width="7.35" height="3.66" fill="#ffbcbc"/>
<rect x="184.22" y="171.95" width="7.35" height="3.66" fill="#f8f8ff"/>
<rect x="191.56" y="171.95" width="29.37" height="3.66" fill="#ff8c8c"/>
<rect x="220.92" y="171.95" width="14.69" height="3.66" fill="#ffbcbc"/>
<rect x="235.6" y="171.95" width="14.69" height="3.66" fill="#ff8c8c"/>
<rect x="15.4" y="175.6" width="66.07" height="3.66" fill="#7f7fff"/>
<rect x="81.46" y="175.6" width="7.35" height="3.66" fill="#ffe2e2"/>
<rect x="88.8" y="175.6" width="14.69" height="3.66" fill="#ffbcbc"/>
<rect x="103.48" y="175.6" width="7.35" height="3.66" fill="#acacff"/>
<rect x="110.82" y="175.6" width="7.35" height="3.66" fill="#ffe2e2"/>
<rect x="118.16" y="175.6" width="7.35" height="3.66" fill="#ffbcbc"/>
<rect x="125.5" y="175.6" width="7.35" height="3.66" fill="#ffe2e2"/>
<rect x="132.84" y="175.6" width="7.35" height="3.66" fill="#ff8c8c"/>
<rect x="140.18" y="175.6" width="14.69" height="3.66" fill="#ffe2e2"/>
<rect x="154.86" y="175.6" width="14.69" height="3.66" fill="#f8f8ff"/>
<rect x="169.54" y="175.6" width="7.35" height="3.66" fill="#ffbcbc"/>
<rect x="176.88" y="175.6" width="7.35" height="3.66" fill="#ffe2e2"/>
<rect x="184.22" y="175.6" width="66.07" height="3.66" fill="#ffbcbc"/>
<rect x="15.4" y="179.25" width="66.07" height="3.66" fill="#7f7fff"/>
<rect x="81.46" y="179.25" width="22.03" height="3.66" fill="#ffbcbc"/>
<rect x="103.48" y="179.25" width="7.35" height="3.66" fill="#acacff"/>
<rect x="110.82" y="179.25" width="7.35" height="3.66" fill="#ffe2e2"/>
<rect x="118.16" y="179.25" width="7.35" height="3.66" fill="#ffbcbc"/>
<rect x="125.5" y="179.25" width="7.35" height="3.66" fill="#ffe2e2"/>
<rect x="132.84" y="179.25" width="7.35" height="3.66" fill="#ff8c8c"/>
<rect x="140.18" y="179.25" width="7.35" height="3.66" fill="#ffe2e2"/>
<rect x="147.52" y="179.25" width="7.35" height="3.66" fill="#ffbcbc"/>
<rect x="154.86" y="179.25" width="7.35" height="3.66" fill="#f8f8ff"/>
<rect x="162.2" y="179.25" width="7.35" height="3.66" fill="#ffe2e2"/>
<rect x="169.54" y="179.25" width="7.35" height="3.66" fill="#ffbcbc"/>
<rect x="176.88" y="179.25" width="73.41" height="3.66" fill="#ffe2e2"/>
<rect x="15.4" y="182.9" width="66.07" height="3.66" fill="#7f7fff"/>
<rect x="81.46" y="182.9" width="14.69" height="3.66" fill="#ffbcbc"/>
<rect x="96.14" y="182.9" width="7.35" height="3.66" fill="#ff8c8c"/>
<rect x="103.48" y="182.9" width="7.35" height="3.66" fill="#acacff"/>
<rect x="110.82" y="182.9" width="7.35" height="3.66" fill="#ffe2e2"/>
<rect x="118.16" y="182.9" width="7.35" height="3.66" fill="#ffbcbc"/>
<rect x="125.5" y="182.9" width="7.35" height="3.66" fill="#ffe2e2"/>
<rect x="132.84" y="182.9" width="7.35" height="3.66" fill="#ff8c8c"/>
<rect x="140.18" y="182.9" width="7.35" height="3.66" fill="#ffe2e2"/>
<rect x="147.52" y="182.9" width="7.35" height="3.66" fill="#ffbcbc"/>
<rect x="154.86" y="182.9" width="7.35" height="3.66" fill="#d6d6ff"/>
<rect x="162.2" y="182.9" width="7.35" height="3.66" fill="#ffe2e2"/>
<rect x="169.54" y="182.9" width="7.35" height="3.66" fill="#ffbcbc"/>
<rect x="176.88" y="182.9" width="14.69" height="3.66" fill="#ffe2e2"/>
<rect x="191.56" y="182.9" width="7.35" height="3.66" fill="#f8f8ff"/>
<rect x="198.9" y="182.9" width="14.69" height="3.66" fill="#ffe2e2"/>
<rect x="213.58" y="182.9" width="7.35" height="3.66" fill="#ffbcbc"/>
<rect x="220.92" y="182.9" width="14.69" height="3.66" fill="#ffe2e2"/>
<rect x="235.6" y="182.9" width="14.69" height="3.66" fill="#ffbcbc"/>
<rect x="15.4" y="186.55" width="66.07" height="3.66" fill="#7f7fff"/>
<rect x="81.46" y="186.55" width="7.35" height="3.66" fill="#f8f8ff"/>
<rect x="88.8" y="186.55" width="14.69" height="3.66" fill="#ffbcbc"/>
<rect x="103.48" y="186.55" width="7.35" height="3.66" fill="#acacff"/>
<rect x="110.82" y="186.55" width="7.35" height="3.66" fill="#ffe2e2"/>
<rect x="118.16" y="186.55" width="7.35" height="3.66" fill="#ffbcbc"/>
<rect x="125.5" y="186.55" width="7.35" height="3.66" fill="#ffe2e2"/>
<rect x="132.84" y="186.55" width="7.35" height="3.66" fill="#ff8c8c"/>
<rect x="140.18" y="186.55" width="7.35" height="3.66" fill="#ffe2e2"/>
<rect x="147.52" y="186.55" width="7.35" height="3.66" fill="#ffbcbc"/>
<rect x="154.86" y="186.55" width="7.35" height="3.66" fill="#f8f8ff"/>
<rect x="162.2" y="186.55" width="7.35" height="3.66" fill="#ffe2e2"/>
<rect x="169.54" y="186.55" width="7.35" height="3.66" fill="#ffbcbc"/>
<rect x="176.88" y="186.55" width="22.03" height="3.66" fill="#ffe2e2"/>
<rect x="198.9" y="186.55" width="7.35" height="3.66" fill="#ffbcbc"/>
<rect x="206.24" y="186.55" width="36.71" height="3.66" fill="#ffe2e2"/>
<rect x="242.94" y="186.55" width="7.35" height="3.66" fill="#ffbcbc"/>
<rect x="15.4" y="190.2" width="51.39" height="3.66" fill="#7f7fff"/>
<rect x="66.78" y="190.2" width="14.69" height="3.66" fill="#acacff"/>
<rect x="81.46" y="190.2" width="22.03" height="3.66" fill="#ffbcbc"/>
<rect x="103.48" y="190.2" width="7.35" height="3.66" fill="#acacff"/>
<rect x="110.82" y="190.2" width="14.69" height="3.66" fill="#ffbcbc"/>
<rect x="125.5" y="190.2" width="7.35" height="3.66" fill="#ffe2e2"/>
<rect x="132.84" y="190.2" width="7.35" height="3.66" fill="#ff8c8c"/>
<rect x="140.18" y="190.2" width="7.35" height="3.66" fill="#ffe2e2"/>
<rect x="147.52" y="190.2" width="7.35" height="3.66" fill="#ffbcbc"/>
<rect x="154.86" y="190.2" width="7.35" height="3.66" fill="#f8f8ff"/>
<rect x="162.2" y="190.2" width="7.35" height="3.66" fill="#ffe2e2"/>
<rect x="169.54" y="190.2" width="7.35" height="3.66" fill="#ffbcbc"/>
<rect x="176.88" y="190.2" width="14.69" height="3.66" fill="#ffe2e2"/>
<rect x="191.56" y="190.2" width="7.35" height="3.66" fill="#ffbcbc"/>
<rect x="198.9" y="190.2" width="51.39" height="3.66" fill="#ffe2e2"/>
<rect x="15.4" y="193.85" width="29.37" height="3.66" fill="#acacff"/>
<rect x="44.76" y="193.85" width="22.03" height="3.66" fill="#7070ff"/>
<rect x="66.78" y="193.85" width="14.69" height="3.66" fill="#acacff"/>
<rect x="81.46" y="193.85" width="7.35" height="3.66" fill="#ffe2e2"/>
<rect x="88.8" y="193.85" width="14.69" height="3.66" fill="#ff8c8c"/>
<rect x="103.48" y="193.85" width="7.35" height="3.66" fill="#acacff"/>
<rect x="110.82" y="193.85" width="7.35" height="3.66" fill="#ffe2e2"/>
<rect x="118.16" y="193.85" width="14.69" height="3.66" fill="#ffbcbc"/>
<rect x="132.84" y="193.85" width="7.35" height="3.66" fill="#ff8c8c"/>
<rect x="140.18" y="193.85" width="29.37" height="3.66" fill="#ffe2e2"/>
<rect x="169.54" y="193.85" width="51.39" height="3.66" fill="#ffbcbc"/>
<rect x="220.92" y="193.85" width="14.69" height="3.66" fill="#ffe2e2"/>
<rect x="235.6" y="193.85" width="14.69" height="3.66" fill="#ffbcbc"/>
<rect x="15.4" y="197.5" width="7.35" height="3.66" fill="#acacff"/>
<rect x="22.74" y="197.5" width="7.35" height="3.66" fill="#7070ff"/>
<rect x="30.08" y="197.5" width="14.69" height="3.66" fill="#acacff"/>
<rect x="44.76" y="197.5" width="22.03" height="3.66" fill="#7070ff"/>
<rect x="66.78" y="197.5" width="14.69" height="3.66" fill="#acacff"/>
<rect x="81.46" y="197.5" width="7.35" height="3.66" fill="#d6d6ff"/>
<rect x="88.8" y="197.5" width="7.35" height="3.66" fill="#ffbcbc"/>
<rect x="96.14" y="197.5" width="7.35" height="3.66" fill="#ff8c8c"/>
<rect x="103.48" y="197.5" width="7.35" height="3.66" fill="#7070ff"/>
<rect x="110.82" y="197.5" width="7.35" height="3.66" fill="#ffe2e2"/>
<rect x="118.16" y="197.5" width="7.35" height="3.66" fill="#ffbcbc"/>
<rect x="125.5" y="197.5" width="7.35" height="3.66" fill="#ffe2e2"/>
<rect x="132.84" y="197.5" width="7.35" height="3.66" fill="#ff8c8c"/>
<rect x="140.18" y="197.5" width="14.69" height="3.66" fill="#ffe2e2"/>
<rect x="154.86" y="197.5" width="7.35" height="3.66" fill="#f8f8ff"/>
<rect x="162.2" y="197.5" width="7.35" height="3.66" fill="#ffe2e2"/>
<rect x="169.54" y="197.5" width="7.35" height="3.66" fill="#ffbcbc"/>
<rect x="176.88" y="197.5" width="7.35" height="3.66" fill="#ffe2e2"/>
<rect x="184.22" y="197.5" width="22.03" height="3.66" fill="#ffbcbc"/>
<rect x="206.24" y="197.5" width="7.35" height="3.66" fill="#ffe2e2"/>
<rect x="213.58" y="197.5" width="36.71" height="3.66" fill="#ffbcbc"/>
<rect x="15.4" y="201.15" width="7.35" height="3.66" fill="#acacff"/>
<rect x="22.74" y="201.15" width="14.69" height="3.66" fill="#7070ff"/>
<rect x="37.42" y="201.15" width="7.35" height="3.66" fill="#acacff"/>
<rect x="44.76" y="201.15" width="7.35" height="3.66" fill="#7070ff"/>
<rect x="52.1" y="201.15" width="29.37" height="3.66" fill="#acacff"/>
<rect x="81.46" y="201.15" width="7.35" height="3.66" fill="#ffbcbc"/>
<rect x="88.8" y="201.15" width="14.69" height="3.66" fill="#ff8c8c"/>
<rect x="103.48" y="201.15" width="7.35" height="3.66" fill="#7070ff"/>
<rect x="110.82" y="201.15" width="7.35" height="3.66" fill="#f8f8ff"/>
<rect x="118.16" y="201.15" width="7.35" height="3.66" fill="#ffbcbc"/>
<rect x="125.5" y="201.15" width="7.35" height="3.66" fill="#ffe2e2"/>
<rect x="132.84" y="201.15" width="7.35" height="3.66" fill="#ff8c8c"/>
<rect x="140.18" y="201.15" width="22.03" height="3.66" fill="#ffe2e2"/>
<rect x="162.2" y="201.15" width="7.35" height="3.66" fill="#f8f8ff"/>
<rect x="169.54" y="201.15" width="80.75" height="3.66" fill="#ffbcbc"/>
<rect x="15.4" y="204.8" width="7.35" height="3.66" fill="#7070ff"/>
<rect x="22.74" y="204.8" width="22.03" height="3.66" fill="#acacff"/>
<rect x="44.76" y="204.8" width="7.35" height="3.66" fill="#7070ff"/>
<rect x="52.1" y="204.8" width="7.35" height="3.66" fill="#d6d6ff"/>
<rect x="59.44" y="204.8" width="7.35" height="3.66" fill="#acacff"/>
<rect x="66.78" y="204.8" width="14.69" height="3.66" fill="#7070ff"/>
<rect x="81.46" y="204.8" width="7.35" height="3.66" fill="#2a2aff"/>
<rect x="88.8" y="204.8" width="14.69" height="3.66" fill="#ff8c8c"/>
<rect x="103.48" y="204.8" width="7.35" height="3.66" fill="#acacff"/>
<rect x="110.82" y="204.8" width="7.35" height="3.66" fill="#f8f8ff"/>
<rect x="118.16" y="204.8" width="7.35" height="3.66" fill="#ffbcbc"/>
<rect x="125.5" y="204.8" width="7.35" height="3.66" fill="#ffe2e2"/>
<rect x="132.84" y="204.8" width="7.35" height="3.66" fill="#ffbcbc"/>
<rect x="140.18" y="204.8" width="29.37" height="3.66" fill="#ffe2e2"/>
<rect x="169.54" y="204.8" width="66.07" height="3.66" fill="#ffbcbc"/>
<rect x="235.6" y="204.8" width="7.35" height="3.66" fill="#ff8c8c"/>
<rect x="242.94" y="204.8" width="7.35" height="3.66" fill="#ffbcbc"/>
<rect x="15.4" y="208.45" width="7.35" height="3.66" fill="#acacff"/>
<rect x="22.74" y="208.45" width="7.35" height="3.66" fill="#d6d6ff"/>
<rect x="30.08" y="208.45" width="7.35" height="3.66" fill="#acacff"/>
<rect x="37.42" y="208.45" width="14.69" height="3.66" fill="#2a2aff"/>
<rect x="52.1" y="208.45" width="7.35" height="3.66" fill="#7070ff"/>
<rect x="59.44" y="208.45" width="14.69" height="3.66" fill="#acacff"/>
<rect x="74.12" y="208.45" width="7.35" height="3.66" fill="#7070ff"/>
<rect x="81.46" y="208.45" width="7.35" height="3.66" fill="#ffbcbc"/>
<rect x="88.8" y="208.45" width="7.35" height="3.66" fill="#f8f8ff"/>
<rect x="96.14" y="208.45" width="7.35" height="3.66" fill="#ff8c8c"/>
<rect x="103.48" y="208.45" width="22.03" height="3.66" fill="#ffbcbc"/>
<rect x="125.5" y="208.45" width="14.69" height="3.66" fill="#f8f8ff"/>
<rect x="140.18" y="208.45" width="7.35" height="3.66" fill="#acacff"/>
<rect x="147.52" y="208.45" width="14.69" height="3.66" fill="#f8f8ff"/>
<rect x="162.2" y="208.45" width="7.35" height="3.66" fill="#ffe2e2"/>
<rect x="169.54" y="208.45" width="7.35" height="3.66" fill="#ffbcbc"/>
<rect x="176.88" y="208.45" width="14.69" height="3.66" fill="#ffe2e2"/>
<rect x="191.56" y="208.45" width="14.69" height="3.66" fill="#ffbcbc"/>
<rect x="206.24" y="208.45" width="7.35" height="3.66" fill="#f8f8ff"/>
<rect x="213.58" y="208.45" width="36.71" height="3.66" fill="#ffbcbc"/>
<rect x="15.4" y="212.1" width="7.35" height="3.66" fill="#d6d6ff"/>
<rect x="22.74" y="212.1" width="7.35" height="3.66" fill="#f8f8ff"/>
<rect x="30.08" y="212.1" width="7.35" height="3.66" fill="#acacff"/>
<rect x="37.42" y="212.1" width="29.37" height="3.66" fill="#7070ff"/>
<rect x="66.78" y="212.1" width="7.35" height="3.66" fill="#acacff"/>
<rect x="74.12" y="212.1" width="7.35" height="3.66" fill="#7070ff"/>
<rect x="81.46" y="212.1" width="7.35" height="3.66" fill="#ffe2e2"/>
<rect x="88.8" y="212.1" width="7.35" height="3.66" fill="#f8f8ff"/>
<rect x="96.14" y="212.1" width="7.35" height="3.66" fill="#ff8c8c"/>
<rect x="103.48" y="212.1" width="7.35" height="3.66" fill="#acacff"/>
<rect x="110.82" y="212.1" width="7.35" height="3.66" fill="#f8f8ff"/>
<rect x="118.16" y="212.1" width="22.03" height="3.66" fill="#ffbcbc"/>
<rect x="140.18" y="212.1" width="22.03" height="3.66" fill="#f8f8ff"/>
<rect x="162.2" y="212.1" width="7.35" height="3.66" fill="#ffe2e2"/>
<rect x="169.54" y="212.1" width="7.35" height="3.66" fill="#ffbcbc"/>
<rect x="176.88" y="212.1" width="7.35" height="3.66" fill="#ffe2e2"/>
<rect x="184.22" y="212.1" width="66.07" height="3.66" fill="#ffbcbc"/>
<rect x="15.4" y="215.75" width="7.35" height="3.66" fill="#f8f8ff"/>
<rect x="22.74" y="215.75" width="7.35" height="3.66" fill="#d6d6ff"/>
<rect x="30.08" y="215.75" width="7.35" height="3.66" fill="#f8f8ff"/>
<rect x="37.42" y="215.75" width="7.35" height="3.66" fill="#7070ff"/>
<rect x="44.76" y="215.75" width="7.35" height="3.66" fill="#2a2aff"/>
<rect x="52.1" y="215.75" width="7.35" height="3.66" fill="#acacff"/>
<rect x="59.44" y="215.75" width="14.69" height="3.66" fill="#7070ff"/>
<rect x="74.12" y="215.75" width="7.35" height="3.66" fill="#2a2aff"/>
<rect x="81.46" y="215.75" width="7.35" height="3.66" fill="#acacff"/>
<rect x="88.8" y="215.75" width="36.71" height="3.66" fill="#ffbcbc"/>
<rect x="125.5" y="215.75" width="14.69" height="3.66" fill="#ffe2e2"/>
<rect x="140.18" y="215.75" width="7.35" height="3.66" fill="#d6d6ff"/>
<rect x="147.52" y="215.75" width="7.35" height="3.66" fill="#f8f8ff"/>
<rect x="154.86" y="215.75" width="14.69" height="3.66" fill="#ffe2e2"/>
<rect x="169.54" y="215.75" width="7.35" height="3.66" fill="#ffbcbc"/>
<rect x="176.88" y="215.75" width="7.35" height="3.66" fill="#ffe2e2"/>
<rect x="184.22" y="215.75" width="66.07" height="3.66" fill="#ffbcbc"/>
<rect x="15.4" y="219.4" width="14.69" height="3.66" fill="#d6d6ff"/>
<rect x="30.08" y="219.4" width="7.35" height="3.66" fill="#acacff"/>
<rect x="37.42" y="219.4" width="14.69" height="3.66" fill="#7070ff"/>
<rect x="52.1" y="219.4" width="7.35" height="3.66" fill="#d6d6ff"/>
<rect x="59.44" y="219.4" width="22.03" height="3.66" fill="#7070ff"/>
<rect x="81.46" y="219.4" width="7.35" height="3.66" fill="#d6d6ff"/>
<rect x="88.8" y="219.4" width="7.35" height="3.66" fill="#ffbcbc"/>
<rect x="96.14" y="219.4" width="7.35" height="3.66" fill="#ff8c8c"/>
<rect x="103.48" y="219.4" width="7.35" height="3.66" fill="#ff4848"/>
<rect x="110.82" y="219.4" width="14.69" height="3.66" fill="#ff8c8c"/>
<rect x="125.5" y="219.4" width="7.35" height="3.66" fill="#ffe2e2"/>
<rect x="132.84" y="219.4" width="14.69" height="3.66" fill="#f8f8ff"/>
<rect x="147.52" y="219.4" width="7.35" height="3.66" fill="#ffe2e2"/>
<rect x="154.86" y="219.4" width="7.35" height="3.66" fill="#d6d6ff"/>
<rect x="162.2" y="219.4" width="14.69" height="3.66" fill="#ffe2e2"/>
<rect x="176.88" y="219.4" width="14.69" height="3.66" fill="#f8f8ff"/>
<rect x="191.56" y="219.4" width="7.35" height="3.66" fill="#ffe2e2"/>
<rect x="198.9" y="219.4" width="22.03" height="3.66" fill="#ffbcbc"/>
<rect x="220.92" y="219.4" width="7.35" height="3.66" fill="#f8f8ff"/>
<rect x="228.26" y="219.4" width="14.69" height="3.66" fill="#ffe2e2"/>
<rect x="242.94" y="219.4" width="7.35" height="3.66" fill="#ffbcbc"/>
<rect x="15.4" y="223.05" width="7.35" height="3.66" fill="#acacff"/>
<rect x="22.74" y="223.05" width="7.35" height="3.66" fill="#d6d6ff"/>
<rect x="30.08" y="223.05" width="7.35" height="3.66" fill="#acacff"/>
<rect x="37.42" y="223.05" width="7.35" height="3.66" fill="#7070ff"/>
<rect x="44.76" y="223.05" width="14.69" height="3.66" fill="#d6d6ff"/>
<rect x="59.44" y="223.05" width="22.03" height="3.66" fill="#2a2aff"/>
<rect x="81.46" y="223.05" width="7.35" height="3.66" fill="#d6d6ff"/>
<rect x="88.8" y="223.05" width="29.37" height="3.66" fill="#ffbcbc"/>
<rect x="118.16" y="223.05" width="7.35" height="3.66" fill="#ff8c8c"/>
<rect x="125.5" y="223.05" width="7.35" height="3.66" fill="#acacff"/>
<rect x="132.84" y="223.05" width="22.03" height="3.66" fill="#f8f8ff"/>
<rect x="154.86" y="223.05" width="36.71" height="3.66" fill="#ffe2e2"/>
<rect x="191.56" y="223.05" width="58.73" height="3.66" fill="#ffbcbc"/>
<rect x="15.4" y="226.7" width="7.35" height="3.66" fill="#acacff"/>
<rect x="22.74" y="226.7" width="7.35" height="3.66" fill="#7070ff"/>
<rect x="30.08" y="226.7" width="7.35" height="3.66" fill="#acacff"/>
<rect x="37.42" y="226.7" width="7.35" height="3.66" fill="#7070ff"/>
<rect x="44.76" y="226.7" width="7.35" height="3.66" fill="#acacff"/>
<rect x="52.1" y="226.7" width="7.35" height="3.66" fill="#d6d6ff"/>
<rect x="59.44" y="226.7" width="22.03" height="3.66" fill="#7070ff"/>
<rect x="81.46" y="226.7" width="7.35" height="3.66" fill="#f8f8ff"/>
<rect x="88.8" y="226.7" width="14.69" height="3.66" fill="#ffbcbc"/>
<rect x="103.48" y="226.7" width="7.35" height="3.66" fill="#f8f8ff"/>
<rect x="110.82" y="226.7" width="14.69" height="3.66" fill="#ffbcbc"/>
<rect x="125.5" y="226.7" width="7.35" height="3.66" fill="#acacff"/>
<rect x="132.84" y="226.7" width="7.35" height="3.66" fill="#f8f8ff"/>
<rect x="140.18" y="226.7" width="7.35" height="3.66" fill="#d6d6ff"/>
<rect x="147.52" y="226.7" width="7.35" height="3.66" fill="#f8f8ff"/>
<rect x="154.86" y="226.7" width="36.71" height="3.66" fill="#ffe2e2"/>
<rect x="191.56" y="226.7" width="36.71" height="3.66" fill="#ffbcbc"/>
<rect x="228.26" y="226.7" width="14.69" height="3.66" fill="#ff8c8c"/>
<rect x="242.94" y="226.7" width="7.35" height="3.66" fill="#ffbcbc"/>
<rect x="15.4" y="230.35" width="7.35" height="3.66" fill="#7070ff"/>
<rect x="22.74" y="230.35" width="7.35" height="3.66" fill="#d6d6ff"/>
<rect x="30.08" y="230.35" width="7.35" height="3.66" fill="#f8f8ff"/>
<rect x="37.42" y="230.35" width="7.35" height="3.66" fill="#7070ff"/>
<rect x="44.76" y="230.35" width="7.35" height="3.66" fill="#d6d6ff"/>
<rect x="52.1" y="230.35" width="7.35" height="3.66" fill="#acacff"/>
<rect x="59.44" y="230.35" width="22.03" height="3.66" fill="#7070ff"/>
<rect x="81.46" y="230.35" width="7.35" height="3.66" fill="#ffe2e2"/>
<rect x="88.8" y="230.35" width="7.35" height="3.66" fill="#ffbcbc"/>
<rect x="96.14" y="230.35" width="7.35" height="3.66" fill="#f8f8ff"/>
<rect x="103.48" y="230.35" width="7.35" height="3.66" fill="#ffe2e2"/>
<rect x="110.82" y="230.35" width="14.69" height="3.66" fill="#ffbcbc"/>
<rect x="125.5" y="230.35" width="7.35" height="3.66" fill="#7070ff"/>
<rect x="132.84" y="230.35" width="14.69" height="3.66" fill="#d6d6ff"/>
<rect x="147.52" y="230.35" width="7.35" height="3.66" fill="#f8f8ff"/>
<rect x="154.86" y="230.35" width="7.35" height="3.66" fill="#ffe2e2"/>
<rect x="162.2" y="230.35" width="7.35" height="3.66" fill="#ff8c8c"/>
<rect x="169.54" y="230.35" width="7.35" height="3.66" fill="#ffe2e2"/>
<rect x="176.88" y="230.35" width="7.35" height="3.66" fill="#f8f8ff"/>
<rect x="184.22" y="230.35" width="36.71" height="3.66" fill="#ffbcbc"/>
<rect x="220.92" y="230.35" width="7.35" height="3.66" fill="#ff8c8c"/>
<rect x="228.26" y="230.35" width="7.35" height="3.66" fill="#ffbcbc"/>
<rect x="235.6" y="230.35" width="7.35" height="3.66" fill="#ff8c8c"/>
<rect x="242.94" y="230.35" width="7.35" height="3.66" fill="#ffbcbc"/>
<rect x="15.4" y="234" width="14.69" height="3.66" fill="#7070ff"/>
<rect x="30.08" y="234" width="29.37" height="3.66" fill="#acacff"/>
<rect x="59.44" y="234" width="7.35" height="3.66" fill="#2a2aff"/>
<rect x="66.78" y="234" width="14.69" height="3.66" fill="#7070ff"/>
<rect x="81.46" y="234" width="7.35" height="3.66" fill="#ffe2e2"/>
<rect x="88.8" y="234" width="7.35" height="3.66" fill="#f8f8ff"/>
<rect x="96.14" y="234" width="7.35" height="3.66" fill="#ffe2e2"/>
<rect x="103.48" y="234" width="7.35" height="3.66" fill="#acacff"/>
<rect x="110.82" y="234" width="7.35" height="3.66" fill="#f8f8ff"/>
<rect x="118.16" y="234" width="7.35" height="3.66" fill="#d6d6ff"/>
<rect x="125.5" y="234" width="7.35" height="3.66" fill="#acacff"/>
<rect x="132.84" y="234" width="7.35" height="3.66" fill="#f8f8ff"/>
<rect x="140.18" y="234" width="7.35" height="3.66" fill="#d6d6ff"/>
<rect x="147.52" y="234" width="7.35" height="3.66" fill="#f8f8ff"/>
<rect x="154.86" y="234" width="7.35" height="3.66" fill="#ffe2e2"/>
<rect x="162.2" y="234" width="29.37" height="3.66" fill="#ffbcbc"/>
<rect x="191.56" y="234" width="14.69" height="3.66" fill="#ff8c8c"/>
<rect x="206.24" y="234" width="22.03" height="3.66" fill="#ffbcbc"/>
<rect x="228.26" y="234" width="22.03" height="3.66" fill="#ff8c8c"/>
<rect x="15.4" y="237.65" width="44.05" height="3.66" fill="#7070ff"/>
<rect x="59.44" y="237.65" width="7.35" height="3.66" fill="#d6d6ff"/>
<rect x="66.78" y="237.65" width="14.69" height="3.66" fill="#acacff"/>
<rect x="81.46" y="237.65" width="7.35" height="3.66" fill="#f8f8ff"/>
<rect x="88.8" y="237.65" width="7.35" height="3.66" fill="#ffbcbc"/>
<rect x="96.14" y="237.65" width="7.35" height="3.66" fill="#ffe2e2"/>
<rect x="103.48" y="237.65" width="22.03" height="3.66" fill="#ff8c8c"/>
<rect x="125.5" y="237.65" width="7.35" height="3.66" fill="#acacff"/>
<rect x="132.84" y="237.65" width="14.69" height="3.66" fill="#f8f8ff"/>
<rect x="147.52" y="237.65" width="7.35" height="3.66" fill="#ffe2e2"/>
<rect x="154.86" y="237.65" width="95.43" height="3.66" fill="#ffbcbc"/>
<rect x="15.4" y="241.3" width="22.03" height="3.66" fill="#7070ff"/>
<rect x="37.42" y="241.3" width="7.35" height="3.66" fill="#acacff"/>
<rect x="44.76" y="241.3" width="7.35" height="3.66" fill="#7070ff"/>
<rect x="52.1" y="241.3" width="7.35" height="3.66" fill="#acacff"/>
<rect x="59.44" y="241.3" width="7.35" height="3.66" fill="#7070ff"/>
<rect x="66.78" y="241.3" width="14.69" height="3.66" fill="#acacff"/>
<rect x="81.46" y="241.3" width="7.35" height="3.66" fill="#f8f8ff"/>
<rect x="88.8" y="241.3" width="14.69" height="3.66" fill="#ffbcbc"/>
<rect x="103.48" y="241.3" width="22.03" height="3.66" fill="#ff8c8c"/>
<rect x="125.5" y="241.3" width="7.35" height="3.66" fill="#7070ff"/>
<rect x="132.84" y="241.3" width="7.35" height="3.66" fill="#d6d6ff"/>
<rect x="140.18" y="241.3" width="14.69" height="3.66" fill="#f8f8ff"/>
<rect x="154.86" y="241.3" width="7.35" height="3.66" fill="#acacff"/>
<rect x="162.2" y="241.3" width="7.35" height="3.66" fill="#f8f8ff"/>
<rect x="169.54" y="241.3" width="7.35" height="3.66" fill="#ffbcbc"/>
<rect x="176.88" y="241.3" width="7.35" height="3.66" fill="#ffe2e2"/>
<rect x="184.22" y="241.3" width="7.35" height="3.66" fill="#ffbcbc"/>
<rect x="191.56" y="241.3" width="7.35" height="3.66" fill="#ff8c8c"/>
<rect x="198.9" y="241.3" width="51.39" height="3.66" fill="#ffbcbc"/>
<rect x="15.4" y="244.95" width="22.03" height="3.66" fill="#7070ff"/>
<rect x="37.42" y="244.95" width="22.03" height="3.66" fill="#acacff"/>
<rect x="59.44" y="244.95" width="7.35" height="3.66" fill="#f8f8ff"/>
<rect x="66.78" y="244.95" width="7.35" height="3.66" fill="#ffe2e2"/>
<rect x="74.12" y="244.95" width="7.35" height="3.66" fill="#f8f8ff"/>
<rect x="81.46" y="244.95" width="22.03" height="3.66" fill="#ff8c8c"/>
<rect x="103.48" y="244.95" width="7.35" height="3.66" fill="#f8f8ff"/>
<rect x="110.82" y="244.95" width="14.69" height="3.66" fill="#ffbcbc"/>
<rect x="125.5" y="244.95" width="7.35" height="3.66" fill="#ffe2e2"/>
<rect x="132.84" y="244.95" width="7.35" height="3.66" fill="#ff8c8c"/>
<rect x="140.18" y="244.95" width="7.35" height="3.66" fill="#ffe2e2"/>
<rect x="147.52" y="244.95" width="7.35" height="3.66" fill="#ffbcbc"/>
<rect x="154.86" y="244.95" width="7.35" height="3.66" fill="#acacff"/>
<rect x="162.2" y="244.95" width="7.35" height="3.66" fill="#2a2aff"/>
<rect x="169.54" y="244.95" width="22.03" height="3.66" fill="#ffe2e2"/>
<rect x="191.56" y="244.95" width="7.35" height="3.66" fill="#acacff"/>
<rect x="198.9" y="244.95" width="22.03" height="3.66" fill="#ffe2e2"/>
<rect x="220.92" y="244.95" width="22.03" height="3.66" fill="#f8f8ff"/>
<rect x="242.94" y="244.95" width="7.35" height="3.66" fill="#ffe2e2"/>
<rect x="15.4" y="248.6" width="7.35" height="3.66" fill="#acacff"/>
<rect x="22.74" y="248.6" width="7.35" height="3.66" fill="#7070ff"/>
<rect x="30.08" y="248.6" width="7.35" height="3.66" fill="#d6d6ff"/>
<rect x="37.42" y="248.6" width="7.35" height="3.66" fill="#f8f8ff"/>
<rect x="44.76" y="248.6" width="14.69" height="3.66" fill="#7070ff"/>
<rect x="59.44" y="248.6" width="22.03" height="3.66" fill="#acacff"/>
<rect x="81.46" y="248.6" width="7.35" height="3.66" fill="#ffbcbc"/>
<rect x="88.8" y="248.6" width="7.35" height="3.66" fill="#ff8c8c"/>
<rect x="96.14" y="248.6" width="14.69" height="3.66" fill="#ff4848"/>
<rect x="110.82" y="248.6" width="14.69" height="3.66" fill="#ffbcbc"/>
<rect x="125.5" y="248.6" width="7.35" height="3.66" fill="#acacff"/>
<rect x="132.84" y="248.6" width="7.35" height="3.66" fill="#ffe2e2"/>
<rect x="140.18" y="248.6" width="14.69" height="3.66" fill="#ffbcbc"/>
<rect x="154.86" y="248.6" width="14.69" height="3.66" fill="#7070ff"/>
<rect x="169.54" y="248.6" width="7.35" height="3.66" fill="#d6d6ff"/>
<rect x="176.88" y="248.6" width="7.35" height="3.66" fill="#7070ff"/>
<rect x="184.22" y="248.6" width="29.37" height="3.66" fill="#f8f8ff"/>
<rect x="213.58" y="248.6" width="7.35" height="3.66" fill="#ffe2e2"/>
<rect x="220.92" y="248.6" width="14.69" height="3.66" fill="#f8f8ff"/>
<rect x="235.6" y="248.6" width="14.69" height="3.66" fill="#ffe2e2"/>
</g>
<rect x="254.2" y="22.3" width="13.6" height="3.67" fill="#e9e0fa"/>
<text x="255.5" y="25.05" font-size="2.6" fill="#222">TNXB</text>
<rect x="254.2" y="25.95" width="13.6" height="3.67" fill="#e9e0fa"/>
<text x="255.5" y="28.7" font-size="2.6" fill="#222">COL1A1</text>
<rect x="254.2" y="29.6" width="13.6" height="3.67" fill="#e9e0fa"/>
<text x="255.5" y="32.35" font-size="2.6" fill="#222">COL3A1</text>
<rect x="254.2" y="33.25" width="13.6" height="3.67" fill="#e9e0fa"/>
<text x="255.5" y="36" font-size="2.6" fill="#222">COL1A2</text>
<rect x="254.2" y="36.9" width="13.6" height="3.67" fill="#e9e0fa"/>
<text x="255.5" y="39.65" font-size="2.6" fill="#222">NAV1</text>
<rect x="254.2" y="40.55" width="13.6" height="3.67" fill="#e9e0fa"/>
<text x="255.5" y="43.3" font-size="2.6" fill="#222">NEXP1</text>
<rect x="254.2" y="44.2" width="13.6" height="3.67" fill="#e9e0fa"/>
<text x="255.5" y="46.95" font-size="2.6" fill="#222">PTGIS</text>
<rect x="254.2" y="47.85" width="13.6" height="3.67" fill="#e9e0fa"/>
<text x="255.5" y="50.6" font-size="2.6" fill="#222">CDKN1C</text>
<text x="255.5" y="54.25" font-size="2.6" fill="#222">LOXL2</text>
<text x="255.5" y="57.9" font-size="2.6" fill="#222">ALDH1B1</text>
<rect x="254.2" y="58.8" width="13.6" height="3.67" fill="#e9e0fa"/>
<text x="255.5" y="61.55" font-size="2.6" fill="#222">PTGDS</text>
<text x="255.5" y="65.2" font-size="2.6" fill="#222">LUM</text>
<text x="255.5" y="68.85" font-size="2.6" fill="#222">DCN</text>
<rect x="254.2" y="69.75" width="13.6" height="3.67" fill="#e9e0fa"/>
<text x="255.5" y="72.5" font-size="2.6" fill="#222">SLC7A11</text>
<text x="255.5" y="76.15" font-size="2.6" fill="#222">LAMA4</text>
<rect x="254.2" y="77.05" width="13.6" height="3.67" fill="#e9e0fa"/>
<text x="255.5" y="79.8" font-size="2.6" fill="#222">ADAMTS2</text>
<rect x="254.2" y="80.7" width="13.6" height="3.67" fill="#e9e0fa"/>
<text x="255.5" y="83.45" font-size="2.6" fill="#222">THBS2</text>
<rect x="254.2" y="84.35" width="13.6" height="3.67" fill="#e9e0fa"/>
<text x="255.5" y="87.1" font-size="2.6" fill="#222">CD248</text>
<text x="255.5" y="90.75" font-size="2.6" fill="#222">ACTA2</text>
<text x="255.5" y="94.4" font-size="2.6" fill="#222">TAGLN</text>
<text x="255.5" y="98.05" font-size="2.6" fill="#222">COL5A1</text>
<rect x="254.2" y="98.95" width="13.6" height="3.67" fill="#e9e0fa"/>
<text x="255.5" y="101.7" font-size="2.6" fill="#222">PTGIS2</text>
<rect x="254.2" y="102.6" width="13.6" height="3.67" fill="#e9e0fa"/>
<text x="255.5" y="105.35" font-size="2.6" fill="#222">DPT</text>
<rect x="254.2" y="106.25" width="13.6" height="3.67" fill="#e9e0fa"/>
<text x="255.5" y="109" font-size="2.6" fill="#222">FAP</text>
<text x="255.5" y="112.65" font-size="2.6" fill="#222">CXCL12</text>
<rect x="254.2" y="113.55" width="13.6" height="3.67" fill="#e9e0fa"/>
<text x="255.5" y="116.3" font-size="2.6" fill="#222">SFRP2</text>
<text x="255.5" y="119.95" font-size="2.6" fill="#222">PDGFRB</text>
<rect x="254.2" y="120.85" width="13.6" height="3.67" fill="#e9e0fa"/>
<text x="255.5" y="123.6" font-size="2.6" fill="#222">MMP2</text>
<text x="255.5" y="127.25" font-size="2.6" fill="#222">IGFBP7</text>
<text x="255.5" y="130.9" font-size="2.6" fill="#222">SPARC</text>
<text x="255.5" y="134.55" font-size="2.6" fill="#222">CTSK</text>
<text x="255.5" y="138.2" font-size="2.6" fill="#222">VCAN</text>
<rect x="254.2" y="139.1" width="16" height="3.67" fill="#e9e0fa"/>
<text x="255.5" y="141.85" font-size="2.6" fill="#222">DAB2</text>
<text x="255.5" y="145.5" font-size="2.6" fill="#222">HLA-DRB5</text>
<text x="255.5" y="149.15" font-size="2.6" fill="#222">LYZ</text>
<text x="255.5" y="152.8" font-size="2.6" fill="#222">MAF</text>
<text x="255.5" y="156.45" font-size="2.6" fill="#222">FCER1G</text>
<text x="255.5" y="160.1" font-size="2.6" fill="#222">EMP1</text>
<text x="255.5" y="163.75" font-size="2.6" fill="#222">NNMT</text>
<text x="255.5" y="167.4" font-size="2.6" fill="#222">FLRT2</text>
<text x="255.5" y="171.05" font-size="2.6" fill="#222">SFRP4</text>
<text x="255.5" y="174.7" font-size="2.6" fill="#222">MMP11</text>
<rect x="254.2" y="175.6" width="13.6" height="3.67" fill="#e9e0fa"/>
<text x="255.5" y="178.35" font-size="2.6" fill="#222">BGN1</text>
<rect x="254.2" y="179.25" width="13.6" height="3.67" fill="#e9e0fa"/>
<text x="255.5" y="182" font-size="2.6" fill="#222">CD163</text>
<text x="255.5" y="185.65" font-size="2.6" fill="#222">CD14</text>
<rect x="254.2" y="186.55" width="13.6" height="3.67" fill="#e9e0fa"/>
<text x="255.5" y="189.3" font-size="2.6" fill="#222">VSIG4</text>
<rect x="254.2" y="190.2" width="13.6" height="3.67" fill="#e9e0fa"/>
<text x="255.5" y="192.95" font-size="2.6" fill="#222">C1QB</text>
<text x="255.5" y="196.6" font-size="2.6" fill="#222">CD53</text>
<rect x="254.2" y="197.5" width="13.6" height="3.67" fill="#e9e0fa"/>
<text x="255.5" y="200.25" font-size="2.6" fill="#222">LAPTM5</text>
<text x="255.5" y="203.9" font-size="2.6" fill="#222">C1QA</text>
<text x="255.5" y="207.55" font-size="2.6" fill="#222">FCGR3</text>
<text x="255.5" y="211.2" font-size="2.6" fill="#222">PTPRC</text>
<text x="255.5" y="214.85" font-size="2.6" fill="#222">EMILIN1</text>
<text x="255.5" y="218.5" font-size="2.6" fill="#222">ALOX5AP</text>
<rect x="254.2" y="219.4" width="13.6" height="3.67" fill="#e9e0fa"/>
<text x="255.5" y="222.15" font-size="2.6" fill="#222">LY86</text>
<text x="255.5" y="225.8" font-size="2.6" fill="#222">ITGB2</text>
<text x="255.5" y="229.45" font-size="2.6" fill="#222">CLMP</text>
<text x="255.5" y="233.1" font-size="2.6" fill="#222">ISG</text>
<rect x="254.2" y="234" width="13.6" height="3.67" fill="#e9e0fa"/>
<text x="255.5" y="236.75" font-size="2.6" fill="#222">IRF8</text>
<text x="255.5" y="240.4" font-size="2.6" fill="#222">GREM1</text>
<text x="255.5" y="244.05" font-size="2.6" fill="#222">CTSS</text>
<rect x="254.2" y="244.95" width="13.6" height="3.67" fill="#e9e0fa"/>
<text x="255.5" y="247.7" font-size="2.6" fill="#222">CD68</text>
<rect x="254.2" y="248.6" width="13.6" height="3.67" fill="#e9e0fa"/>
<text x="255.5" y="251.35" font-size="2.6" fill="#222">FGR</text>
<defs><linearGradient id="ck" x1="0" x2="1" y1="0" y2="0"><stop offset="0" stop-color="#0000ff"/><stop offset="0.22" stop-color="#0000ff"/><stop offset="0.48" stop-color="#ffffff"/><stop offset="0.75" stop-color="#ff0000"/><stop offset="1" stop-color="#ff0000"/></linearGradient></defs>
<rect x="16" y="263.4" width="34.4" height="13.3" fill="url(#ck)"/>
<line x1="20.1" y1="276.7" x2="20.1" y2="277.7" stroke="#888" stroke-width="0.4"/>
<text x="20.1" y="283.6" font-size="5.4" text-anchor="middle" fill="#222">−4</text>
<line x1="32.9" y1="276.7" x2="32.9" y2="277.7" stroke="#888" stroke-width="0.4"/>
<text x="32.9" y="283.6" font-size="5.4" text-anchor="middle" fill="#222">0</text>
<line x1="39.3" y1="276.7" x2="39.3" y2="277.7" stroke="#888" stroke-width="0.4"/>
<text x="39.3" y="283.6" font-size="5.4" text-anchor="middle" fill="#222">2</text>
<line x1="46" y1="276.7" x2="46" y2="277.7" stroke="#888" stroke-width="0.4"/>
<text x="46" y="283.6" font-size="5.4" text-anchor="middle" fill="#222">4</text>
<text x="19" y="290.6" font-size="4.6" fill="#333">Row Z−Score</text>
<rect x="125.5" y="265.5" width="14.2" height="6.8" fill="#d6c8ea" stroke="#9a90a8" stroke-width="0.6"/>
<text x="142.4" y="272" font-size="10.15" fill="#000" stroke="#000" stroke-width="0.18">Immune-related genes</text>
<text x="275.2" y="17.4" class="bd" font-size="12">B</text>
<text x="346.5" y="18.6" class="bd" font-size="5.8" text-anchor="middle" fill="#111">Enrichment plot: GSE5542 IFNγ vs. IFNα</text>
<text x="346.5" y="25.3" class="bd" font-size="5.8" text-anchor="middle" fill="#111">treated epithelial cells 6H DN 55</text>
<rect x="291.4" y="27.4" width="120.7" height="105.4" fill="#ededed"/>
<rect x="305.0" y="28.4" width="104.4" height="88.8" fill="#ffffff"/>
<line x1="305" y1="28.4" x2="305" y2="70.7" stroke="#e8e8e8" stroke-width="0.4"/>
<line x1="305" y1="88.8" x2="305" y2="117.2" stroke="#e8e8e8" stroke-width="0.4"/>
<line x1="319.37" y1="28.4" x2="319.37" y2="70.7" stroke="#e8e8e8" stroke-width="0.4"/>
<line x1="319.37" y1="88.8" x2="319.37" y2="117.2" stroke="#e8e8e8" stroke-width="0.4"/>
<line x1="333.74" y1="28.4" x2="333.74" y2="70.7" stroke="#e8e8e8" stroke-width="0.4"/>
<line x1="333.74" y1="88.8" x2="333.74" y2="117.2" stroke="#e8e8e8" stroke-width="0.4"/>
<line x1="348.11" y1="28.4" x2="348.11" y2="70.7" stroke="#e8e8e8" stroke-width="0.4"/>
<line x1="348.11" y1="88.8" x2="348.11" y2="117.2" stroke="#e8e8e8" stroke-width="0.4"/>
<line x1="362.49" y1="28.4" x2="362.49" y2="70.7" stroke="#e8e8e8" stroke-width="0.4"/>
<line x1="362.49" y1="88.8" x2="362.49" y2="117.2" stroke="#e8e8e8" stroke-width="0.4"/>
<line x1="376.86" y1="28.4" x2="376.86" y2="70.7" stroke="#e8e8e8" stroke-width="0.4"/>
<line x1="376.86" y1="88.8" x2="376.86" y2="117.2" stroke="#e8e8e8" stroke-width="0.4"/>
<line x1="391.23" y1="28.4" x2="391.23" y2="70.7" stroke="#e8e8e8" stroke-width="0.4"/>
<line x1="391.23" y1="88.8" x2="391.23" y2="117.2" stroke="#e8e8e8" stroke-width="0.4"/>
<line x1="405.6" y1="28.4" x2="405.6" y2="70.7" stroke="#e8e8e8" stroke-width="0.4"/>
<line x1="405.6" y1="88.8" x2="405.6" y2="117.2" stroke="#e8e8e8" stroke-width="0.4"/>
<line x1="305.0" y1="71" x2="405.6" y2="71" stroke="#e8e8e8" stroke-width="0.4"/>
<text x="303.9" y="72.2" font-size="3.4" text-anchor="end" fill="#222">0.00</text>
<line x1="305.0" y1="66.87" x2="405.6" y2="66.87" stroke="#e8e8e8" stroke-width="0.4"/>
<text x="303.9" y="68.07" font-size="3.4" text-anchor="end" fill="#222">0.05</text>
<line x1="305.0" y1="62.74" x2="405.6" y2="62.74" stroke="#e8e8e8" stroke-width="0.4"/>
<text x="303.9" y="63.94" font-size="3.4" text-anchor="end" fill="#222">0.10</text>
<line x1="305.0" y1="58.61" x2="405.6" y2="58.61" stroke="#e8e8e8" stroke-width="0.4"/>
<text x="303.9" y="59.81" font-size="3.4" text-anchor="end" fill="#222">0.15</text>
<line x1="305.0" y1="54.48" x2="405.6" y2="54.48" stroke="#e8e8e8" stroke-width="0.4"/>
<text x="303.9" y="55.68" font-size="3.4" text-anchor="end" fill="#222">0.20</text>
<line x1="305.0" y1="50.35" x2="405.6" y2="50.35" stroke="#e8e8e8" stroke-width="0.4"/>
<text x="303.9" y="51.55" font-size="3.4" text-anchor="end" fill="#222">0.25</text>
<line x1="305.0" y1="46.22" x2="405.6" y2="46.22" stroke="#e8e8e8" stroke-width="0.4"/>
<text x="303.9" y="47.42" font-size="3.4" text-anchor="end" fill="#222">0.30</text>
<line x1="305.0" y1="42.09" x2="405.6" y2="42.09" stroke="#e8e8e8" stroke-width="0.4"/>
<text x="303.9" y="43.29" font-size="3.4" text-anchor="end" fill="#222">0.35</text>
<line x1="305.0" y1="37.96" x2="405.6" y2="37.96" stroke="#e8e8e8" stroke-width="0.4"/>
<text x="303.9" y="39.16" font-size="3.4" text-anchor="end" fill="#222">0.40</text>
<line x1="305.0" y1="33.83" x2="405.6" y2="33.83" stroke="#e8e8e8" stroke-width="0.4"/>
<text x="303.9" y="35.03" font-size="3.4" text-anchor="end" fill="#222">0.45</text>
<line x1="305.0" y1="29.7" x2="405.6" y2="29.7" stroke="#e8e8e8" stroke-width="0.4"/>
<text x="303.9" y="30.9" font-size="3.4" text-anchor="end" fill="#222">0.50</text>
<rect x="305.0" y="28.4" width="104.4" height="42.3" fill="none" stroke="#bbb" stroke-width="0.4"/>
<rect x="305.0" y="70.7" width="104.4" height="14.6" fill="none" stroke="#bbb" stroke-width="0.4"/>
<polyline points="305,59.5 307,60.75 308.75,57 310,57.5 311.25,53.75 312.5,47.5 313.75,43.75 314.5,37 316.25,38 318.75,40 320,41.25 321.25,35.5 322.5,33.75 323.75,35 325,32.5 326.75,31.25 328,32 329.5,30.5 331.25,32 333.75,33.75 336.25,35.5 338,37 340,35.5 341.25,36.75 343,33.75 345,35.5 350,40 355,43.75 357.5,44.5 358.75,43.25 361.25,45.75 363.75,47.5 366.25,48.75 367.5,50 370,51.25 372.5,52 376.25,53.75 378.75,55 382.5,56.75 385,58.25 387.5,60 390,62 391.25,63 392.5,60 395,61.75 400,65.75 405,71.25" fill="none" stroke="#22ee22" stroke-width="1.1" stroke-linejoin="round"/>
<line x1="307.6" y1="70.9" x2="307.6" y2="85.3" stroke="#999" stroke-width="0.6"/>
<line x1="308.4" y1="70.9" x2="308.4" y2="85.3" stroke="#aaa" stroke-width="0.6"/>
<line x1="309.2" y1="70.9" x2="309.2" y2="85.3" stroke="#999" stroke-width="0.6"/>
<line x1="310.3" y1="70.9" x2="310.3" y2="85.3" stroke="#777" stroke-width="0.6"/>
<line x1="311" y1="70.9" x2="311" y2="85.3" stroke="#888" stroke-width="0.6"/>
<line x1="313.6" y1="70.9" x2="313.6" y2="85.3" stroke="#222" stroke-width="0.6"/>
<line x1="320.8" y1="70.9" x2="320.8" y2="85.3" stroke="#444" stroke-width="0.6"/>
<line x1="321.6" y1="70.9" x2="321.6" y2="85.3" stroke="#333" stroke-width="0.6"/>
<line x1="325.6" y1="70.9" x2="325.6" y2="85.3" stroke="#888" stroke-width="0.6"/>
<line x1="326.5" y1="70.9" x2="326.5" y2="85.3" stroke="#444" stroke-width="0.6"/>
<line x1="327.3" y1="70.9" x2="327.3" y2="85.3" stroke="#555" stroke-width="0.6"/>
<line x1="331.1" y1="70.9" x2="331.1" y2="85.3" stroke="#888" stroke-width="0.6"/>
<line x1="339.8" y1="70.9" x2="339.8" y2="85.3" stroke="#999" stroke-width="0.6"/>
<line x1="342.7" y1="70.9" x2="342.7" y2="85.3" stroke="#555" stroke-width="0.6"/>
<line x1="357.3" y1="70.9" x2="357.3" y2="85.3" stroke="#888" stroke-width="0.6"/>
<line x1="362.2" y1="70.9" x2="362.2" y2="85.3" stroke="#999" stroke-width="0.6"/>
<line x1="368.3" y1="70.9" x2="368.3" y2="85.3" stroke="#999" stroke-width="0.6"/>
<line x1="371.1" y1="70.9" x2="371.1" y2="85.3" stroke="#888" stroke-width="0.6"/>
<line x1="377.5" y1="70.9" x2="377.5" y2="85.3" stroke="#999" stroke-width="0.6"/>
<line x1="383.8" y1="70.9" x2="383.8" y2="85.3" stroke="#999" stroke-width="0.6"/>
<line x1="391.9" y1="70.9" x2="391.9" y2="85.3" stroke="#888" stroke-width="0.6"/>
<rect x="305" y="85.3" width="6.55" height="3.5" fill="#e43434"/>
<rect x="311.5" y="85.3" width="24.35" height="3.5" fill="#f04040"/>
<rect x="335.8" y="85.3" width="17.25" height="3.5" fill="#f4606c"/>
<rect x="353" y="85.3" width="18.75" height="3.5" fill="#f47c84"/>
<rect x="371.7" y="85.3" width="10.45" height="3.5" fill="#f4b4e4"/>
<rect x="382.1" y="85.3" width="6.35" height="3.5" fill="#c8c8fc"/>
<rect x="388.4" y="85.3" width="5.85" height="3.5" fill="#7c7cf8"/>
<rect x="394.2" y="85.3" width="6.95" height="3.5" fill="#5454f0"/>
<rect x="401.1" y="85.3" width="4.45" height="3.5" fill="#0808c8"/>
<polygon points="305.2,103 305.2,94.2 307,95.5 312,97.2 320,98.8 340,100.3 360,101.4 382.5,102.8 384,104.5 392,106.5 400,108.5 405.3,112 405.3,103" fill="#b4b4b4"/>
<line x1="305.0" y1="103" x2="405.6" y2="103" stroke="#999" stroke-width="0.3"/>
<text x="303.9" y="92.5" font-size="3.4" text-anchor="end" fill="#222">3</text>
<text x="303.9" y="95.9" font-size="3.4" text-anchor="end" fill="#222">2</text>
<text x="303.9" y="99.7" font-size="3.4" text-anchor="end" fill="#222">1</text>
<text x="303.9" y="104.2" font-size="3.4" text-anchor="end" fill="#222">0</text>
<text x="303.9" y="108" font-size="3.4" text-anchor="end" fill="#222">-1</text>
<text x="303.9" y="111.8" font-size="3.4" text-anchor="end" fill="#222">-2</text>
<text x="303.9" y="115.6" font-size="3.4" text-anchor="end" fill="#222">-3</text>
<text x="306.2" y="91.4" font-size="2.8" fill="#e02020">'0' (positively correlated)</text>
<text x="358.5" y="115.6" font-size="2.8" fill="#2020e0">'1' (negatively correlated)</text>
<text x="371.5" y="104" font-size="2.6" fill="#222">Zero cross at 1,285</text>
<rect x="305.0" y="88.8" width="104.4" height="28.4" fill="none" stroke="#bbb" stroke-width="0.4"/>
<text x="305" y="121.1" font-size="2.9" text-anchor="middle" fill="#333">0</text>
<text x="319.37" y="121.1" font-size="2.9" text-anchor="middle" fill="#333">250</text>
<text x="333.74" y="121.1" font-size="2.9" text-anchor="middle" fill="#333">500</text>
<text x="348.11" y="121.1" font-size="2.9" text-anchor="middle" fill="#333">750</text>
<text x="362.49" y="121.1" font-size="2.9" text-anchor="middle" fill="#333">1,000</text>
<text x="376.86" y="121.1" font-size="2.9" text-anchor="middle" fill="#333">1,250</text>
<text x="391.23" y="121.1" font-size="2.9" text-anchor="middle" fill="#333">1,500</text>
<text x="405.6" y="121.1" font-size="2.9" text-anchor="middle" fill="#333">1,750</text>
<text x="357.6" y="124.7" font-size="3.2" text-anchor="middle" fill="#222">Rank in Ordered Dataset</text>
<text transform="translate(297,49.55) rotate(-90)" font-size="3.3" text-anchor="middle" fill="#222">Enrichment score (ES)</text>
<text transform="translate(299,103.2) rotate(-90)" font-size="3.1" text-anchor="middle" fill="#222">Ranked list metric (Signal2Noise)</text>
<rect x="309.8" y="127.5" width="84.4" height="4.7" rx="0.8" fill="#fff" stroke="#555" stroke-width="0.7"/>
<line x1="310.6" y1="129.85" x2="313.4" y2="129.85" stroke="#22ee22" stroke-width="1"/>
<text x="314.3" y="130.9" font-size="2.9" fill="#222">Enrichment profile</text>
<line x1="341" y1="129.85" x2="344.8" y2="129.85" stroke="#444" stroke-width="0.5"/>
<text x="345.6" y="130.9" font-size="2.9" fill="#222">Hits</text>
<line x1="354" y1="129.85" x2="360" y2="129.85" stroke="#ccc" stroke-width="0.8"/>
<text x="363" y="130.9" font-size="2.9" fill="#222">Ranking metric scores</text>
<text x="275.2" y="141.2" class="bd" font-size="12">C</text>
<text x="347" y="141.7" class="bd" font-size="5.8" text-anchor="middle" fill="#111">Enrichment plot: GSE1925 Control vs. 24</text>
<text x="347" y="148.4" class="bd" font-size="5.8" text-anchor="middle" fill="#111">hr. IFNγ stimulation macrophage DN 10</text>
<rect x="291.4" y="150.6" width="120.7" height="104.3" fill="#ededed"/>
<rect x="305.0" y="151.9" width="104.4" height="87.9" fill="#ffffff"/>
<line x1="305" y1="151.9" x2="305" y2="193.5" stroke="#e8e8e8" stroke-width="0.4"/>
<line x1="305" y1="211.3" x2="305" y2="239.8" stroke="#e8e8e8" stroke-width="0.4"/>
<line x1="319.37" y1="151.9" x2="319.37" y2="193.5" stroke="#e8e8e8" stroke-width="0.4"/>
<line x1="319.37" y1="211.3" x2="319.37" y2="239.8" stroke="#e8e8e8" stroke-width="0.4"/>
<line x1="333.74" y1="151.9" x2="333.74" y2="193.5" stroke="#e8e8e8" stroke-width="0.4"/>
<line x1="333.74" y1="211.3" x2="333.74" y2="239.8" stroke="#e8e8e8" stroke-width="0.4"/>
<line x1="348.11" y1="151.9" x2="348.11" y2="193.5" stroke="#e8e8e8" stroke-width="0.4"/>
<line x1="348.11" y1="211.3" x2="348.11" y2="239.8" stroke="#e8e8e8" stroke-width="0.4"/>
<line x1="362.49" y1="151.9" x2="362.49" y2="193.5" stroke="#e8e8e8" stroke-width="0.4"/>
<line x1="362.49" y1="211.3" x2="362.49" y2="239.8" stroke="#e8e8e8" stroke-width="0.4"/>
<line x1="376.86" y1="151.9" x2="376.86" y2="193.5" stroke="#e8e8e8" stroke-width="0.4"/>
<line x1="376.86" y1="211.3" x2="376.86" y2="239.8" stroke="#e8e8e8" stroke-width="0.4"/>
<line x1="391.23" y1="151.9" x2="391.23" y2="193.5" stroke="#e8e8e8" stroke-width="0.4"/>
<line x1="391.23" y1="211.3" x2="391.23" y2="239.8" stroke="#e8e8e8" stroke-width="0.4"/>
<line x1="405.6" y1="151.9" x2="405.6" y2="193.5" stroke="#e8e8e8" stroke-width="0.4"/>
<line x1="405.6" y1="211.3" x2="405.6" y2="239.8" stroke="#e8e8e8" stroke-width="0.4"/>
<line x1="305.0" y1="154.9" x2="405.6" y2="154.9" stroke="#e8e8e8" stroke-width="0.4"/>
<text x="303.9" y="156.1" font-size="3.4" text-anchor="end" fill="#222">0.5</text>
<line x1="305.0" y1="161.23" x2="405.6" y2="161.23" stroke="#e8e8e8" stroke-width="0.4"/>
<text x="303.9" y="162.43" font-size="3.4" text-anchor="end" fill="#222">0.4</text>
<line x1="305.0" y1="167.56" x2="405.6" y2="167.56" stroke="#e8e8e8" stroke-width="0.4"/>
<text x="303.9" y="168.76" font-size="3.4" text-anchor="end" fill="#222">0.3</text>
<line x1="305.0" y1="173.89" x2="405.6" y2="173.89" stroke="#e8e8e8" stroke-width="0.4"/>
<text x="303.9" y="175.09" font-size="3.4" text-anchor="end" fill="#222">0.2</text>
<line x1="305.0" y1="180.22" x2="405.6" y2="180.22" stroke="#e8e8e8" stroke-width="0.4"/>
<text x="303.9" y="181.42" font-size="3.4" text-anchor="end" fill="#222">0.1</text>
<line x1="305.0" y1="186.55" x2="405.6" y2="186.55" stroke="#e8e8e8" stroke-width="0.4"/>
<text x="303.9" y="187.75" font-size="3.4" text-anchor="end" fill="#222">0.0</text>
<line x1="305.0" y1="192.88" x2="405.6" y2="192.88" stroke="#e8e8e8" stroke-width="0.4"/>
<text x="303.9" y="194.08" font-size="3.4" text-anchor="end" fill="#222">-0.1</text>
<line x1="305.0" y1="186.5" x2="405.6" y2="186.5" stroke="#888" stroke-width="0.4"/>
<rect x="305.0" y="151.9" width="104.4" height="41.6" fill="none" stroke="#bbb" stroke-width="0.4"/>
<rect x="305.0" y="193.5" width="104.4" height="14.4" fill="none" stroke="#bbb" stroke-width="0.4"/>
<polyline points="305,182.5 306.25,183.75 307,182 308,180 308.75,176.25 309.5,174.5 310.5,171.25 311.75,170 312.5,167.5 313.75,165 315,163.75 316.25,163 317.5,162.5 318.75,162 320,162.5 320.75,161.25 322,162 323,160.5 324,159.5 325,158.75 326.25,160 327.5,158.75 328.75,157.5 330,155.5 331.25,154.5 332.5,154 333.75,155 336.25,156.25 340,158 342,158.75 343.75,159.5 350,163.75 357.5,168.75 360,169.25 365,172 370,175 373.75,177 377.5,178.75 381.25,180.5 383.75,182.5 385,181.75 387.5,183.75 392.5,187 398.75,190.75 400,191.25 401.25,184.5 402.5,185.5 404.5,186.25" fill="none" stroke="#22ee22" stroke-width="1.1" stroke-linejoin="round"/>
<line x1="306.5" y1="193.6" x2="306.5" y2="207.9" stroke="#999" stroke-width="0.6"/>
<line x1="307.3" y1="193.6" x2="307.3" y2="207.9" stroke="#888" stroke-width="0.6"/>
<line x1="308.2" y1="193.6" x2="308.2" y2="207.9" stroke="#999" stroke-width="0.6"/>
<line x1="309" y1="193.6" x2="309" y2="207.9" stroke="#888" stroke-width="0.6"/>
<line x1="312.1" y1="193.6" x2="312.1" y2="207.9" stroke="#333" stroke-width="0.6"/>
<line x1="312.9" y1="193.6" x2="312.9" y2="207.9" stroke="#444" stroke-width="0.6"/>
<line x1="314.4" y1="193.6" x2="314.4" y2="207.9" stroke="#888" stroke-width="0.6"/>
<line x1="315" y1="193.6" x2="315" y2="207.9" stroke="#444" stroke-width="0.6"/>
<line x1="315.6" y1="193.6" x2="315.6" y2="207.9" stroke="#888" stroke-width="0.6"/>
<line x1="317.3" y1="193.6" x2="317.3" y2="207.9" stroke="#444" stroke-width="0.6"/>
<line x1="319" y1="193.6" x2="319" y2="207.9" stroke="#555" stroke-width="0.6"/>
<line x1="320.5" y1="193.6" x2="320.5" y2="207.9" stroke="#444" stroke-width="0.6"/>
<line x1="323" y1="193.6" x2="323" y2="207.9" stroke="#444" stroke-width="0.6"/>
<line x1="323.9" y1="193.6" x2="323.9" y2="207.9" stroke="#555" stroke-width="0.6"/>
<line x1="327.2" y1="193.6" x2="327.2" y2="207.9" stroke="#999" stroke-width="0.6"/>
<line x1="328.2" y1="193.6" x2="328.2" y2="207.9" stroke="#888" stroke-width="0.6"/>
<line x1="329.2" y1="193.6" x2="329.2" y2="207.9" stroke="#555" stroke-width="0.6"/>
<line x1="330.3" y1="193.6" x2="330.3" y2="207.9" stroke="#888" stroke-width="0.6"/>
<line x1="340.9" y1="193.6" x2="340.9" y2="207.9" stroke="#666" stroke-width="0.6"/>
<line x1="342.7" y1="193.6" x2="342.7" y2="207.9" stroke="#bbb" stroke-width="0.6"/>
<line x1="359.6" y1="193.6" x2="359.6" y2="207.9" stroke="#555" stroke-width="0.6"/>
<line x1="374.6" y1="193.6" x2="374.6" y2="207.9" stroke="#888" stroke-width="0.6"/>
<line x1="378.6" y1="193.6" x2="378.6" y2="207.9" stroke="#555" stroke-width="0.6"/>
<line x1="384.4" y1="193.6" x2="384.4" y2="207.9" stroke="#888" stroke-width="0.6"/>
<line x1="400.6" y1="193.6" x2="400.6" y2="207.9" stroke="#444" stroke-width="0.6"/>
<line x1="401" y1="193.6" x2="401" y2="207.9" stroke="#666" stroke-width="0.6"/>
<rect x="305" y="207.9" width="6.55" height="3.4" fill="#e43434"/>
<rect x="311.5" y="207.9" width="24.55" height="3.4" fill="#f04040"/>
<rect x="336" y="207.9" width="16.05" height="3.4" fill="#f4606c"/>
<rect x="352" y="207.9" width="18.65" height="3.4" fill="#f47c84"/>
<rect x="370.6" y="207.9" width="10.95" height="3.4" fill="#f4b4e4"/>
<rect x="381.5" y="207.9" width="5.25" height="3.4" fill="#c8c8fc"/>
<rect x="386.7" y="207.9" width="8.15" height="3.4" fill="#7c7cf8"/>
<rect x="394.8" y="207.9" width="4.65" height="3.4" fill="#5454f0"/>
<rect x="399.4" y="207.9" width="4.65" height="3.4" fill="#0808c8"/>
<polygon points="305.2,225 305.2,218.6 307,220.5 312,222 320,222.8 340,223.6 360,224.3 384.5,225 386,226.5 395,229 402,231.5 405.3,234.5 405.3,225" fill="#b4b4b4"/>
<line x1="305.0" y1="225" x2="405.6" y2="225" stroke="#999" stroke-width="0.3"/>
<text x="303.9" y="214.7" font-size="3.4" text-anchor="end" fill="#222">3</text>
<text x="303.9" y="218.4" font-size="3.4" text-anchor="end" fill="#222">2</text>
<text x="303.9" y="222.3" font-size="3.4" text-anchor="end" fill="#222">1</text>
<text x="303.9" y="226.2" font-size="3.4" text-anchor="end" fill="#222">0</text>
<text x="303.9" y="230" font-size="3.4" text-anchor="end" fill="#222">-1</text>
<text x="303.9" y="233.8" font-size="3.4" text-anchor="end" fill="#222">-2</text>
<text x="303.9" y="237.6" font-size="3.4" text-anchor="end" fill="#222">-3</text>
<text x="306.2" y="213.9" font-size="2.8" fill="#e02020">'0' (positively correlated)</text>
<text x="357.5" y="237.7" font-size="2.8" fill="#2020e0">'1' (negatively correlated)</text>
<text x="371" y="226" font-size="2.6" fill="#222">Zero cross at 1,289</text>
<rect x="305.0" y="211.3" width="104.4" height="28.5" fill="none" stroke="#bbb" stroke-width="0.4"/>
<text x="305" y="243.7" font-size="2.9" text-anchor="middle" fill="#333">0</text>
<text x="319.37" y="243.7" font-size="2.9" text-anchor="middle" fill="#333">250</text>
<text x="333.74" y="243.7" font-size="2.9" text-anchor="middle" fill="#333">500</text>
<text x="348.11" y="243.7" font-size="2.9" text-anchor="middle" fill="#333">750</text>
<text x="362.49" y="243.7" font-size="2.9" text-anchor="middle" fill="#333">1,000</text>
<text x="376.86" y="243.7" font-size="2.9" text-anchor="middle" fill="#333">1,250</text>
<text x="391.23" y="243.7" font-size="2.9" text-anchor="middle" fill="#333">1,500</text>
<text x="405.6" y="243.7" font-size="2.9" text-anchor="middle" fill="#333">1,750</text>
<text x="357.6" y="247.3" font-size="3.2" text-anchor="middle" fill="#222">Rank in Ordered Dataset</text>
<text transform="translate(297,172.7) rotate(-90)" font-size="3.3" text-anchor="middle" fill="#222">Enrichment score (ES)</text>
<text transform="translate(299,225.8) rotate(-90)" font-size="3.1" text-anchor="middle" fill="#222">Ranked list metric (Signal2Noise)</text>
<rect x="309.0" y="249.6" width="84.2" height="4.5" rx="0.8" fill="#fff" stroke="#555" stroke-width="0.7"/>
<line x1="310.6" y1="251.85" x2="313.4" y2="251.85" stroke="#22ee22" stroke-width="1"/>
<text x="314.3" y="252.9" font-size="2.9" fill="#222">Enrichment profile</text>
<line x1="341" y1="251.85" x2="344.8" y2="251.85" stroke="#444" stroke-width="0.5"/>
<text x="345.6" y="252.9" font-size="2.9" fill="#222">Hits</text>
<line x1="354" y1="251.85" x2="360" y2="251.85" stroke="#ccc" stroke-width="0.8"/>
<text x="363" y="252.9" font-size="2.9" fill="#222">Ranking metric scores</text>
<rect x="420.1" y="27.2" width="26.47" height="19.2" fill="#b8b8b8"/>
<rect x="446.57" y="27.2" width="46.33" height="19.2" fill="#f8c800"/>
<clipPath id="hc5"><rect x="420.1" y="27.5" width="72.8" height="18.9"/></clipPath>
<g clip-path="url(#hc5)">
<text transform="translate(422.9,45.8) rotate(-90)" font-size="3.1" font-weight="bold" fill="#111">GSM1193_S01</text>
<text transform="translate(426.21,45.8) rotate(-90)" font-size="3.1" font-weight="bold" fill="#111">GSM1200_S02</text>
<text transform="translate(429.52,45.8) rotate(-90)" font-size="3.1" font-weight="bold" fill="#111">GSM1207_S03</text>
<text transform="translate(432.83,45.8) rotate(-90)" font-size="3.1" font-weight="bold" fill="#111">GSM1214_S04</text>
<text transform="translate(436.14,45.8) rotate(-90)" font-size="3.1" font-weight="bold" fill="#111">GSM1221_S05</text>
<text transform="translate(439.45,45.8) rotate(-90)" font-size="3.1" font-weight="bold" fill="#111">GSM1228_S06</text>
<text transform="translate(442.76,45.8) rotate(-90)" font-size="3.1" font-weight="bold" fill="#111">GSM1235_S07</text>
<text transform="translate(446.07,45.8) rotate(-90)" font-size="3.1" font-weight="bold" fill="#111">GSM1242_S08</text>
<text transform="translate(449.38,45.8) rotate(-90)" font-size="3.1" font-weight="bold" fill="#111">GSM1249_S09</text>
<text transform="translate(452.69,45.8) rotate(-90)" font-size="3.1" font-weight="bold" fill="#111">GSM1256_S10</text>
<text transform="translate(456,45.8) rotate(-90)" font-size="3.1" font-weight="bold" fill="#111">GSM1263_S11</text>
<text transform="translate(459.3,45.8) rotate(-90)" font-size="3.1" font-weight="bold" fill="#111">GSM1270_S12</text>
<text transform="translate(462.61,45.8) rotate(-90)" font-size="3.1" font-weight="bold" fill="#111">GSM1277_S13</text>
<text transform="translate(465.92,45.8) rotate(-90)" font-size="3.1" font-weight="bold" fill="#111">GSM1284_S14</text>
<text transform="translate(469.23,45.8) rotate(-90)" font-size="3.1" font-weight="bold" fill="#111">GSM1291_S15</text>
<text transform="translate(472.54,45.8) rotate(-90)" font-size="3.1" font-weight="bold" fill="#111">GSM1298_S16</text>
<text transform="translate(475.85,45.8) rotate(-90)" font-size="3.1" font-weight="bold" fill="#111">GSM1305_S17</text>
<text transform="translate(479.16,45.8) rotate(-90)" font-size="3.1" font-weight="bold" fill="#111">GSM1312_S18</text>
<text transform="translate(482.47,45.8) rotate(-90)" font-size="3.1" font-weight="bold" fill="#111">GSM1319_S19</text>
<text transform="translate(485.78,45.8) rotate(-90)" font-size="3.1" font-weight="bold" fill="#111">GSM1326_S20</text>
<text transform="translate(489.09,45.8) rotate(-90)" font-size="3.1" font-weight="bold" fill="#111">GSM1333_S21</text>
<text transform="translate(492.4,45.8) rotate(-90)" font-size="3.1" font-weight="bold" fill="#111">GSM1340_S22</text>
</g>
<rect x="420.1" y="46.4" width="72.8" height="7.2" fill="#fff" stroke="#777" stroke-width="0.4"/>
<line x1="420.1" y1="27.2" x2="420.1" y2="53.6" stroke="#777" stroke-width="0.35"/>
<line x1="423.41" y1="27.2" x2="423.41" y2="53.6" stroke="#777" stroke-width="0.35"/>
<line x1="426.72" y1="27.2" x2="426.72" y2="53.6" stroke="#777" stroke-width="0.35"/>
<line x1="430.03" y1="27.2" x2="430.03" y2="53.6" stroke="#777" stroke-width="0.35"/>
<line x1="433.34" y1="27.2" x2="433.34" y2="53.6" stroke="#777" stroke-width="0.35"/>
<line x1="436.65" y1="27.2" x2="436.65" y2="53.6" stroke="#777" stroke-width="0.35"/>
<line x1="439.95" y1="27.2" x2="439.95" y2="53.6" stroke="#777" stroke-width="0.35"/>
<line x1="443.26" y1="27.2" x2="443.26" y2="53.6" stroke="#777" stroke-width="0.35"/>
<line x1="446.57" y1="27.2" x2="446.57" y2="53.6" stroke="#777" stroke-width="0.35"/>
<line x1="449.88" y1="27.2" x2="449.88" y2="53.6" stroke="#777" stroke-width="0.35"/>
<line x1="453.19" y1="27.2" x2="453.19" y2="53.6" stroke="#777" stroke-width="0.35"/>
<line x1="456.5" y1="27.2" x2="456.5" y2="53.6" stroke="#777" stroke-width="0.35"/>
<line x1="459.81" y1="27.2" x2="459.81" y2="53.6" stroke="#777" stroke-width="0.35"/>
<line x1="463.12" y1="27.2" x2="463.12" y2="53.6" stroke="#777" stroke-width="0.35"/>
<line x1="466.43" y1="27.2" x2="466.43" y2="53.6" stroke="#777" stroke-width="0.35"/>
<line x1="469.74" y1="27.2" x2="469.74" y2="53.6" stroke="#777" stroke-width="0.35"/>
<line x1="473.05" y1="27.2" x2="473.05" y2="53.6" stroke="#777" stroke-width="0.35"/>
<line x1="476.35" y1="27.2" x2="476.35" y2="53.6" stroke="#777" stroke-width="0.35"/>
<line x1="479.66" y1="27.2" x2="479.66" y2="53.6" stroke="#777" stroke-width="0.35"/>
<line x1="482.97" y1="27.2" x2="482.97" y2="53.6" stroke="#777" stroke-width="0.35"/>
<line x1="486.28" y1="27.2" x2="486.28" y2="53.6" stroke="#777" stroke-width="0.35"/>
<line x1="489.59" y1="27.2" x2="489.59" y2="53.6" stroke="#777" stroke-width="0.35"/>
<line x1="492.9" y1="27.2" x2="492.9" y2="53.6" stroke="#777" stroke-width="0.35"/>
<text x="494.9" y="50.7" font-size="4.7" fill="#111">SampleName</text>
<rect x="420.1" y="53.6" width="3.31" height="3.3" fill="#f00000" stroke="#666" stroke-width="0.3"/>
<rect x="423.41" y="53.6" width="3.31" height="3.3" fill="#f45050" stroke="#666" stroke-width="0.3"/>
<rect x="426.72" y="53.6" width="3.31" height="3.3" fill="#f8a0a8" stroke="#666" stroke-width="0.3"/>
<rect x="430.03" y="53.6" width="3.31" height="3.3" fill="#f8a0a8" stroke="#666" stroke-width="0.3"/>
<rect x="433.34" y="53.6" width="3.31" height="3.3" fill="#f00000" stroke="#666" stroke-width="0.3"/>
<rect x="436.65" y="53.6" width="3.31" height="3.3" fill="#f00000" stroke="#666" stroke-width="0.3"/>
<rect x="439.95" y="53.6" width="3.31" height="3.3" fill="#f45050" stroke="#666" stroke-width="0.3"/>
<rect x="443.26" y="53.6" width="3.31" height="3.3" fill="#f8a0a8" stroke="#666" stroke-width="0.3"/>
<rect x="446.57" y="53.6" width="3.31" height="3.3" fill="#3000a8" stroke="#666" stroke-width="0.3"/>
<rect x="449.88" y="53.6" width="3.31" height="3.3" fill="#0000e0" stroke="#666" stroke-width="0.3"/>
<rect x="453.19" y="53.6" width="3.31" height="3.3" fill="#0000e0" stroke="#666" stroke-width="0.3"/>
<rect x="456.5" y="53.6" width="3.31" height="3.3" fill="#3000a8" stroke="#666" stroke-width="0.3"/>
<rect x="459.81" y="53.6" width="3.31" height="3.3" fill="#3000a8" stroke="#666" stroke-width="0.3"/>
<rect x="463.12" y="53.6" width="3.31" height="3.3" fill="#0000e0" stroke="#666" stroke-width="0.3"/>
<rect x="466.43" y="53.6" width="3.31" height="3.3" fill="#0000e0" stroke="#666" stroke-width="0.3"/>
<rect x="469.74" y="53.6" width="3.31" height="3.3" fill="#0000e0" stroke="#666" stroke-width="0.3"/>
<rect x="473.05" y="53.6" width="3.31" height="3.3" fill="#3000a8" stroke="#666" stroke-width="0.3"/>
<rect x="476.35" y="53.6" width="3.31" height="3.3" fill="#3000a8" stroke="#666" stroke-width="0.3"/>
<rect x="479.66" y="53.6" width="3.31" height="3.3" fill="#0000e0" stroke="#666" stroke-width="0.3"/>
<rect x="482.97" y="53.6" width="3.31" height="3.3" fill="#0000e0" stroke="#666" stroke-width="0.3"/>
<rect x="486.28" y="53.6" width="3.31" height="3.3" fill="#a8a8ff" stroke="#666" stroke-width="0.3"/>
<rect x="489.59" y="53.6" width="3.31" height="3.3" fill="#a8a8ff" stroke="#666" stroke-width="0.3"/>
<line x1="494" y1="56.9" x2="520" y2="56.9" stroke="#999" stroke-width="0.5"/>
<text x="495" y="56.75" font-size="3.4" fill="#111">CXADR</text>
<rect x="420.1" y="56.9" width="3.31" height="3.3" fill="#f45050" stroke="#666" stroke-width="0.3"/>
<rect x="423.41" y="56.9" width="3.31" height="3.3" fill="#f4f4ff" stroke="#666" stroke-width="0.3"/>
<rect x="426.72" y="56.9" width="3.31" height="3.3" fill="#f45050" stroke="#666" stroke-width="0.3"/>
<rect x="430.03" y="56.9" width="3.31" height="3.3" fill="#f8a0a8" stroke="#666" stroke-width="0.3"/>
<rect x="433.34" y="56.9" width="3.31" height="3.3" fill="#f45050" stroke="#666" stroke-width="0.3"/>
<rect x="436.65" y="56.9" width="3.31" height="3.3" fill="#f00000" stroke="#666" stroke-width="0.3"/>
<rect x="439.95" y="56.9" width="3.31" height="3.3" fill="#f00000" stroke="#666" stroke-width="0.3"/>
<rect x="443.26" y="56.9" width="3.31" height="3.3" fill="#f8a0a8" stroke="#666" stroke-width="0.3"/>
<rect x="446.57" y="56.9" width="3.31" height="3.3" fill="#0000e0" stroke="#666" stroke-width="0.3"/>
<rect x="449.88" y="56.9" width="3.31" height="3.3" fill="#0000e0" stroke="#666" stroke-width="0.3"/>
<rect x="453.19" y="56.9" width="3.31" height="3.3" fill="#3000a8" stroke="#666" stroke-width="0.3"/>
<rect x="456.5" y="56.9" width="3.31" height="3.3" fill="#3000a8" stroke="#666" stroke-width="0.3"/>
<rect x="459.81" y="56.9" width="3.31" height="3.3" fill="#0000e0" stroke="#666" stroke-width="0.3"/>
<rect x="463.12" y="56.9" width="3.31" height="3.3" fill="#a8a8ff" stroke="#666" stroke-width="0.3"/>
<rect x="466.43" y="56.9" width="3.31" height="3.3" fill="#f4f4ff" stroke="#666" stroke-width="0.3"/>
<rect x="469.74" y="56.9" width="3.31" height="3.3" fill="#f45050" stroke="#666" stroke-width="0.3"/>
<rect x="473.05" y="56.9" width="3.31" height="3.3" fill="#3000a8" stroke="#666" stroke-width="0.3"/>
<rect x="476.35" y="56.9" width="3.31" height="3.3" fill="#3000a8" stroke="#666" stroke-width="0.3"/>
<rect x="479.66" y="56.9" width="3.31" height="3.3" fill="#f4f4ff" stroke="#666" stroke-width="0.3"/>
<rect x="482.97" y="56.9" width="3.31" height="3.3" fill="#f4f4ff" stroke="#666" stroke-width="0.3"/>
<rect x="486.28" y="56.9" width="3.31" height="3.3" fill="#a8a8ff" stroke="#666" stroke-width="0.3"/>
<rect x="489.59" y="56.9" width="3.31" height="3.3" fill="#5858f0" stroke="#666" stroke-width="0.3"/>
<line x1="494" y1="60.21" x2="520" y2="60.21" stroke="#999" stroke-width="0.5"/>
<text x="495" y="60.06" font-size="3.4" fill="#111">KLF6</text>
<rect x="420.1" y="60.21" width="3.31" height="3.3" fill="#f00000" stroke="#666" stroke-width="0.3"/>
<rect x="423.41" y="60.21" width="3.31" height="3.3" fill="#f8a0a8" stroke="#666" stroke-width="0.3"/>
<rect x="426.72" y="60.21" width="3.31" height="3.3" fill="#f4d8ec" stroke="#666" stroke-width="0.3"/>
<rect x="430.03" y="60.21" width="3.31" height="3.3" fill="#f8a0a8" stroke="#666" stroke-width="0.3"/>
<rect x="433.34" y="60.21" width="3.31" height="3.3" fill="#f4d8ec" stroke="#666" stroke-width="0.3"/>
<rect x="436.65" y="60.21" width="3.31" height="3.3" fill="#f4d8ec" stroke="#666" stroke-width="0.3"/>
<rect x="439.95" y="60.21" width="3.31" height="3.3" fill="#f45050" stroke="#666" stroke-width="0.3"/>
<rect x="443.26" y="60.21" width="3.31" height="3.3" fill="#f8a0a8" stroke="#666" stroke-width="0.3"/>
<rect x="446.57" y="60.21" width="3.31" height="3.3" fill="#a8a8ff" stroke="#666" stroke-width="0.3"/>
<rect x="449.88" y="60.21" width="3.31" height="3.3" fill="#0000e0" stroke="#666" stroke-width="0.3"/>
<rect x="453.19" y="60.21" width="3.31" height="3.3" fill="#a8a8ff" stroke="#666" stroke-width="0.3"/>
<rect x="456.5" y="60.21" width="3.31" height="3.3" fill="#0000e0" stroke="#666" stroke-width="0.3"/>
<rect x="459.81" y="60.21" width="3.31" height="3.3" fill="#3000a8" stroke="#666" stroke-width="0.3"/>
<rect x="463.12" y="60.21" width="3.31" height="3.3" fill="#f4f4ff" stroke="#666" stroke-width="0.3"/>
<rect x="466.43" y="60.21" width="3.31" height="3.3" fill="#3000a8" stroke="#666" stroke-width="0.3"/>
<rect x="469.74" y="60.21" width="3.31" height="3.3" fill="#f4f4ff" stroke="#666" stroke-width="0.3"/>
<rect x="473.05" y="60.21" width="3.31" height="3.3" fill="#3000a8" stroke="#666" stroke-width="0.3"/>
<rect x="476.35" y="60.21" width="3.31" height="3.3" fill="#3000a8" stroke="#666" stroke-width="0.3"/>
<rect x="479.66" y="60.21" width="3.31" height="3.3" fill="#a8a8ff" stroke="#666" stroke-width="0.3"/>
<rect x="482.97" y="60.21" width="3.31" height="3.3" fill="#a8a8ff" stroke="#666" stroke-width="0.3"/>
<rect x="486.28" y="60.21" width="3.31" height="3.3" fill="#f4f4ff" stroke="#666" stroke-width="0.3"/>
<rect x="489.59" y="60.21" width="3.31" height="3.3" fill="#f4f4ff" stroke="#666" stroke-width="0.3"/>
<line x1="494" y1="63.51" x2="520" y2="63.51" stroke="#999" stroke-width="0.5"/>
<text x="495" y="63.36" font-size="3.4" fill="#111">CD44</text>
<rect x="420.1" y="63.51" width="3.31" height="3.3" fill="#f8a0a8" stroke="#666" stroke-width="0.3"/>
<rect x="423.41" y="63.51" width="3.31" height="3.3" fill="#f00000" stroke="#666" stroke-width="0.3"/>
<rect x="426.72" y="63.51" width="3.31" height="3.3" fill="#f4d8ec" stroke="#666" stroke-width="0.3"/>
<rect x="430.03" y="63.51" width="3.31" height="3.3" fill="#f4d8ec" stroke="#666" stroke-width="0.3"/>
<rect x="433.34" y="63.51" width="3.31" height="3.3" fill="#f8a0a8" stroke="#666" stroke-width="0.3"/>
<rect x="436.65" y="63.51" width="3.31" height="3.3" fill="#f8a0a8" stroke="#666" stroke-width="0.3"/>
<rect x="439.95" y="63.51" width="3.31" height="3.3" fill="#f4d8ec" stroke="#666" stroke-width="0.3"/>
<rect x="443.26" y="63.51" width="3.31" height="3.3" fill="#f00000" stroke="#666" stroke-width="0.3"/>
<rect x="446.57" y="63.51" width="3.31" height="3.3" fill="#3000a8" stroke="#666" stroke-width="0.3"/>
<rect x="449.88" y="63.51" width="3.31" height="3.3" fill="#3000a8" stroke="#666" stroke-width="0.3"/>
<rect x="453.19" y="63.51" width="3.31" height="3.3" fill="#3000a8" stroke="#666" stroke-width="0.3"/>
<rect x="456.5" y="63.51" width="3.31" height="3.3" fill="#3000a8" stroke="#666" stroke-width="0.3"/>
<rect x="459.81" y="63.51" width="3.31" height="3.3" fill="#3000a8" stroke="#666" stroke-width="0.3"/>
<rect x="463.12" y="63.51" width="3.31" height="3.3" fill="#0000e0" stroke="#666" stroke-width="0.3"/>
<rect x="466.43" y="63.51" width="3.31" height="3.3" fill="#3000a8" stroke="#666" stroke-width="0.3"/>
<rect x="469.74" y="63.51" width="3.31" height="3.3" fill="#f4f4ff" stroke="#666" stroke-width="0.3"/>
<rect x="473.05" y="63.51" width="3.31" height="3.3" fill="#3000a8" stroke="#666" stroke-width="0.3"/>
<rect x="476.35" y="63.51" width="3.31" height="3.3" fill="#3000a8" stroke="#666" stroke-width="0.3"/>
<rect x="479.66" y="63.51" width="3.31" height="3.3" fill="#0000e0" stroke="#666" stroke-width="0.3"/>
<rect x="482.97" y="63.51" width="3.31" height="3.3" fill="#f4d8ec" stroke="#666" stroke-width="0.3"/>
<rect x="486.28" y="63.51" width="3.31" height="3.3" fill="#3000a8" stroke="#666" stroke-width="0.3"/>
<rect x="489.59" y="63.51" width="3.31" height="3.3" fill="#0000e0" stroke="#666" stroke-width="0.3"/>
<line x1="494" y1="66.82" x2="520" y2="66.82" stroke="#999" stroke-width="0.5"/>
<text x="495" y="66.67" font-size="3.4" fill="#111">CCL2</text>
<rect x="420.1" y="66.82" width="3.31" height="3.3" fill="#f4d8ec" stroke="#666" stroke-width="0.3"/>
<rect x="423.41" y="66.82" width="3.31" height="3.3" fill="#f8a0a8" stroke="#666" stroke-width="0.3"/>
<rect x="426.72" y="66.82" width="3.31" height="3.3" fill="#f8a0a8" stroke="#666" stroke-width="0.3"/>
<rect x="430.03" y="66.82" width="3.31" height="3.3" fill="#f4f4ff" stroke="#666" stroke-width="0.3"/>
<rect x="433.34" y="66.82" width="3.31" height="3.3" fill="#f45050" stroke="#666" stroke-width="0.3"/>
<rect x="436.65" y="66.82" width="3.31" height="3.3" fill="#f4d8ec" stroke="#666" stroke-width="0.3"/>
<rect x="439.95" y="66.82" width="3.31" height="3.3" fill="#f4d8ec" stroke="#666" stroke-width="0.3"/>
<rect x="443.26" y="66.82" width="3.31" height="3.3" fill="#f00000" stroke="#666" stroke-width="0.3"/>
<rect x="446.57" y="66.82" width="3.31" height="3.3" fill="#3000a8" stroke="#666" stroke-width="0.3"/>
<rect x="449.88" y="66.82" width="3.31" height="3.3" fill="#0000e0" stroke="#666" stroke-width="0.3"/>
<rect x="453.19" y="66.82" width="3.31" height="3.3" fill="#5858f0" stroke="#666" stroke-width="0.3"/>
<rect x="456.5" y="66.82" width="3.31" height="3.3" fill="#0000e0" stroke="#666" stroke-width="0.3"/>
<rect x="459.81" y="66.82" width="3.31" height="3.3" fill="#f4f4ff" stroke="#666" stroke-width="0.3"/>
<rect x="463.12" y="66.82" width="3.31" height="3.3" fill="#5858f0" stroke="#666" stroke-width="0.3"/>
<rect x="466.43" y="66.82" width="3.31" height="3.3" fill="#3000a8" stroke="#666" stroke-width="0.3"/>
<rect x="469.74" y="66.82" width="3.31" height="3.3" fill="#f4f4ff" stroke="#666" stroke-width="0.3"/>
<rect x="473.05" y="66.82" width="3.31" height="3.3" fill="#0000e0" stroke="#666" stroke-width="0.3"/>
<rect x="476.35" y="66.82" width="3.31" height="3.3" fill="#f4f4ff" stroke="#666" stroke-width="0.3"/>
<rect x="479.66" y="66.82" width="3.31" height="3.3" fill="#5858f0" stroke="#666" stroke-width="0.3"/>
<rect x="482.97" y="66.82" width="3.31" height="3.3" fill="#0000e0" stroke="#666" stroke-width="0.3"/>
<rect x="486.28" y="66.82" width="3.31" height="3.3" fill="#0000e0" stroke="#666" stroke-width="0.3"/>
<rect x="489.59" y="66.82" width="3.31" height="3.3" fill="#f4f4ff" stroke="#666" stroke-width="0.3"/>
<line x1="494" y1="70.12" x2="520" y2="70.12" stroke="#999" stroke-width="0.5"/>
<text x="495" y="69.97" font-size="3.4" fill="#111">NFKBIZ</text>
<rect x="420.1" y="70.12" width="3.31" height="3.3" fill="#f00000" stroke="#666" stroke-width="0.3"/>
<rect x="423.41" y="70.12" width="3.31" height="3.3" fill="#5858f0" stroke="#666" stroke-width="0.3"/>
<rect x="426.72" y="70.12" width="3.31" height="3.3" fill="#f00000" stroke="#666" stroke-width="0.3"/>
<rect x="430.03" y="70.12" width="3.31" height="3.3" fill="#f8a0a8" stroke="#666" stroke-width="0.3"/>
<rect x="433.34" y="70.12" width="3.31" height="3.3" fill="#f00000" stroke="#666" stroke-width="0.3"/>
<rect x="436.65" y="70.12" width="3.31" height="3.3" fill="#f8a0a8" stroke="#666" stroke-width="0.3"/>
<rect x="439.95" y="70.12" width="3.31" height="3.3" fill="#f45050" stroke="#666" stroke-width="0.3"/>
<rect x="443.26" y="70.12" width="3.31" height="3.3" fill="#f8a0a8" stroke="#666" stroke-width="0.3"/>
<rect x="446.57" y="70.12" width="3.31" height="3.3" fill="#0000e0" stroke="#666" stroke-width="0.3"/>
<rect x="449.88" y="70.12" width="3.31" height="3.3" fill="#a8a8ff" stroke="#666" stroke-width="0.3"/>
<rect x="453.19" y="70.12" width="3.31" height="3.3" fill="#f4f4ff" stroke="#666" stroke-width="0.3"/>
<rect x="456.5" y="70.12" width="3.31" height="3.3" fill="#a8a8ff" stroke="#666" stroke-width="0.3"/>
<rect x="459.81" y="70.12" width="3.31" height="3.3" fill="#3000a8" stroke="#666" stroke-width="0.3"/>
<rect x="463.12" y="70.12" width="3.31" height="3.3" fill="#f4d8ec" stroke="#666" stroke-width="0.3"/>
<rect x="466.43" y="70.12" width="3.31" height="3.3" fill="#0000e0" stroke="#666" stroke-width="0.3"/>
<rect x="469.74" y="70.12" width="3.31" height="3.3" fill="#f4d8ec" stroke="#666" stroke-width="0.3"/>
<rect x="473.05" y="70.12" width="3.31" height="3.3" fill="#0000e0" stroke="#666" stroke-width="0.3"/>
<rect x="476.35" y="70.12" width="3.31" height="3.3" fill="#3000a8" stroke="#666" stroke-width="0.3"/>
<rect x="479.66" y="70.12" width="3.31" height="3.3" fill="#f4f4ff" stroke="#666" stroke-width="0.3"/>
<rect x="482.97" y="70.12" width="3.31" height="3.3" fill="#f4d8ec" stroke="#666" stroke-width="0.3"/>
<rect x="486.28" y="70.12" width="3.31" height="3.3" fill="#a8a8ff" stroke="#666" stroke-width="0.3"/>
<rect x="489.59" y="70.12" width="3.31" height="3.3" fill="#0000e0" stroke="#666" stroke-width="0.3"/>
<line x1="494" y1="73.43" x2="520" y2="73.43" stroke="#999" stroke-width="0.5"/>
<text x="495" y="73.28" font-size="3.4" fill="#111">CREB3</text>
<rect x="420.1" y="73.43" width="3.31" height="3.3" fill="#f8a0a8" stroke="#666" stroke-width="0.3"/>
<rect x="423.41" y="73.43" width="3.31" height="3.3" fill="#f45050" stroke="#666" stroke-width="0.3"/>
<rect x="426.72" y="73.43" width="3.31" height="3.3" fill="#f45050" stroke="#666" stroke-width="0.3"/>
<rect x="430.03" y="73.43" width="3.31" height="3.3" fill="#f8a0a8" stroke="#666" stroke-width="0.3"/>
<rect x="433.34" y="73.43" width="3.31" height="3.3" fill="#f8a0a8" stroke="#666" stroke-width="0.3"/>
<rect x="436.65" y="73.43" width="3.31" height="3.3" fill="#f4d8ec" stroke="#666" stroke-width="0.3"/>
<rect x="439.95" y="73.43" width="3.31" height="3.3" fill="#f00000" stroke="#666" stroke-width="0.3"/>
<rect x="443.26" y="73.43" width="3.31" height="3.3" fill="#f8a0a8" stroke="#666" stroke-width="0.3"/>
<rect x="446.57" y="73.43" width="3.31" height="3.3" fill="#3000a8" stroke="#666" stroke-width="0.3"/>
<rect x="449.88" y="73.43" width="3.31" height="3.3" fill="#0000e0" stroke="#666" stroke-width="0.3"/>
<rect x="453.19" y="73.43" width="3.31" height="3.3" fill="#f4f4ff" stroke="#666" stroke-width="0.3"/>
<rect x="456.5" y="73.43" width="3.31" height="3.3" fill="#0000e0" stroke="#666" stroke-width="0.3"/>
<rect x="459.81" y="73.43" width="3.31" height="3.3" fill="#3000a8" stroke="#666" stroke-width="0.3"/>
<rect x="463.12" y="73.43" width="3.31" height="3.3" fill="#0000e0" stroke="#666" stroke-width="0.3"/>
<rect x="466.43" y="73.43" width="3.31" height="3.3" fill="#f4f4ff" stroke="#666" stroke-width="0.3"/>
<rect x="469.74" y="73.43" width="3.31" height="3.3" fill="#f45050" stroke="#666" stroke-width="0.3"/>
<rect x="473.05" y="73.43" width="3.31" height="3.3" fill="#f4f4ff" stroke="#666" stroke-width="0.3"/>
<rect x="476.35" y="73.43" width="3.31" height="3.3" fill="#f4f4ff" stroke="#666" stroke-width="0.3"/>
<rect x="479.66" y="73.43" width="3.31" height="3.3" fill="#3000a8" stroke="#666" stroke-width="0.3"/>
<rect x="482.97" y="73.43" width="3.31" height="3.3" fill="#a8a8ff" stroke="#666" stroke-width="0.3"/>
<rect x="486.28" y="73.43" width="3.31" height="3.3" fill="#3000a8" stroke="#666" stroke-width="0.3"/>
<rect x="489.59" y="73.43" width="3.31" height="3.3" fill="#a8a8ff" stroke="#666" stroke-width="0.3"/>
<line x1="494" y1="76.73" x2="520" y2="76.73" stroke="#999" stroke-width="0.5"/>
<text x="495" y="76.58" font-size="3.4" fill="#111">CD109</text>
<rect x="420.1" y="76.73" width="3.31" height="3.3" fill="#5858f0" stroke="#666" stroke-width="0.3"/>
<rect x="423.41" y="76.73" width="3.31" height="3.3" fill="#f8a0a8" stroke="#666" stroke-width="0.3"/>
<rect x="426.72" y="76.73" width="3.31" height="3.3" fill="#f45050" stroke="#666" stroke-width="0.3"/>
<rect x="430.03" y="76.73" width="3.31" height="3.3" fill="#f00000" stroke="#666" stroke-width="0.3"/>
<rect x="433.34" y="76.73" width="3.31" height="3.3" fill="#5858f0" stroke="#666" stroke-width="0.3"/>
<rect x="436.65" y="76.73" width="3.31" height="3.3" fill="#f00000" stroke="#666" stroke-width="0.3"/>
<rect x="439.95" y="76.73" width="3.31" height="3.3" fill="#f8a0a8" stroke="#666" stroke-width="0.3"/>
<rect x="443.26" y="76.73" width="3.31" height="3.3" fill="#f4d8ec" stroke="#666" stroke-width="0.3"/>
<rect x="446.57" y="76.73" width="3.31" height="3.3" fill="#f4f4ff" stroke="#666" stroke-width="0.3"/>
<rect x="449.88" y="76.73" width="3.31" height="3.3" fill="#0000e0" stroke="#666" stroke-width="0.3"/>
<rect x="453.19" y="76.73" width="3.31" height="3.3" fill="#3000a8" stroke="#666" stroke-width="0.3"/>
<rect x="456.5" y="76.73" width="3.31" height="3.3" fill="#0000e0" stroke="#666" stroke-width="0.3"/>
<rect x="459.81" y="76.73" width="3.31" height="3.3" fill="#a8a8ff" stroke="#666" stroke-width="0.3"/>
<rect x="463.12" y="76.73" width="3.31" height="3.3" fill="#3000a8" stroke="#666" stroke-width="0.3"/>
<rect x="466.43" y="76.73" width="3.31" height="3.3" fill="#a8a8ff" stroke="#666" stroke-width="0.3"/>
<rect x="469.74" y="76.73" width="3.31" height="3.3" fill="#5858f0" stroke="#666" stroke-width="0.3"/>
<rect x="473.05" y="76.73" width="3.31" height="3.3" fill="#f4f4ff" stroke="#666" stroke-width="0.3"/>
<rect x="476.35" y="76.73" width="3.31" height="3.3" fill="#0000e0" stroke="#666" stroke-width="0.3"/>
<rect x="479.66" y="76.73" width="3.31" height="3.3" fill="#f4f4ff" stroke="#666" stroke-width="0.3"/>
<rect x="482.97" y="76.73" width="3.31" height="3.3" fill="#a8a8ff" stroke="#666" stroke-width="0.3"/>
<rect x="486.28" y="76.73" width="3.31" height="3.3" fill="#f4f4ff" stroke="#666" stroke-width="0.3"/>
<rect x="489.59" y="76.73" width="3.31" height="3.3" fill="#5858f0" stroke="#666" stroke-width="0.3"/>
<line x1="494" y1="80.03" x2="520" y2="80.03" stroke="#999" stroke-width="0.5"/>
<text x="495" y="79.88" font-size="3.4" fill="#111">ANXA1</text>
<rect x="420.1" y="80.03" width="3.31" height="3.3" fill="#f8a0a8" stroke="#666" stroke-width="0.3"/>
<rect x="423.41" y="80.03" width="3.31" height="3.3" fill="#f45050" stroke="#666" stroke-width="0.3"/>
<rect x="426.72" y="80.03" width="3.31" height="3.3" fill="#f4d8ec" stroke="#666" stroke-width="0.3"/>
<rect x="430.03" y="80.03" width="3.31" height="3.3" fill="#f8a0a8" stroke="#666" stroke-width="0.3"/>
<rect x="433.34" y="80.03" width="3.31" height="3.3" fill="#f45050" stroke="#666" stroke-width="0.3"/>
<rect x="436.65" y="80.03" width="3.31" height="3.3" fill="#f4f4ff" stroke="#666" stroke-width="0.3"/>
<rect x="439.95" y="80.03" width="3.31" height="3.3" fill="#f00000" stroke="#666" stroke-width="0.3"/>
<rect x="443.26" y="80.03" width="3.31" height="3.3" fill="#f8a0a8" stroke="#666" stroke-width="0.3"/>
<rect x="446.57" y="80.03" width="3.31" height="3.3" fill="#3000a8" stroke="#666" stroke-width="0.3"/>
<rect x="449.88" y="80.03" width="3.31" height="3.3" fill="#a8a8ff" stroke="#666" stroke-width="0.3"/>
<rect x="453.19" y="80.03" width="3.31" height="3.3" fill="#f4f4ff" stroke="#666" stroke-width="0.3"/>
<rect x="456.5" y="80.03" width="3.31" height="3.3" fill="#3000a8" stroke="#666" stroke-width="0.3"/>
<rect x="459.81" y="80.03" width="3.31" height="3.3" fill="#3000a8" stroke="#666" stroke-width="0.3"/>
<rect x="463.12" y="80.03" width="3.31" height="3.3" fill="#0000e0" stroke="#666" stroke-width="0.3"/>
<rect x="466.43" y="80.03" width="3.31" height="3.3" fill="#3000a8" stroke="#666" stroke-width="0.3"/>
<rect x="469.74" y="80.03" width="3.31" height="3.3" fill="#f45050" stroke="#666" stroke-width="0.3"/>
<rect x="473.05" y="80.03" width="3.31" height="3.3" fill="#f4f4ff" stroke="#666" stroke-width="0.3"/>
<rect x="476.35" y="80.03" width="3.31" height="3.3" fill="#a8a8ff" stroke="#666" stroke-width="0.3"/>
<rect x="479.66" y="80.03" width="3.31" height="3.3" fill="#5858f0" stroke="#666" stroke-width="0.3"/>
<rect x="482.97" y="80.03" width="3.31" height="3.3" fill="#f4f4ff" stroke="#666" stroke-width="0.3"/>
<rect x="486.28" y="80.03" width="3.31" height="3.3" fill="#f45050" stroke="#666" stroke-width="0.3"/>
<rect x="489.59" y="80.03" width="3.31" height="3.3" fill="#0000e0" stroke="#666" stroke-width="0.3"/>
<line x1="494" y1="83.34" x2="520" y2="83.34" stroke="#999" stroke-width="0.5"/>
<text x="495" y="83.19" font-size="3.4" fill="#111">TNFAIP3</text>
<rect x="420.1" y="83.34" width="3.31" height="3.3" fill="#f4f4ff" stroke="#666" stroke-width="0.3"/>
<rect x="423.41" y="83.34" width="3.31" height="3.3" fill="#f00000" stroke="#666" stroke-width="0.3"/>
<rect x="426.72" y="83.34" width="3.31" height="3.3" fill="#f4d8ec" stroke="#666" stroke-width="0.3"/>
<rect x="430.03" y="83.34" width="3.31" height="3.3" fill="#f4d8ec" stroke="#666" stroke-width="0.3"/>
<rect x="433.34" y="83.34" width="3.31" height="3.3" fill="#f45050" stroke="#666" stroke-width="0.3"/>
<rect x="436.65" y="83.34" width="3.31" height="3.3" fill="#f4f4ff" stroke="#666" stroke-width="0.3"/>
<rect x="439.95" y="83.34" width="3.31" height="3.3" fill="#f4d8ec" stroke="#666" stroke-width="0.3"/>
<rect x="443.26" y="83.34" width="3.31" height="3.3" fill="#f8a0a8" stroke="#666" stroke-width="0.3"/>
<rect x="446.57" y="83.34" width="3.31" height="3.3" fill="#3000a8" stroke="#666" stroke-width="0.3"/>
<rect x="449.88" y="83.34" width="3.31" height="3.3" fill="#5858f0" stroke="#666" stroke-width="0.3"/>
<rect x="453.19" y="83.34" width="3.31" height="3.3" fill="#0000e0" stroke="#666" stroke-width="0.3"/>
<rect x="456.5" y="83.34" width="3.31" height="3.3" fill="#a8a8ff" stroke="#666" stroke-width="0.3"/>
<rect x="459.81" y="83.34" width="3.31" height="3.3" fill="#0000e0" stroke="#666" stroke-width="0.3"/>
<rect x="463.12" y="83.34" width="3.31" height="3.3" fill="#a8a8ff" stroke="#666" stroke-width="0.3"/>
<rect x="466.43" y="83.34" width="3.31" height="3.3" fill="#f4f4ff" stroke="#666" stroke-width="0.3"/>
<rect x="469.74" y="83.34" width="3.31" height="3.3" fill="#a8a8ff" stroke="#666" stroke-width="0.3"/>
<rect x="473.05" y="83.34" width="3.31" height="3.3" fill="#0000e0" stroke="#666" stroke-width="0.3"/>
<rect x="476.35" y="83.34" width="3.31" height="3.3" fill="#a8a8ff" stroke="#666" stroke-width="0.3"/>
<rect x="479.66" y="83.34" width="3.31" height="3.3" fill="#0000e0" stroke="#666" stroke-width="0.3"/>
<rect x="482.97" y="83.34" width="3.31" height="3.3" fill="#f4f4ff" stroke="#666" stroke-width="0.3"/>
<rect x="486.28" y="83.34" width="3.31" height="3.3" fill="#a8a8ff" stroke="#666" stroke-width="0.3"/>
<rect x="489.59" y="83.34" width="3.31" height="3.3" fill="#0000e0" stroke="#666" stroke-width="0.3"/>
<line x1="494" y1="86.64" x2="520" y2="86.64" stroke="#999" stroke-width="0.5"/>
<text x="495" y="86.49" font-size="3.4" fill="#111">LMO7</text>
<rect x="420.1" y="86.64" width="3.31" height="3.3" fill="#f8a0a8" stroke="#666" stroke-width="0.3"/>
<rect x="423.41" y="86.64" width="3.31" height="3.3" fill="#f8a0a8" stroke="#666" stroke-width="0.3"/>
<rect x="426.72" y="86.64" width="3.31" height="3.3" fill="#5858f0" stroke="#666" stroke-width="0.3"/>
<rect x="430.03" y="86.64" width="3.31" height="3.3" fill="#f45050" stroke="#666" stroke-width="0.3"/>
<rect x="433.34" y="86.64" width="3.31" height="3.3" fill="#f45050" stroke="#666" stroke-width="0.3"/>
<rect x="436.65" y="86.64" width="3.31" height="3.3" fill="#f8a0a8" stroke="#666" stroke-width="0.3"/>
<rect x="439.95" y="86.64" width="3.31" height="3.3" fill="#f00000" stroke="#666" stroke-width="0.3"/>
<rect x="443.26" y="86.64" width="3.31" height="3.3" fill="#f00000" stroke="#666" stroke-width="0.3"/>
<rect x="446.57" y="86.64" width="3.31" height="3.3" fill="#3000a8" stroke="#666" stroke-width="0.3"/>
<rect x="449.88" y="86.64" width="3.31" height="3.3" fill="#5858f0" stroke="#666" stroke-width="0.3"/>
<rect x="453.19" y="86.64" width="3.31" height="3.3" fill="#f4d8ec" stroke="#666" stroke-width="0.3"/>
<rect x="456.5" y="86.64" width="3.31" height="3.3" fill="#3000a8" stroke="#666" stroke-width="0.3"/>
<rect x="459.81" y="86.64" width="3.31" height="3.3" fill="#3000a8" stroke="#666" stroke-width="0.3"/>
<rect x="463.12" y="86.64" width="3.31" height="3.3" fill="#0000e0" stroke="#666" stroke-width="0.3"/>
<rect x="466.43" y="86.64" width="3.31" height="3.3" fill="#f4f4ff" stroke="#666" stroke-width="0.3"/>
<rect x="469.74" y="86.64" width="3.31" height="3.3" fill="#0000e0" stroke="#666" stroke-width="0.3"/>
<rect x="473.05" y="86.64" width="3.31" height="3.3" fill="#a8a8ff" stroke="#666" stroke-width="0.3"/>
<rect x="476.35" y="86.64" width="3.31" height="3.3" fill="#f4d8ec" stroke="#666" stroke-width="0.3"/>
<rect x="479.66" y="86.64" width="3.31" height="3.3" fill="#0000e0" stroke="#666" stroke-width="0.3"/>
<rect x="482.97" y="86.64" width="3.31" height="3.3" fill="#3000a8" stroke="#666" stroke-width="0.3"/>
<rect x="486.28" y="86.64" width="3.31" height="3.3" fill="#0000e0" stroke="#666" stroke-width="0.3"/>
<rect x="489.59" y="86.64" width="3.31" height="3.3" fill="#f4f4ff" stroke="#666" stroke-width="0.3"/>
<line x1="494" y1="89.95" x2="520" y2="89.95" stroke="#999" stroke-width="0.5"/>
<text x="495" y="89.8" font-size="3.4" fill="#111">ELF3</text>
<rect x="420.1" y="89.95" width="3.31" height="3.3" fill="#f4d8ec" stroke="#666" stroke-width="0.3"/>
<rect x="423.41" y="89.95" width="3.31" height="3.3" fill="#f8a0a8" stroke="#666" stroke-width="0.3"/>
<rect x="426.72" y="89.95" width="3.31" height="3.3" fill="#f00000" stroke="#666" stroke-width="0.3"/>
<rect x="430.03" y="89.95" width="3.31" height="3.3" fill="#f4f4ff" stroke="#666" stroke-width="0.3"/>
<rect x="433.34" y="89.95" width="3.31" height="3.3" fill="#f45050" stroke="#666" stroke-width="0.3"/>
<rect x="436.65" y="89.95" width="3.31" height="3.3" fill="#f4d8ec" stroke="#666" stroke-width="0.3"/>
<rect x="439.95" y="89.95" width="3.31" height="3.3" fill="#f45050" stroke="#666" stroke-width="0.3"/>
<rect x="443.26" y="89.95" width="3.31" height="3.3" fill="#f8a0a8" stroke="#666" stroke-width="0.3"/>
<rect x="446.57" y="89.95" width="3.31" height="3.3" fill="#3000a8" stroke="#666" stroke-width="0.3"/>
<rect x="449.88" y="89.95" width="3.31" height="3.3" fill="#f4f4ff" stroke="#666" stroke-width="0.3"/>
<rect x="453.19" y="89.95" width="3.31" height="3.3" fill="#3000a8" stroke="#666" stroke-width="0.3"/>
<rect x="456.5" y="89.95" width="3.31" height="3.3" fill="#f4f4ff" stroke="#666" stroke-width="0.3"/>
<rect x="459.81" y="89.95" width="3.31" height="3.3" fill="#5858f0" stroke="#666" stroke-width="0.3"/>
<rect x="463.12" y="89.95" width="3.31" height="3.3" fill="#f45050" stroke="#666" stroke-width="0.3"/>
<rect x="466.43" y="89.95" width="3.31" height="3.3" fill="#f4f4ff" stroke="#666" stroke-width="0.3"/>
<rect x="469.74" y="89.95" width="3.31" height="3.3" fill="#5858f0" stroke="#666" stroke-width="0.3"/>
<rect x="473.05" y="89.95" width="3.31" height="3.3" fill="#a8a8ff" stroke="#666" stroke-width="0.3"/>
<rect x="476.35" y="89.95" width="3.31" height="3.3" fill="#5858f0" stroke="#666" stroke-width="0.3"/>
<rect x="479.66" y="89.95" width="3.31" height="3.3" fill="#f4f4ff" stroke="#666" stroke-width="0.3"/>
<rect x="482.97" y="89.95" width="3.31" height="3.3" fill="#5858f0" stroke="#666" stroke-width="0.3"/>
<rect x="486.28" y="89.95" width="3.31" height="3.3" fill="#5858f0" stroke="#666" stroke-width="0.3"/>
<rect x="489.59" y="89.95" width="3.31" height="3.3" fill="#f4f4ff" stroke="#666" stroke-width="0.3"/>
<line x1="494" y1="93.25" x2="520" y2="93.25" stroke="#999" stroke-width="0.5"/>
<text x="495" y="93.1" font-size="3.4" fill="#111">PLAUR</text>
<rect x="420.1" y="93.25" width="3.31" height="3.3" fill="#f8a0a8" stroke="#666" stroke-width="0.3"/>
<rect x="423.41" y="93.25" width="3.31" height="3.3" fill="#f4d8ec" stroke="#666" stroke-width="0.3"/>
<rect x="426.72" y="93.25" width="3.31" height="3.3" fill="#f45050" stroke="#666" stroke-width="0.3"/>
<rect x="430.03" y="93.25" width="3.31" height="3.3" fill="#f8a0a8" stroke="#666" stroke-width="0.3"/>
<rect x="433.34" y="93.25" width="3.31" height="3.3" fill="#f4d8ec" stroke="#666" stroke-width="0.3"/>
<rect x="436.65" y="93.25" width="3.31" height="3.3" fill="#f00000" stroke="#666" stroke-width="0.3"/>
<rect x="439.95" y="93.25" width="3.31" height="3.3" fill="#f4d8ec" stroke="#666" stroke-width="0.3"/>
<rect x="443.26" y="93.25" width="3.31" height="3.3" fill="#f8a0a8" stroke="#666" stroke-width="0.3"/>
<rect x="446.57" y="93.25" width="3.31" height="3.3" fill="#5858f0" stroke="#666" stroke-width="0.3"/>
<rect x="449.88" y="93.25" width="3.31" height="3.3" fill="#a8a8ff" stroke="#666" stroke-width="0.3"/>
<rect x="453.19" y="93.25" width="3.31" height="3.3" fill="#a8a8ff" stroke="#666" stroke-width="0.3"/>
<rect x="456.5" y="93.25" width="3.31" height="3.3" fill="#3000a8" stroke="#666" stroke-width="0.3"/>
<rect x="459.81" y="93.25" width="3.31" height="3.3" fill="#f4d8ec" stroke="#666" stroke-width="0.3"/>
<rect x="463.12" y="93.25" width="3.31" height="3.3" fill="#a8a8ff" stroke="#666" stroke-width="0.3"/>
<rect x="466.43" y="93.25" width="3.31" height="3.3" fill="#a8a8ff" stroke="#666" stroke-width="0.3"/>
<rect x="469.74" y="93.25" width="3.31" height="3.3" fill="#a8a8ff" stroke="#666" stroke-width="0.3"/>
<rect x="473.05" y="93.25" width="3.31" height="3.3" fill="#f45050" stroke="#666" stroke-width="0.3"/>
<rect x="476.35" y="93.25" width="3.31" height="3.3" fill="#a8a8ff" stroke="#666" stroke-width="0.3"/>
<rect x="479.66" y="93.25" width="3.31" height="3.3" fill="#f4f4ff" stroke="#666" stroke-width="0.3"/>
<rect x="482.97" y="93.25" width="3.31" height="3.3" fill="#f4f4ff" stroke="#666" stroke-width="0.3"/>
<rect x="486.28" y="93.25" width="3.31" height="3.3" fill="#f4d8ec" stroke="#666" stroke-width="0.3"/>
<rect x="489.59" y="93.25" width="3.31" height="3.3" fill="#f8a0a8" stroke="#666" stroke-width="0.3"/>
<line x1="494" y1="96.55" x2="520" y2="96.55" stroke="#999" stroke-width="0.5"/>
<text x="495" y="96.4" font-size="3.4" fill="#111">SERPINB1</text>
<rect x="420.1" y="96.55" width="3.31" height="3.3" fill="#f00000" stroke="#666" stroke-width="0.3"/>
<rect x="423.41" y="96.55" width="3.31" height="3.3" fill="#f45050" stroke="#666" stroke-width="0.3"/>
<rect x="426.72" y="96.55" width="3.31" height="3.3" fill="#f4d8ec" stroke="#666" stroke-width="0.3"/>
<rect x="430.03" y="96.55" width="3.31" height="3.3" fill="#f8a0a8" stroke="#666" stroke-width="0.3"/>
<rect x="433.34" y="96.55" width="3.31" height="3.3" fill="#f8a0a8" stroke="#666" stroke-width="0.3"/>
<rect x="436.65" y="96.55" width="3.31" height="3.3" fill="#a8a8ff" stroke="#666" stroke-width="0.3"/>
<rect x="439.95" y="96.55" width="3.31" height="3.3" fill="#f45050" stroke="#666" stroke-width="0.3"/>
<rect x="443.26" y="96.55" width="3.31" height="3.3" fill="#f00000" stroke="#666" stroke-width="0.3"/>
<rect x="446.57" y="96.55" width="3.31" height="3.3" fill="#3000a8" stroke="#666" stroke-width="0.3"/>
<rect x="449.88" y="96.55" width="3.31" height="3.3" fill="#f4f4ff" stroke="#666" stroke-width="0.3"/>
<rect x="453.19" y="96.55" width="3.31" height="3.3" fill="#5858f0" stroke="#666" stroke-width="0.3"/>
<rect x="456.5" y="96.55" width="3.31" height="3.3" fill="#3000a8" stroke="#666" stroke-width="0.3"/>
<rect x="459.81" y="96.55" width="3.31" height="3.3" fill="#f8a0a8" stroke="#666" stroke-width="0.3"/>
<rect x="463.12" y="96.55" width="3.31" height="3.3" fill="#a8a8ff" stroke="#666" stroke-width="0.3"/>
<rect x="466.43" y="96.55" width="3.31" height="3.3" fill="#f8a0a8" stroke="#666" stroke-width="0.3"/>
<rect x="469.74" y="96.55" width="3.31" height="3.3" fill="#f4d8ec" stroke="#666" stroke-width="0.3"/>
<rect x="473.05" y="96.55" width="3.31" height="3.3" fill="#3000a8" stroke="#666" stroke-width="0.3"/>
<rect x="476.35" y="96.55" width="3.31" height="3.3" fill="#f4f4ff" stroke="#666" stroke-width="0.3"/>
<rect x="479.66" y="96.55" width="3.31" height="3.3" fill="#f4d8ec" stroke="#666" stroke-width="0.3"/>
<rect x="482.97" y="96.55" width="3.31" height="3.3" fill="#a8a8ff" stroke="#666" stroke-width="0.3"/>
<rect x="486.28" y="96.55" width="3.31" height="3.3" fill="#5858f0" stroke="#666" stroke-width="0.3"/>
<rect x="489.59" y="96.55" width="3.31" height="3.3" fill="#f4d8ec" stroke="#666" stroke-width="0.3"/>
<line x1="494" y1="99.86" x2="520" y2="99.86" stroke="#999" stroke-width="0.5"/>
<text x="495" y="99.71" font-size="3.4" fill="#111">MYC</text>
<rect x="420.1" y="99.86" width="3.31" height="3.3" fill="#f4d8ec" stroke="#666" stroke-width="0.3"/>
<rect x="423.41" y="99.86" width="3.31" height="3.3" fill="#3000a8" stroke="#666" stroke-width="0.3"/>
<rect x="426.72" y="99.86" width="3.31" height="3.3" fill="#f8a0a8" stroke="#666" stroke-width="0.3"/>
<rect x="430.03" y="99.86" width="3.31" height="3.3" fill="#f00000" stroke="#666" stroke-width="0.3"/>
<rect x="433.34" y="99.86" width="3.31" height="3.3" fill="#f4d8ec" stroke="#666" stroke-width="0.3"/>
<rect x="436.65" y="99.86" width="3.31" height="3.3" fill="#f4d8ec" stroke="#666" stroke-width="0.3"/>
<rect x="439.95" y="99.86" width="3.31" height="3.3" fill="#f45050" stroke="#666" stroke-width="0.3"/>
<rect x="443.26" y="99.86" width="3.31" height="3.3" fill="#f4f4ff" stroke="#666" stroke-width="0.3"/>
<rect x="446.57" y="99.86" width="3.31" height="3.3" fill="#0000e0" stroke="#666" stroke-width="0.3"/>
<rect x="449.88" y="99.86" width="3.31" height="3.3" fill="#a8a8ff" stroke="#666" stroke-width="0.3"/>
<rect x="453.19" y="99.86" width="3.31" height="3.3" fill="#a8a8ff" stroke="#666" stroke-width="0.3"/>
<rect x="456.5" y="99.86" width="3.31" height="3.3" fill="#f4f4ff" stroke="#666" stroke-width="0.3"/>
<rect x="459.81" y="99.86" width="3.31" height="3.3" fill="#a8a8ff" stroke="#666" stroke-width="0.3"/>
<rect x="463.12" y="99.86" width="3.31" height="3.3" fill="#0000e0" stroke="#666" stroke-width="0.3"/>
<rect x="466.43" y="99.86" width="3.31" height="3.3" fill="#f4d8ec" stroke="#666" stroke-width="0.3"/>
<rect x="469.74" y="99.86" width="3.31" height="3.3" fill="#a8a8ff" stroke="#666" stroke-width="0.3"/>
<rect x="473.05" y="99.86" width="3.31" height="3.3" fill="#3000a8" stroke="#666" stroke-width="0.3"/>
<rect x="476.35" y="99.86" width="3.31" height="3.3" fill="#a8a8ff" stroke="#666" stroke-width="0.3"/>
<rect x="479.66" y="99.86" width="3.31" height="3.3" fill="#f4d8ec" stroke="#666" stroke-width="0.3"/>
<rect x="482.97" y="99.86" width="3.31" height="3.3" fill="#0000e0" stroke="#666" stroke-width="0.3"/>
<rect x="486.28" y="99.86" width="3.31" height="3.3" fill="#3000a8" stroke="#666" stroke-width="0.3"/>
<rect x="489.59" y="99.86" width="3.31" height="3.3" fill="#a8a8ff" stroke="#666" stroke-width="0.3"/>
<line x1="494" y1="103.16" x2="520" y2="103.16" stroke="#999" stroke-width="0.5"/>
<text x="495" y="103.01" font-size="3.4" fill="#111">SOCS3</text>
<rect x="420.1" y="103.16" width="3.31" height="3.3" fill="#f4f4ff" stroke="#666" stroke-width="0.3"/>
<rect x="423.41" y="103.16" width="3.31" height="3.3" fill="#a8a8ff" stroke="#666" stroke-width="0.3"/>
<rect x="426.72" y="103.16" width="3.31" height="3.3" fill="#f00000" stroke="#666" stroke-width="0.3"/>
<rect x="430.03" y="103.16" width="3.31" height="3.3" fill="#f00000" stroke="#666" stroke-width="0.3"/>
<rect x="433.34" y="103.16" width="3.31" height="3.3" fill="#a8a8ff" stroke="#666" stroke-width="0.3"/>
<rect x="436.65" y="103.16" width="3.31" height="3.3" fill="#f8a0a8" stroke="#666" stroke-width="0.3"/>
<rect x="439.95" y="103.16" width="3.31" height="3.3" fill="#f45050" stroke="#666" stroke-width="0.3"/>
<rect x="443.26" y="103.16" width="3.31" height="3.3" fill="#0000e0" stroke="#666" stroke-width="0.3"/>
<rect x="446.57" y="103.16" width="3.31" height="3.3" fill="#3000a8" stroke="#666" stroke-width="0.3"/>
<rect x="449.88" y="103.16" width="3.31" height="3.3" fill="#3000a8" stroke="#666" stroke-width="0.3"/>
<rect x="453.19" y="103.16" width="3.31" height="3.3" fill="#f4f4ff" stroke="#666" stroke-width="0.3"/>
<rect x="456.5" y="103.16" width="3.31" height="3.3" fill="#0000e0" stroke="#666" stroke-width="0.3"/>
<rect x="459.81" y="103.16" width="3.31" height="3.3" fill="#f4d8ec" stroke="#666" stroke-width="0.3"/>
<rect x="463.12" y="103.16" width="3.31" height="3.3" fill="#3000a8" stroke="#666" stroke-width="0.3"/>
<rect x="466.43" y="103.16" width="3.31" height="3.3" fill="#a8a8ff" stroke="#666" stroke-width="0.3"/>
<rect x="469.74" y="103.16" width="3.31" height="3.3" fill="#f4d8ec" stroke="#666" stroke-width="0.3"/>
<rect x="473.05" y="103.16" width="3.31" height="3.3" fill="#f4f4ff" stroke="#666" stroke-width="0.3"/>
<rect x="476.35" y="103.16" width="3.31" height="3.3" fill="#f4f4ff" stroke="#666" stroke-width="0.3"/>
<rect x="479.66" y="103.16" width="3.31" height="3.3" fill="#f4f4ff" stroke="#666" stroke-width="0.3"/>
<rect x="482.97" y="103.16" width="3.31" height="3.3" fill="#f4f4ff" stroke="#666" stroke-width="0.3"/>
<rect x="486.28" y="103.16" width="3.31" height="3.3" fill="#a8a8ff" stroke="#666" stroke-width="0.3"/>
<rect x="489.59" y="103.16" width="3.31" height="3.3" fill="#a8a8ff" stroke="#666" stroke-width="0.3"/>
<line x1="494" y1="106.47" x2="520" y2="106.47" stroke="#999" stroke-width="0.5"/>
<text x="495" y="106.32" font-size="3.4" fill="#111">TGM2</text>
<rect x="420.1" y="106.47" width="3.31" height="3.3" fill="#0000e0" stroke="#666" stroke-width="0.3"/>
<rect x="423.41" y="106.47" width="3.31" height="3.3" fill="#0000e0" stroke="#666" stroke-width="0.3"/>
<rect x="426.72" y="106.47" width="3.31" height="3.3" fill="#f00000" stroke="#666" stroke-width="0.3"/>
<rect x="430.03" y="106.47" width="3.31" height="3.3" fill="#f45050" stroke="#666" stroke-width="0.3"/>
<rect x="433.34" y="106.47" width="3.31" height="3.3" fill="#f4d8ec" stroke="#666" stroke-width="0.3"/>
<rect x="436.65" y="106.47" width="3.31" height="3.3" fill="#a8a8ff" stroke="#666" stroke-width="0.3"/>
<rect x="439.95" y="106.47" width="3.31" height="3.3" fill="#f4d8ec" stroke="#666" stroke-width="0.3"/>
<rect x="443.26" y="106.47" width="3.31" height="3.3" fill="#a8a8ff" stroke="#666" stroke-width="0.3"/>
<rect x="446.57" y="106.47" width="3.31" height="3.3" fill="#0000e0" stroke="#666" stroke-width="0.3"/>
<rect x="449.88" y="106.47" width="3.31" height="3.3" fill="#5858f0" stroke="#666" stroke-width="0.3"/>
<rect x="453.19" y="106.47" width="3.31" height="3.3" fill="#3000a8" stroke="#666" stroke-width="0.3"/>
<rect x="456.5" y="106.47" width="3.31" height="3.3" fill="#3000a8" stroke="#666" stroke-width="0.3"/>
<rect x="459.81" y="106.47" width="3.31" height="3.3" fill="#a8a8ff" stroke="#666" stroke-width="0.3"/>
<rect x="463.12" y="106.47" width="3.31" height="3.3" fill="#3000a8" stroke="#666" stroke-width="0.3"/>
<rect x="466.43" y="106.47" width="3.31" height="3.3" fill="#0000e0" stroke="#666" stroke-width="0.3"/>
<rect x="469.74" y="106.47" width="3.31" height="3.3" fill="#0000e0" stroke="#666" stroke-width="0.3"/>
<rect x="473.05" y="106.47" width="3.31" height="3.3" fill="#a8a8ff" stroke="#666" stroke-width="0.3"/>
<rect x="476.35" y="106.47" width="3.31" height="3.3" fill="#3000a8" stroke="#666" stroke-width="0.3"/>
<rect x="479.66" y="106.47" width="3.31" height="3.3" fill="#3000a8" stroke="#666" stroke-width="0.3"/>
<rect x="482.97" y="106.47" width="3.31" height="3.3" fill="#3000a8" stroke="#666" stroke-width="0.3"/>
<rect x="486.28" y="106.47" width="3.31" height="3.3" fill="#a8a8ff" stroke="#666" stroke-width="0.3"/>
<rect x="489.59" y="106.47" width="3.31" height="3.3" fill="#3000a8" stroke="#666" stroke-width="0.3"/>
<line x1="494" y1="109.77" x2="520" y2="109.77" stroke="#999" stroke-width="0.5"/>
<text x="495" y="109.62" font-size="3.4" fill="#111">PLAU</text>
<rect x="420.1" y="109.77" width="3.31" height="3.3" fill="#a8a8ff" stroke="#666" stroke-width="0.3"/>
<rect x="423.41" y="109.77" width="3.31" height="3.3" fill="#0000e0" stroke="#666" stroke-width="0.3"/>
<rect x="426.72" y="109.77" width="3.31" height="3.3" fill="#f8a0a8" stroke="#666" stroke-width="0.3"/>
<rect x="430.03" y="109.77" width="3.31" height="3.3" fill="#f00000" stroke="#666" stroke-width="0.3"/>
<rect x="433.34" y="109.77" width="3.31" height="3.3" fill="#f8a0a8" stroke="#666" stroke-width="0.3"/>
<rect x="436.65" y="109.77" width="3.31" height="3.3" fill="#a8a8ff" stroke="#666" stroke-width="0.3"/>
<rect x="439.95" y="109.77" width="3.31" height="3.3" fill="#f00000" stroke="#666" stroke-width="0.3"/>
<rect x="443.26" y="109.77" width="3.31" height="3.3" fill="#0000e0" stroke="#666" stroke-width="0.3"/>
<rect x="446.57" y="109.77" width="3.31" height="3.3" fill="#f4f4ff" stroke="#666" stroke-width="0.3"/>
<rect x="449.88" y="109.77" width="3.31" height="3.3" fill="#5858f0" stroke="#666" stroke-width="0.3"/>
<rect x="453.19" y="109.77" width="3.31" height="3.3" fill="#3000a8" stroke="#666" stroke-width="0.3"/>
<rect x="456.5" y="109.77" width="3.31" height="3.3" fill="#a8a8ff" stroke="#666" stroke-width="0.3"/>
<rect x="459.81" y="109.77" width="3.31" height="3.3" fill="#5858f0" stroke="#666" stroke-width="0.3"/>
<rect x="463.12" y="109.77" width="3.31" height="3.3" fill="#f8a0a8" stroke="#666" stroke-width="0.3"/>
<rect x="466.43" y="109.77" width="3.31" height="3.3" fill="#3000a8" stroke="#666" stroke-width="0.3"/>
<rect x="469.74" y="109.77" width="3.31" height="3.3" fill="#a8a8ff" stroke="#666" stroke-width="0.3"/>
<rect x="473.05" y="109.77" width="3.31" height="3.3" fill="#a8a8ff" stroke="#666" stroke-width="0.3"/>
<rect x="476.35" y="109.77" width="3.31" height="3.3" fill="#f4f4ff" stroke="#666" stroke-width="0.3"/>
<rect x="479.66" y="109.77" width="3.31" height="3.3" fill="#3000a8" stroke="#666" stroke-width="0.3"/>
<rect x="482.97" y="109.77" width="3.31" height="3.3" fill="#3000a8" stroke="#666" stroke-width="0.3"/>
<rect x="486.28" y="109.77" width="3.31" height="3.3" fill="#f4f4ff" stroke="#666" stroke-width="0.3"/>
<rect x="489.59" y="109.77" width="3.31" height="3.3" fill="#f4f4ff" stroke="#666" stroke-width="0.3"/>
<line x1="494" y1="113.08" x2="520" y2="113.08" stroke="#999" stroke-width="0.5"/>
<text x="495" y="112.93" font-size="3.4" fill="#111">ADM</text>
<rect x="420.1" y="113.08" width="3.31" height="3.3" fill="#f45050" stroke="#666" stroke-width="0.3"/>
<rect x="423.41" y="113.08" width="3.31" height="3.3" fill="#f8a0a8" stroke="#666" stroke-width="0.3"/>
<rect x="426.72" y="113.08" width="3.31" height="3.3" fill="#f8a0a8" stroke="#666" stroke-width="0.3"/>
<rect x="430.03" y="113.08" width="3.31" height="3.3" fill="#3000a8" stroke="#666" stroke-width="0.3"/>
<rect x="433.34" y="113.08" width="3.31" height="3.3" fill="#f00000" stroke="#666" stroke-width="0.3"/>
<rect x="436.65" y="113.08" width="3.31" height="3.3" fill="#f4f4ff" stroke="#666" stroke-width="0.3"/>
<rect x="439.95" y="113.08" width="3.31" height="3.3" fill="#3000a8" stroke="#666" stroke-width="0.3"/>
<rect x="443.26" y="113.08" width="3.31" height="3.3" fill="#f4f4ff" stroke="#666" stroke-width="0.3"/>
<rect x="446.57" y="113.08" width="3.31" height="3.3" fill="#a8a8ff" stroke="#666" stroke-width="0.3"/>
<rect x="449.88" y="113.08" width="3.31" height="3.3" fill="#f4d8ec" stroke="#666" stroke-width="0.3"/>
<rect x="453.19" y="113.08" width="3.31" height="3.3" fill="#3000a8" stroke="#666" stroke-width="0.3"/>
<rect x="456.5" y="113.08" width="3.31" height="3.3" fill="#5858f0" stroke="#666" stroke-width="0.3"/>
<rect x="459.81" y="113.08" width="3.31" height="3.3" fill="#f4d8ec" stroke="#666" stroke-width="0.3"/>
<rect x="463.12" y="113.08" width="3.31" height="3.3" fill="#f8a0a8" stroke="#666" stroke-width="0.3"/>
<rect x="466.43" y="113.08" width="3.31" height="3.3" fill="#3000a8" stroke="#666" stroke-width="0.3"/>
<rect x="469.74" y="113.08" width="3.31" height="3.3" fill="#3000a8" stroke="#666" stroke-width="0.3"/>
<rect x="473.05" y="113.08" width="3.31" height="3.3" fill="#0000e0" stroke="#666" stroke-width="0.3"/>
<rect x="476.35" y="113.08" width="3.31" height="3.3" fill="#f4f4ff" stroke="#666" stroke-width="0.3"/>
<rect x="479.66" y="113.08" width="3.31" height="3.3" fill="#0000e0" stroke="#666" stroke-width="0.3"/>
<rect x="482.97" y="113.08" width="3.31" height="3.3" fill="#3000a8" stroke="#666" stroke-width="0.3"/>
<rect x="486.28" y="113.08" width="3.31" height="3.3" fill="#a8a8ff" stroke="#666" stroke-width="0.3"/>
<rect x="489.59" y="113.08" width="3.31" height="3.3" fill="#f4f4ff" stroke="#666" stroke-width="0.3"/>
<line x1="494" y1="116.38" x2="520" y2="116.38" stroke="#999" stroke-width="0.5"/>
<text x="495" y="116.23" font-size="3.4" fill="#111">FOSL1</text>
<rect x="420.1" y="116.38" width="3.31" height="3.3" fill="#f00000" stroke="#666" stroke-width="0.3"/>
<rect x="423.41" y="116.38" width="3.31" height="3.3" fill="#f4f4ff" stroke="#666" stroke-width="0.3"/>
<rect x="426.72" y="116.38" width="3.31" height="3.3" fill="#f8a0a8" stroke="#666" stroke-width="0.3"/>
<rect x="430.03" y="116.38" width="3.31" height="3.3" fill="#a8a8ff" stroke="#666" stroke-width="0.3"/>
<rect x="433.34" y="116.38" width="3.31" height="3.3" fill="#f4f4ff" stroke="#666" stroke-width="0.3"/>
<rect x="436.65" y="116.38" width="3.31" height="3.3" fill="#f4d8ec" stroke="#666" stroke-width="0.3"/>
<rect x="439.95" y="116.38" width="3.31" height="3.3" fill="#a8a8ff" stroke="#666" stroke-width="0.3"/>
<rect x="443.26" y="116.38" width="3.31" height="3.3" fill="#f45050" stroke="#666" stroke-width="0.3"/>
<rect x="446.57" y="116.38" width="3.31" height="3.3" fill="#f4f4ff" stroke="#666" stroke-width="0.3"/>
<rect x="449.88" y="116.38" width="3.31" height="3.3" fill="#a8a8ff" stroke="#666" stroke-width="0.3"/>
<rect x="453.19" y="116.38" width="3.31" height="3.3" fill="#5858f0" stroke="#666" stroke-width="0.3"/>
<rect x="456.5" y="116.38" width="3.31" height="3.3" fill="#5858f0" stroke="#666" stroke-width="0.3"/>
<rect x="459.81" y="116.38" width="3.31" height="3.3" fill="#5858f0" stroke="#666" stroke-width="0.3"/>
<rect x="463.12" y="116.38" width="3.31" height="3.3" fill="#f4f4ff" stroke="#666" stroke-width="0.3"/>
<rect x="466.43" y="116.38" width="3.31" height="3.3" fill="#3000a8" stroke="#666" stroke-width="0.3"/>
<rect x="469.74" y="116.38" width="3.31" height="3.3" fill="#f4f4ff" stroke="#666" stroke-width="0.3"/>
<rect x="473.05" y="116.38" width="3.31" height="3.3" fill="#f4f4ff" stroke="#666" stroke-width="0.3"/>
<rect x="476.35" y="116.38" width="3.31" height="3.3" fill="#3000a8" stroke="#666" stroke-width="0.3"/>
<rect x="479.66" y="116.38" width="3.31" height="3.3" fill="#f4f4ff" stroke="#666" stroke-width="0.3"/>
<rect x="482.97" y="116.38" width="3.31" height="3.3" fill="#f45050" stroke="#666" stroke-width="0.3"/>
<rect x="486.28" y="116.38" width="3.31" height="3.3" fill="#a8a8ff" stroke="#666" stroke-width="0.3"/>
<rect x="489.59" y="116.38" width="3.31" height="3.3" fill="#5858f0" stroke="#666" stroke-width="0.3"/>
<line x1="494" y1="119.68" x2="520" y2="119.68" stroke="#999" stroke-width="0.5"/>
<text x="495" y="119.53" font-size="3.4" fill="#111">CAV1</text>
<rect x="420.1" y="119.68" width="3.31" height="3.3" fill="#a8a8ff" stroke="#666" stroke-width="0.3"/>
<rect x="423.41" y="119.68" width="3.31" height="3.3" fill="#5858f0" stroke="#666" stroke-width="0.3"/>
<rect x="426.72" y="119.68" width="3.31" height="3.3" fill="#f45050" stroke="#666" stroke-width="0.3"/>
<rect x="430.03" y="119.68" width="3.31" height="3.3" fill="#f45050" stroke="#666" stroke-width="0.3"/>
<rect x="433.34" y="119.68" width="3.31" height="3.3" fill="#f4d8ec" stroke="#666" stroke-width="0.3"/>
<rect x="436.65" y="119.68" width="3.31" height="3.3" fill="#5858f0" stroke="#666" stroke-width="0.3"/>
<rect x="439.95" y="119.68" width="3.31" height="3.3" fill="#f00000" stroke="#666" stroke-width="0.3"/>
<rect x="443.26" y="119.68" width="3.31" height="3.3" fill="#0000e0" stroke="#666" stroke-width="0.3"/>
<rect x="446.57" y="119.68" width="3.31" height="3.3" fill="#f4f4ff" stroke="#666" stroke-width="0.3"/>
<rect x="449.88" y="119.68" width="3.31" height="3.3" fill="#0000e0" stroke="#666" stroke-width="0.3"/>
<rect x="453.19" y="119.68" width="3.31" height="3.3" fill="#0000e0" stroke="#666" stroke-width="0.3"/>
<rect x="456.5" y="119.68" width="3.31" height="3.3" fill="#f45050" stroke="#666" stroke-width="0.3"/>
<rect x="459.81" y="119.68" width="3.31" height="3.3" fill="#f4d8ec" stroke="#666" stroke-width="0.3"/>
<rect x="463.12" y="119.68" width="3.31" height="3.3" fill="#0000e0" stroke="#666" stroke-width="0.3"/>
<rect x="466.43" y="119.68" width="3.31" height="3.3" fill="#5858f0" stroke="#666" stroke-width="0.3"/>
<rect x="469.74" y="119.68" width="3.31" height="3.3" fill="#0000e0" stroke="#666" stroke-width="0.3"/>
<rect x="473.05" y="119.68" width="3.31" height="3.3" fill="#a8a8ff" stroke="#666" stroke-width="0.3"/>
<rect x="476.35" y="119.68" width="3.31" height="3.3" fill="#f4d8ec" stroke="#666" stroke-width="0.3"/>
<rect x="479.66" y="119.68" width="3.31" height="3.3" fill="#a8a8ff" stroke="#666" stroke-width="0.3"/>
<rect x="482.97" y="119.68" width="3.31" height="3.3" fill="#3000a8" stroke="#666" stroke-width="0.3"/>
<rect x="486.28" y="119.68" width="3.31" height="3.3" fill="#0000e0" stroke="#666" stroke-width="0.3"/>
<rect x="489.59" y="119.68" width="3.31" height="3.3" fill="#f8a0a8" stroke="#666" stroke-width="0.3"/>
<line x1="494" y1="122.99" x2="520" y2="122.99" stroke="#999" stroke-width="0.5"/>
<text x="495" y="122.84" font-size="3.4" fill="#111">KRT7</text>
<rect x="420.1" y="122.99" width="3.31" height="3.3" fill="#f4d8ec" stroke="#666" stroke-width="0.3"/>
<rect x="423.41" y="122.99" width="3.31" height="3.3" fill="#f00000" stroke="#666" stroke-width="0.3"/>
<rect x="426.72" y="122.99" width="3.31" height="3.3" fill="#3000a8" stroke="#666" stroke-width="0.3"/>
<rect x="430.03" y="122.99" width="3.31" height="3.3" fill="#a8a8ff" stroke="#666" stroke-width="0.3"/>
<rect x="433.34" y="122.99" width="3.31" height="3.3" fill="#f4d8ec" stroke="#666" stroke-width="0.3"/>
<rect x="436.65" y="122.99" width="3.31" height="3.3" fill="#f00000" stroke="#666" stroke-width="0.3"/>
<rect x="439.95" y="122.99" width="3.31" height="3.3" fill="#3000a8" stroke="#666" stroke-width="0.3"/>
<rect x="443.26" y="122.99" width="3.31" height="3.3" fill="#f45050" stroke="#666" stroke-width="0.3"/>
<rect x="446.57" y="122.99" width="3.31" height="3.3" fill="#5858f0" stroke="#666" stroke-width="0.3"/>
<rect x="449.88" y="122.99" width="3.31" height="3.3" fill="#3000a8" stroke="#666" stroke-width="0.3"/>
<rect x="453.19" y="122.99" width="3.31" height="3.3" fill="#0000e0" stroke="#666" stroke-width="0.3"/>
<rect x="456.5" y="122.99" width="3.31" height="3.3" fill="#0000e0" stroke="#666" stroke-width="0.3"/>
<rect x="459.81" y="122.99" width="3.31" height="3.3" fill="#5858f0" stroke="#666" stroke-width="0.3"/>
<rect x="463.12" y="122.99" width="3.31" height="3.3" fill="#a8a8ff" stroke="#666" stroke-width="0.3"/>
<rect x="466.43" y="122.99" width="3.31" height="3.3" fill="#a8a8ff" stroke="#666" stroke-width="0.3"/>
<rect x="469.74" y="122.99" width="3.31" height="3.3" fill="#f45050" stroke="#666" stroke-width="0.3"/>
<rect x="473.05" y="122.99" width="3.31" height="3.3" fill="#5858f0" stroke="#666" stroke-width="0.3"/>
<rect x="476.35" y="122.99" width="3.31" height="3.3" fill="#a8a8ff" stroke="#666" stroke-width="0.3"/>
<rect x="479.66" y="122.99" width="3.31" height="3.3" fill="#f4f4ff" stroke="#666" stroke-width="0.3"/>
<rect x="482.97" y="122.99" width="3.31" height="3.3" fill="#f00000" stroke="#666" stroke-width="0.3"/>
<rect x="486.28" y="122.99" width="3.31" height="3.3" fill="#a8a8ff" stroke="#666" stroke-width="0.3"/>
<rect x="489.59" y="122.99" width="3.31" height="3.3" fill="#5858f0" stroke="#666" stroke-width="0.3"/>
<line x1="494" y1="126.29" x2="520" y2="126.29" stroke="#999" stroke-width="0.5"/>
<text x="495" y="126.14" font-size="3.4" fill="#111">IER3</text>
<rect x="420.1" y="126.29" width="3.31" height="3.3" fill="#3000a8" stroke="#666" stroke-width="0.3"/>
<rect x="423.41" y="126.29" width="3.31" height="3.3" fill="#f00000" stroke="#666" stroke-width="0.3"/>
<rect x="426.72" y="126.29" width="3.31" height="3.3" fill="#3000a8" stroke="#666" stroke-width="0.3"/>
<rect x="430.03" y="126.29" width="3.31" height="3.3" fill="#3000a8" stroke="#666" stroke-width="0.3"/>
<rect x="433.34" y="126.29" width="3.31" height="3.3" fill="#3000a8" stroke="#666" stroke-width="0.3"/>
<rect x="436.65" y="126.29" width="3.31" height="3.3" fill="#3000a8" stroke="#666" stroke-width="0.3"/>
<rect x="439.95" y="126.29" width="3.31" height="3.3" fill="#3000a8" stroke="#666" stroke-width="0.3"/>
<rect x="443.26" y="126.29" width="3.31" height="3.3" fill="#0000e0" stroke="#666" stroke-width="0.3"/>
<rect x="446.57" y="126.29" width="3.31" height="3.3" fill="#f45050" stroke="#666" stroke-width="0.3"/>
<rect x="449.88" y="126.29" width="3.31" height="3.3" fill="#f8a0a8" stroke="#666" stroke-width="0.3"/>
<rect x="453.19" y="126.29" width="3.31" height="3.3" fill="#f4d8ec" stroke="#666" stroke-width="0.3"/>
<rect x="456.5" y="126.29" width="3.31" height="3.3" fill="#f8a0a8" stroke="#666" stroke-width="0.3"/>
<rect x="459.81" y="126.29" width="3.31" height="3.3" fill="#f45050" stroke="#666" stroke-width="0.3"/>
<rect x="463.12" y="126.29" width="3.31" height="3.3" fill="#f00000" stroke="#666" stroke-width="0.3"/>
<rect x="466.43" y="126.29" width="3.31" height="3.3" fill="#f8a0a8" stroke="#666" stroke-width="0.3"/>
<rect x="469.74" y="126.29" width="3.31" height="3.3" fill="#f4f4ff" stroke="#666" stroke-width="0.3"/>
<rect x="473.05" y="126.29" width="3.31" height="3.3" fill="#f45050" stroke="#666" stroke-width="0.3"/>
<rect x="476.35" y="126.29" width="3.31" height="3.3" fill="#f4f4ff" stroke="#666" stroke-width="0.3"/>
<rect x="479.66" y="126.29" width="3.31" height="3.3" fill="#a8a8ff" stroke="#666" stroke-width="0.3"/>
<rect x="482.97" y="126.29" width="3.31" height="3.3" fill="#f4d8ec" stroke="#666" stroke-width="0.3"/>
<rect x="486.28" y="126.29" width="3.31" height="3.3" fill="#f45050" stroke="#666" stroke-width="0.3"/>
<rect x="489.59" y="126.29" width="3.31" height="3.3" fill="#5858f0" stroke="#666" stroke-width="0.3"/>
<line x1="494" y1="129.6" x2="520" y2="129.6" stroke="#999" stroke-width="0.5"/>
<text x="495" y="129.45" font-size="3.4" fill="#111">MET</text>
<rect x="420.1" y="129.6" width="3.31" height="3.3" fill="#3000a8" stroke="#666" stroke-width="0.3"/>
<rect x="423.41" y="129.6" width="3.31" height="3.3" fill="#3000a8" stroke="#666" stroke-width="0.3"/>
<rect x="426.72" y="129.6" width="3.31" height="3.3" fill="#0000e0" stroke="#666" stroke-width="0.3"/>
<rect x="430.03" y="129.6" width="3.31" height="3.3" fill="#5858f0" stroke="#666" stroke-width="0.3"/>
<rect x="433.34" y="129.6" width="3.31" height="3.3" fill="#3000a8" stroke="#666" stroke-width="0.3"/>
<rect x="436.65" y="129.6" width="3.31" height="3.3" fill="#3000a8" stroke="#666" stroke-width="0.3"/>
<rect x="439.95" y="129.6" width="3.31" height="3.3" fill="#3000a8" stroke="#666" stroke-width="0.3"/>
<rect x="443.26" y="129.6" width="3.31" height="3.3" fill="#3000a8" stroke="#666" stroke-width="0.3"/>
<rect x="446.57" y="129.6" width="3.31" height="3.3" fill="#f45050" stroke="#666" stroke-width="0.3"/>
<rect x="449.88" y="129.6" width="3.31" height="3.3" fill="#a8a8ff" stroke="#666" stroke-width="0.3"/>
<rect x="453.19" y="129.6" width="3.31" height="3.3" fill="#f8a0a8" stroke="#666" stroke-width="0.3"/>
<rect x="456.5" y="129.6" width="3.31" height="3.3" fill="#a8a8ff" stroke="#666" stroke-width="0.3"/>
<rect x="459.81" y="129.6" width="3.31" height="3.3" fill="#f8a0a8" stroke="#666" stroke-width="0.3"/>
<rect x="463.12" y="129.6" width="3.31" height="3.3" fill="#f45050" stroke="#666" stroke-width="0.3"/>
<rect x="466.43" y="129.6" width="3.31" height="3.3" fill="#f4d8ec" stroke="#666" stroke-width="0.3"/>
<rect x="469.74" y="129.6" width="3.31" height="3.3" fill="#f45050" stroke="#666" stroke-width="0.3"/>
<rect x="473.05" y="129.6" width="3.31" height="3.3" fill="#a8a8ff" stroke="#666" stroke-width="0.3"/>
<rect x="476.35" y="129.6" width="3.31" height="3.3" fill="#3000a8" stroke="#666" stroke-width="0.3"/>
<rect x="479.66" y="129.6" width="3.31" height="3.3" fill="#f00000" stroke="#666" stroke-width="0.3"/>
<rect x="482.97" y="129.6" width="3.31" height="3.3" fill="#f4d8ec" stroke="#666" stroke-width="0.3"/>
<rect x="486.28" y="129.6" width="3.31" height="3.3" fill="#f8a0a8" stroke="#666" stroke-width="0.3"/>
<rect x="489.59" y="129.6" width="3.31" height="3.3" fill="#a8a8ff" stroke="#666" stroke-width="0.3"/>
<line x1="494" y1="132.9" x2="520" y2="132.9" stroke="#999" stroke-width="0.5"/>
<text x="495" y="132.75" font-size="3.4" fill="#111">TGFB2</text>
<rect x="420.1" y="138.1" width="26.47" height="19.5" fill="#b8b8b8"/>
<rect x="446.57" y="138.1" width="46.33" height="19.5" fill="#f8c800"/>
<clipPath id="hc11"><rect x="420.1" y="138.4" width="72.8" height="19.2"/></clipPath>
<g clip-path="url(#hc11)">
<text transform="translate(422.9,157) rotate(-90)" font-size="3.1" font-weight="bold" fill="#111">GSM1193_S01</text>
<text transform="translate(426.21,157) rotate(-90)" font-size="3.1" font-weight="bold" fill="#111">GSM1200_S02</text>
<text transform="translate(429.52,157) rotate(-90)" font-size="3.1" font-weight="bold" fill="#111">GSM1207_S03</text>
<text transform="translate(432.83,157) rotate(-90)" font-size="3.1" font-weight="bold" fill="#111">GSM1214_S04</text>
<text transform="translate(436.14,157) rotate(-90)" font-size="3.1" font-weight="bold" fill="#111">GSM1221_S05</text>
<text transform="translate(439.45,157) rotate(-90)" font-size="3.1" font-weight="bold" fill="#111">GSM1228_S06</text>
<text transform="translate(442.76,157) rotate(-90)" font-size="3.1" font-weight="bold" fill="#111">GSM1235_S07</text>
<text transform="translate(446.07,157) rotate(-90)" font-size="3.1" font-weight="bold" fill="#111">GSM1242_S08</text>
<text transform="translate(449.38,157) rotate(-90)" font-size="3.1" font-weight="bold" fill="#111">GSM1249_S09</text>
<text transform="translate(452.69,157) rotate(-90)" font-size="3.1" font-weight="bold" fill="#111">GSM1256_S10</text>
<text transform="translate(456,157) rotate(-90)" font-size="3.1" font-weight="bold" fill="#111">GSM1263_S11</text>
<text transform="translate(459.3,157) rotate(-90)" font-size="3.1" font-weight="bold" fill="#111">GSM1270_S12</text>
<text transform="translate(462.61,157) rotate(-90)" font-size="3.1" font-weight="bold" fill="#111">GSM1277_S13</text>
<text transform="translate(465.92,157) rotate(-90)" font-size="3.1" font-weight="bold" fill="#111">GSM1284_S14</text>
<text transform="translate(469.23,157) rotate(-90)" font-size="3.1" font-weight="bold" fill="#111">GSM1291_S15</text>
<text transform="translate(472.54,157) rotate(-90)" font-size="3.1" font-weight="bold" fill="#111">GSM1298_S16</text>
<text transform="translate(475.85,157) rotate(-90)" font-size="3.1" font-weight="bold" fill="#111">GSM1305_S17</text>
<text transform="translate(479.16,157) rotate(-90)" font-size="3.1" font-weight="bold" fill="#111">GSM1312_S18</text>
<text transform="translate(482.47,157) rotate(-90)" font-size="3.1" font-weight="bold" fill="#111">GSM1319_S19</text>
<text transform="translate(485.78,157) rotate(-90)" font-size="3.1" font-weight="bold" fill="#111">GSM1326_S20</text>
<text transform="translate(489.09,157) rotate(-90)" font-size="3.1" font-weight="bold" fill="#111">GSM1333_S21</text>
<text transform="translate(492.4,157) rotate(-90)" font-size="3.1" font-weight="bold" fill="#111">GSM1340_S22</text>
</g>
<rect x="420.1" y="157.6" width="72.8" height="6.7" fill="#fff" stroke="#777" stroke-width="0.4"/>
<line x1="420.1" y1="138.1" x2="420.1" y2="164.3" stroke="#777" stroke-width="0.35"/>
<line x1="423.41" y1="138.1" x2="423.41" y2="164.3" stroke="#777" stroke-width="0.35"/>
<line x1="426.72" y1="138.1" x2="426.72" y2="164.3" stroke="#777" stroke-width="0.35"/>
<line x1="430.03" y1="138.1" x2="430.03" y2="164.3" stroke="#777" stroke-width="0.35"/>
<line x1="433.34" y1="138.1" x2="433.34" y2="164.3" stroke="#777" stroke-width="0.35"/>
<line x1="436.65" y1="138.1" x2="436.65" y2="164.3" stroke="#777" stroke-width="0.35"/>
<line x1="439.95" y1="138.1" x2="439.95" y2="164.3" stroke="#777" stroke-width="0.35"/>
<line x1="443.26" y1="138.1" x2="443.26" y2="164.3" stroke="#777" stroke-width="0.35"/>
<line x1="446.57" y1="138.1" x2="446.57" y2="164.3" stroke="#777" stroke-width="0.35"/>
<line x1="449.88" y1="138.1" x2="449.88" y2="164.3" stroke="#777" stroke-width="0.35"/>
<line x1="453.19" y1="138.1" x2="453.19" y2="164.3" stroke="#777" stroke-width="0.35"/>
<line x1="456.5" y1="138.1" x2="456.5" y2="164.3" stroke="#777" stroke-width="0.35"/>
<line x1="459.81" y1="138.1" x2="459.81" y2="164.3" stroke="#777" stroke-width="0.35"/>
<line x1="463.12" y1="138.1" x2="463.12" y2="164.3" stroke="#777" stroke-width="0.35"/>
<line x1="466.43" y1="138.1" x2="466.43" y2="164.3" stroke="#777" stroke-width="0.35"/>
<line x1="469.74" y1="138.1" x2="469.74" y2="164.3" stroke="#777" stroke-width="0.35"/>
<line x1="473.05" y1="138.1" x2="473.05" y2="164.3" stroke="#777" stroke-width="0.35"/>
<line x1="476.35" y1="138.1" x2="476.35" y2="164.3" stroke="#777" stroke-width="0.35"/>
<line x1="479.66" y1="138.1" x2="479.66" y2="164.3" stroke="#777" stroke-width="0.35"/>
<line x1="482.97" y1="138.1" x2="482.97" y2="164.3" stroke="#777" stroke-width="0.35"/>
<line x1="486.28" y1="138.1" x2="486.28" y2="164.3" stroke="#777" stroke-width="0.35"/>
<line x1="489.59" y1="138.1" x2="489.59" y2="164.3" stroke="#777" stroke-width="0.35"/>
<line x1="492.9" y1="138.1" x2="492.9" y2="164.3" stroke="#777" stroke-width="0.35"/>
<text x="494.9" y="161.9" font-size="4.7" fill="#111">SampleName</text>
<rect x="420.1" y="164.3" width="3.31" height="3.34" fill="#f8a0a8" stroke="#666" stroke-width="0.3"/>
<rect x="423.41" y="164.3" width="3.31" height="3.34" fill="#f00000" stroke="#666" stroke-width="0.3"/>
<rect x="426.72" y="164.3" width="3.31" height="3.34" fill="#f45050" stroke="#666" stroke-width="0.3"/>
<rect x="430.03" y="164.3" width="3.31" height="3.34" fill="#f45050" stroke="#666" stroke-width="0.3"/>
<rect x="433.34" y="164.3" width="3.31" height="3.34" fill="#f8a0a8" stroke="#666" stroke-width="0.3"/>
<rect x="436.65" y="164.3" width="3.31" height="3.34" fill="#f00000" stroke="#666" stroke-width="0.3"/>
<rect x="439.95" y="164.3" width="3.31" height="3.34" fill="#f00000" stroke="#666" stroke-width="0.3"/>
<rect x="443.26" y="164.3" width="3.31" height="3.34" fill="#f8a0a8" stroke="#666" stroke-width="0.3"/>
<rect x="446.57" y="164.3" width="3.31" height="3.34" fill="#a8a8ff" stroke="#666" stroke-width="0.3"/>
<rect x="449.88" y="164.3" width="3.31" height="3.34" fill="#3000a8" stroke="#666" stroke-width="0.3"/>
<rect x="453.19" y="164.3" width="3.31" height="3.34" fill="#5858f0" stroke="#666" stroke-width="0.3"/>
<rect x="456.5" y="164.3" width="3.31" height="3.34" fill="#5858f0" stroke="#666" stroke-width="0.3"/>
<rect x="459.81" y="164.3" width="3.31" height="3.34" fill="#f4f4ff" stroke="#666" stroke-width="0.3"/>
<rect x="463.12" y="164.3" width="3.31" height="3.34" fill="#5858f0" stroke="#666" stroke-width="0.3"/>
<rect x="466.43" y="164.3" width="3.31" height="3.34" fill="#a8a8ff" stroke="#666" stroke-width="0.3"/>
<rect x="469.74" y="164.3" width="3.31" height="3.34" fill="#5858f0" stroke="#666" stroke-width="0.3"/>
<rect x="473.05" y="164.3" width="3.31" height="3.34" fill="#3000a8" stroke="#666" stroke-width="0.3"/>
<rect x="476.35" y="164.3" width="3.31" height="3.34" fill="#a8a8ff" stroke="#666" stroke-width="0.3"/>
<rect x="479.66" y="164.3" width="3.31" height="3.34" fill="#5858f0" stroke="#666" stroke-width="0.3"/>
<rect x="482.97" y="164.3" width="3.31" height="3.34" fill="#0000e0" stroke="#666" stroke-width="0.3"/>
<rect x="486.28" y="164.3" width="3.31" height="3.34" fill="#0000e0" stroke="#666" stroke-width="0.3"/>
<rect x="489.59" y="164.3" width="3.31" height="3.34" fill="#f4d8ec" stroke="#666" stroke-width="0.3"/>
<line x1="494" y1="167.64" x2="520" y2="167.64" stroke="#999" stroke-width="0.5"/>
<text x="495" y="167.49" font-size="3.4" fill="#111">SELL</text>
<rect x="420.1" y="167.64" width="3.31" height="3.34" fill="#f4d8ec" stroke="#666" stroke-width="0.3"/>
<rect x="423.41" y="167.64" width="3.31" height="3.34" fill="#f45050" stroke="#666" stroke-width="0.3"/>
<rect x="426.72" y="167.64" width="3.31" height="3.34" fill="#f00000" stroke="#666" stroke-width="0.3"/>
<rect x="430.03" y="167.64" width="3.31" height="3.34" fill="#f00000" stroke="#666" stroke-width="0.3"/>
<rect x="433.34" y="167.64" width="3.31" height="3.34" fill="#f8a0a8" stroke="#666" stroke-width="0.3"/>
<rect x="436.65" y="167.64" width="3.31" height="3.34" fill="#f00000" stroke="#666" stroke-width="0.3"/>
<rect x="439.95" y="167.64" width="3.31" height="3.34" fill="#f00000" stroke="#666" stroke-width="0.3"/>
<rect x="443.26" y="167.64" width="3.31" height="3.34" fill="#f8a0a8" stroke="#666" stroke-width="0.3"/>
<rect x="446.57" y="167.64" width="3.31" height="3.34" fill="#5858f0" stroke="#666" stroke-width="0.3"/>
<rect x="449.88" y="167.64" width="3.31" height="3.34" fill="#f4f4ff" stroke="#666" stroke-width="0.3"/>
<rect x="453.19" y="167.64" width="3.31" height="3.34" fill="#3000a8" stroke="#666" stroke-width="0.3"/>
<rect x="456.5" y="167.64" width="3.31" height="3.34" fill="#3000a8" stroke="#666" stroke-width="0.3"/>
<rect x="459.81" y="167.64" width="3.31" height="3.34" fill="#f45050" stroke="#666" stroke-width="0.3"/>
<rect x="463.12" y="167.64" width="3.31" height="3.34" fill="#5858f0" stroke="#666" stroke-width="0.3"/>
<rect x="466.43" y="167.64" width="3.31" height="3.34" fill="#0000e0" stroke="#666" stroke-width="0.3"/>
<rect x="469.74" y="167.64" width="3.31" height="3.34" fill="#5858f0" stroke="#666" stroke-width="0.3"/>
<rect x="473.05" y="167.64" width="3.31" height="3.34" fill="#5858f0" stroke="#666" stroke-width="0.3"/>
<rect x="476.35" y="167.64" width="3.31" height="3.34" fill="#f4f4ff" stroke="#666" stroke-width="0.3"/>
<rect x="479.66" y="167.64" width="3.31" height="3.34" fill="#5858f0" stroke="#666" stroke-width="0.3"/>
<rect x="482.97" y="167.64" width="3.31" height="3.34" fill="#a8a8ff" stroke="#666" stroke-width="0.3"/>
<rect x="486.28" y="167.64" width="3.31" height="3.34" fill="#a8a8ff" stroke="#666" stroke-width="0.3"/>
<rect x="489.59" y="167.64" width="3.31" height="3.34" fill="#f4f4ff" stroke="#666" stroke-width="0.3"/>
<line x1="494" y1="170.99" x2="520" y2="170.99" stroke="#999" stroke-width="0.5"/>
<text x="495" y="170.84" font-size="3.4" fill="#111">NFKB1</text>
<rect x="420.1" y="170.99" width="3.31" height="3.34" fill="#f45050" stroke="#666" stroke-width="0.3"/>
<rect x="423.41" y="170.99" width="3.31" height="3.34" fill="#f00000" stroke="#666" stroke-width="0.3"/>
<rect x="426.72" y="170.99" width="3.31" height="3.34" fill="#f8a0a8" stroke="#666" stroke-width="0.3"/>
<rect x="430.03" y="170.99" width="3.31" height="3.34" fill="#f4d8ec" stroke="#666" stroke-width="0.3"/>
<rect x="433.34" y="170.99" width="3.31" height="3.34" fill="#f45050" stroke="#666" stroke-width="0.3"/>
<rect x="436.65" y="170.99" width="3.31" height="3.34" fill="#f4d8ec" stroke="#666" stroke-width="0.3"/>
<rect x="439.95" y="170.99" width="3.31" height="3.34" fill="#f4d8ec" stroke="#666" stroke-width="0.3"/>
<rect x="443.26" y="170.99" width="3.31" height="3.34" fill="#f00000" stroke="#666" stroke-width="0.3"/>
<rect x="446.57" y="170.99" width="3.31" height="3.34" fill="#a8a8ff" stroke="#666" stroke-width="0.3"/>
<rect x="449.88" y="170.99" width="3.31" height="3.34" fill="#f4f4ff" stroke="#666" stroke-width="0.3"/>
<rect x="453.19" y="170.99" width="3.31" height="3.34" fill="#3000a8" stroke="#666" stroke-width="0.3"/>
<rect x="456.5" y="170.99" width="3.31" height="3.34" fill="#f4f4ff" stroke="#666" stroke-width="0.3"/>
<rect x="459.81" y="170.99" width="3.31" height="3.34" fill="#3000a8" stroke="#666" stroke-width="0.3"/>
<rect x="463.12" y="170.99" width="3.31" height="3.34" fill="#0000e0" stroke="#666" stroke-width="0.3"/>
<rect x="466.43" y="170.99" width="3.31" height="3.34" fill="#a8a8ff" stroke="#666" stroke-width="0.3"/>
<rect x="469.74" y="170.99" width="3.31" height="3.34" fill="#0000e0" stroke="#666" stroke-width="0.3"/>
<rect x="473.05" y="170.99" width="3.31" height="3.34" fill="#0000e0" stroke="#666" stroke-width="0.3"/>
<rect x="476.35" y="170.99" width="3.31" height="3.34" fill="#a8a8ff" stroke="#666" stroke-width="0.3"/>
<rect x="479.66" y="170.99" width="3.31" height="3.34" fill="#a8a8ff" stroke="#666" stroke-width="0.3"/>
<rect x="482.97" y="170.99" width="3.31" height="3.34" fill="#0000e0" stroke="#666" stroke-width="0.3"/>
<rect x="486.28" y="170.99" width="3.31" height="3.34" fill="#5858f0" stroke="#666" stroke-width="0.3"/>
<rect x="489.59" y="170.99" width="3.31" height="3.34" fill="#f4f4ff" stroke="#666" stroke-width="0.3"/>
<line x1="494" y1="174.33" x2="520" y2="174.33" stroke="#999" stroke-width="0.5"/>
<text x="495" y="174.18" font-size="3.4" fill="#111">SLC2A6</text>
<rect x="420.1" y="174.33" width="3.31" height="3.34" fill="#f8a0a8" stroke="#666" stroke-width="0.3"/>
<rect x="423.41" y="174.33" width="3.31" height="3.34" fill="#f8a0a8" stroke="#666" stroke-width="0.3"/>
<rect x="426.72" y="174.33" width="3.31" height="3.34" fill="#f00000" stroke="#666" stroke-width="0.3"/>
<rect x="430.03" y="174.33" width="3.31" height="3.34" fill="#f8a0a8" stroke="#666" stroke-width="0.3"/>
<rect x="433.34" y="174.33" width="3.31" height="3.34" fill="#f4f4ff" stroke="#666" stroke-width="0.3"/>
<rect x="436.65" y="174.33" width="3.31" height="3.34" fill="#f45050" stroke="#666" stroke-width="0.3"/>
<rect x="439.95" y="174.33" width="3.31" height="3.34" fill="#f45050" stroke="#666" stroke-width="0.3"/>
<rect x="443.26" y="174.33" width="3.31" height="3.34" fill="#f8a0a8" stroke="#666" stroke-width="0.3"/>
<rect x="446.57" y="174.33" width="3.31" height="3.34" fill="#a8a8ff" stroke="#666" stroke-width="0.3"/>
<rect x="449.88" y="174.33" width="3.31" height="3.34" fill="#0000e0" stroke="#666" stroke-width="0.3"/>
<rect x="453.19" y="174.33" width="3.31" height="3.34" fill="#a8a8ff" stroke="#666" stroke-width="0.3"/>
<rect x="456.5" y="174.33" width="3.31" height="3.34" fill="#f4f4ff" stroke="#666" stroke-width="0.3"/>
<rect x="459.81" y="174.33" width="3.31" height="3.34" fill="#3000a8" stroke="#666" stroke-width="0.3"/>
<rect x="463.12" y="174.33" width="3.31" height="3.34" fill="#5858f0" stroke="#666" stroke-width="0.3"/>
<rect x="466.43" y="174.33" width="3.31" height="3.34" fill="#a8a8ff" stroke="#666" stroke-width="0.3"/>
<rect x="469.74" y="174.33" width="3.31" height="3.34" fill="#f4f4ff" stroke="#666" stroke-width="0.3"/>
<rect x="473.05" y="174.33" width="3.31" height="3.34" fill="#f4f4ff" stroke="#666" stroke-width="0.3"/>
<rect x="476.35" y="174.33" width="3.31" height="3.34" fill="#a8a8ff" stroke="#666" stroke-width="0.3"/>
<rect x="479.66" y="174.33" width="3.31" height="3.34" fill="#5858f0" stroke="#666" stroke-width="0.3"/>
<rect x="482.97" y="174.33" width="3.31" height="3.34" fill="#f4d8ec" stroke="#666" stroke-width="0.3"/>
<rect x="486.28" y="174.33" width="3.31" height="3.34" fill="#5858f0" stroke="#666" stroke-width="0.3"/>
<rect x="489.59" y="174.33" width="3.31" height="3.34" fill="#a8a8ff" stroke="#666" stroke-width="0.3"/>
<line x1="494" y1="177.68" x2="520" y2="177.68" stroke="#999" stroke-width="0.5"/>
<text x="495" y="177.53" font-size="3.4" fill="#111">CCL20</text>
<rect x="420.1" y="177.68" width="3.31" height="3.34" fill="#f8a0a8" stroke="#666" stroke-width="0.3"/>
<rect x="423.41" y="177.68" width="3.31" height="3.34" fill="#5858f0" stroke="#666" stroke-width="0.3"/>
<rect x="426.72" y="177.68" width="3.31" height="3.34" fill="#f8a0a8" stroke="#666" stroke-width="0.3"/>
<rect x="430.03" y="177.68" width="3.31" height="3.34" fill="#f4d8ec" stroke="#666" stroke-width="0.3"/>
<rect x="433.34" y="177.68" width="3.31" height="3.34" fill="#f45050" stroke="#666" stroke-width="0.3"/>
<rect x="436.65" y="177.68" width="3.31" height="3.34" fill="#f00000" stroke="#666" stroke-width="0.3"/>
<rect x="439.95" y="177.68" width="3.31" height="3.34" fill="#f00000" stroke="#666" stroke-width="0.3"/>
<rect x="443.26" y="177.68" width="3.31" height="3.34" fill="#f00000" stroke="#666" stroke-width="0.3"/>
<rect x="446.57" y="177.68" width="3.31" height="3.34" fill="#0000e0" stroke="#666" stroke-width="0.3"/>
<rect x="449.88" y="177.68" width="3.31" height="3.34" fill="#5858f0" stroke="#666" stroke-width="0.3"/>
<rect x="453.19" y="177.68" width="3.31" height="3.34" fill="#f4d8ec" stroke="#666" stroke-width="0.3"/>
<rect x="456.5" y="177.68" width="3.31" height="3.34" fill="#5858f0" stroke="#666" stroke-width="0.3"/>
<rect x="459.81" y="177.68" width="3.31" height="3.34" fill="#a8a8ff" stroke="#666" stroke-width="0.3"/>
<rect x="463.12" y="177.68" width="3.31" height="3.34" fill="#0000e0" stroke="#666" stroke-width="0.3"/>
<rect x="466.43" y="177.68" width="3.31" height="3.34" fill="#a8a8ff" stroke="#666" stroke-width="0.3"/>
<rect x="469.74" y="177.68" width="3.31" height="3.34" fill="#a8a8ff" stroke="#666" stroke-width="0.3"/>
<rect x="473.05" y="177.68" width="3.31" height="3.34" fill="#0000e0" stroke="#666" stroke-width="0.3"/>
<rect x="476.35" y="177.68" width="3.31" height="3.34" fill="#3000a8" stroke="#666" stroke-width="0.3"/>
<rect x="479.66" y="177.68" width="3.31" height="3.34" fill="#0000e0" stroke="#666" stroke-width="0.3"/>
<rect x="482.97" y="177.68" width="3.31" height="3.34" fill="#f4f4ff" stroke="#666" stroke-width="0.3"/>
<rect x="486.28" y="177.68" width="3.31" height="3.34" fill="#3000a8" stroke="#666" stroke-width="0.3"/>
<rect x="489.59" y="177.68" width="3.31" height="3.34" fill="#a8a8ff" stroke="#666" stroke-width="0.3"/>
<line x1="494" y1="181.02" x2="520" y2="181.02" stroke="#999" stroke-width="0.5"/>
<text x="495" y="180.87" font-size="3.4" fill="#111">IRAK2</text>
<rect x="420.1" y="181.02" width="3.31" height="3.34" fill="#f00000" stroke="#666" stroke-width="0.3"/>
<rect x="423.41" y="181.02" width="3.31" height="3.34" fill="#a8a8ff" stroke="#666" stroke-width="0.3"/>
<rect x="426.72" y="181.02" width="3.31" height="3.34" fill="#f8a0a8" stroke="#666" stroke-width="0.3"/>
<rect x="430.03" y="181.02" width="3.31" height="3.34" fill="#f4d8ec" stroke="#666" stroke-width="0.3"/>
<rect x="433.34" y="181.02" width="3.31" height="3.34" fill="#f8a0a8" stroke="#666" stroke-width="0.3"/>
<rect x="436.65" y="181.02" width="3.31" height="3.34" fill="#f00000" stroke="#666" stroke-width="0.3"/>
<rect x="439.95" y="181.02" width="3.31" height="3.34" fill="#f8a0a8" stroke="#666" stroke-width="0.3"/>
<rect x="443.26" y="181.02" width="3.31" height="3.34" fill="#f00000" stroke="#666" stroke-width="0.3"/>
<rect x="446.57" y="181.02" width="3.31" height="3.34" fill="#5858f0" stroke="#666" stroke-width="0.3"/>
<rect x="449.88" y="181.02" width="3.31" height="3.34" fill="#5858f0" stroke="#666" stroke-width="0.3"/>
<rect x="453.19" y="181.02" width="3.31" height="3.34" fill="#a8a8ff" stroke="#666" stroke-width="0.3"/>
<rect x="456.5" y="181.02" width="3.31" height="3.34" fill="#a8a8ff" stroke="#666" stroke-width="0.3"/>
<rect x="459.81" y="181.02" width="3.31" height="3.34" fill="#3000a8" stroke="#666" stroke-width="0.3"/>
<rect x="463.12" y="181.02" width="3.31" height="3.34" fill="#5858f0" stroke="#666" stroke-width="0.3"/>
<rect x="466.43" y="181.02" width="3.31" height="3.34" fill="#0000e0" stroke="#666" stroke-width="0.3"/>
<rect x="469.74" y="181.02" width="3.31" height="3.34" fill="#f4d8ec" stroke="#666" stroke-width="0.3"/>
<rect x="473.05" y="181.02" width="3.31" height="3.34" fill="#3000a8" stroke="#666" stroke-width="0.3"/>
<rect x="476.35" y="181.02" width="3.31" height="3.34" fill="#a8a8ff" stroke="#666" stroke-width="0.3"/>
<rect x="479.66" y="181.02" width="3.31" height="3.34" fill="#5858f0" stroke="#666" stroke-width="0.3"/>
<rect x="482.97" y="181.02" width="3.31" height="3.34" fill="#f4f4ff" stroke="#666" stroke-width="0.3"/>
<rect x="486.28" y="181.02" width="3.31" height="3.34" fill="#5858f0" stroke="#666" stroke-width="0.3"/>
<rect x="489.59" y="181.02" width="3.31" height="3.34" fill="#f4f4ff" stroke="#666" stroke-width="0.3"/>
<line x1="494" y1="184.37" x2="520" y2="184.37" stroke="#999" stroke-width="0.5"/>
<text x="495" y="184.22" font-size="3.4" fill="#111">CD83</text>
<rect x="420.1" y="184.37" width="3.31" height="3.34" fill="#f8a0a8" stroke="#666" stroke-width="0.3"/>
<rect x="423.41" y="184.37" width="3.31" height="3.34" fill="#f4d8ec" stroke="#666" stroke-width="0.3"/>
<rect x="426.72" y="184.37" width="3.31" height="3.34" fill="#f00000" stroke="#666" stroke-width="0.3"/>
<rect x="430.03" y="184.37" width="3.31" height="3.34" fill="#f4d8ec" stroke="#666" stroke-width="0.3"/>
<rect x="433.34" y="184.37" width="3.31" height="3.34" fill="#f45050" stroke="#666" stroke-width="0.3"/>
<rect x="436.65" y="184.37" width="3.31" height="3.34" fill="#f00000" stroke="#666" stroke-width="0.3"/>
<rect x="439.95" y="184.37" width="3.31" height="3.34" fill="#f8a0a8" stroke="#666" stroke-width="0.3"/>
<rect x="443.26" y="184.37" width="3.31" height="3.34" fill="#f8a0a8" stroke="#666" stroke-width="0.3"/>
<rect x="446.57" y="184.37" width="3.31" height="3.34" fill="#0000e0" stroke="#666" stroke-width="0.3"/>
<rect x="449.88" y="184.37" width="3.31" height="3.34" fill="#5858f0" stroke="#666" stroke-width="0.3"/>
<rect x="453.19" y="184.37" width="3.31" height="3.34" fill="#5858f0" stroke="#666" stroke-width="0.3"/>
<rect x="456.5" y="184.37" width="3.31" height="3.34" fill="#3000a8" stroke="#666" stroke-width="0.3"/>
<rect x="459.81" y="184.37" width="3.31" height="3.34" fill="#f4f4ff" stroke="#666" stroke-width="0.3"/>
<rect x="463.12" y="184.37" width="3.31" height="3.34" fill="#5858f0" stroke="#666" stroke-width="0.3"/>
<rect x="466.43" y="184.37" width="3.31" height="3.34" fill="#f4d8ec" stroke="#666" stroke-width="0.3"/>
<rect x="469.74" y="184.37" width="3.31" height="3.34" fill="#a8a8ff" stroke="#666" stroke-width="0.3"/>
<rect x="473.05" y="184.37" width="3.31" height="3.34" fill="#5858f0" stroke="#666" stroke-width="0.3"/>
<rect x="476.35" y="184.37" width="3.31" height="3.34" fill="#a8a8ff" stroke="#666" stroke-width="0.3"/>
<rect x="479.66" y="184.37" width="3.31" height="3.34" fill="#f4f4ff" stroke="#666" stroke-width="0.3"/>
<rect x="482.97" y="184.37" width="3.31" height="3.34" fill="#f45050" stroke="#666" stroke-width="0.3"/>
<rect x="486.28" y="184.37" width="3.31" height="3.34" fill="#3000a8" stroke="#666" stroke-width="0.3"/>
<rect x="489.59" y="184.37" width="3.31" height="3.34" fill="#a8a8ff" stroke="#666" stroke-width="0.3"/>
<line x1="494" y1="187.71" x2="520" y2="187.71" stroke="#999" stroke-width="0.5"/>
<text x="495" y="187.56" font-size="3.4" fill="#111">PTGS2</text>
<rect x="420.1" y="187.71" width="3.31" height="3.34" fill="#a8a8ff" stroke="#666" stroke-width="0.3"/>
<rect x="423.41" y="187.71" width="3.31" height="3.34" fill="#f00000" stroke="#666" stroke-width="0.3"/>
<rect x="426.72" y="187.71" width="3.31" height="3.34" fill="#f8a0a8" stroke="#666" stroke-width="0.3"/>
<rect x="430.03" y="187.71" width="3.31" height="3.34" fill="#f00000" stroke="#666" stroke-width="0.3"/>
<rect x="433.34" y="187.71" width="3.31" height="3.34" fill="#5858f0" stroke="#666" stroke-width="0.3"/>
<rect x="436.65" y="187.71" width="3.31" height="3.34" fill="#f45050" stroke="#666" stroke-width="0.3"/>
<rect x="439.95" y="187.71" width="3.31" height="3.34" fill="#f45050" stroke="#666" stroke-width="0.3"/>
<rect x="443.26" y="187.71" width="3.31" height="3.34" fill="#f4d8ec" stroke="#666" stroke-width="0.3"/>
<rect x="446.57" y="187.71" width="3.31" height="3.34" fill="#3000a8" stroke="#666" stroke-width="0.3"/>
<rect x="449.88" y="187.71" width="3.31" height="3.34" fill="#0000e0" stroke="#666" stroke-width="0.3"/>
<rect x="453.19" y="187.71" width="3.31" height="3.34" fill="#f4d8ec" stroke="#666" stroke-width="0.3"/>
<rect x="456.5" y="187.71" width="3.31" height="3.34" fill="#3000a8" stroke="#666" stroke-width="0.3"/>
<rect x="459.81" y="187.71" width="3.31" height="3.34" fill="#a8a8ff" stroke="#666" stroke-width="0.3"/>
<rect x="463.12" y="187.71" width="3.31" height="3.34" fill="#3000a8" stroke="#666" stroke-width="0.3"/>
<rect x="466.43" y="187.71" width="3.31" height="3.34" fill="#0000e0" stroke="#666" stroke-width="0.3"/>
<rect x="469.74" y="187.71" width="3.31" height="3.34" fill="#f45050" stroke="#666" stroke-width="0.3"/>
<rect x="473.05" y="187.71" width="3.31" height="3.34" fill="#3000a8" stroke="#666" stroke-width="0.3"/>
<rect x="476.35" y="187.71" width="3.31" height="3.34" fill="#3000a8" stroke="#666" stroke-width="0.3"/>
<rect x="479.66" y="187.71" width="3.31" height="3.34" fill="#a8a8ff" stroke="#666" stroke-width="0.3"/>
<rect x="482.97" y="187.71" width="3.31" height="3.34" fill="#5858f0" stroke="#666" stroke-width="0.3"/>
<rect x="486.28" y="187.71" width="3.31" height="3.34" fill="#0000e0" stroke="#666" stroke-width="0.3"/>
<rect x="489.59" y="187.71" width="3.31" height="3.34" fill="#a8a8ff" stroke="#666" stroke-width="0.3"/>
<line x1="494" y1="191.06" x2="520" y2="191.06" stroke="#999" stroke-width="0.5"/>
<text x="495" y="190.91" font-size="3.4" fill="#111">TNIP1</text>
<rect x="420.1" y="191.06" width="3.31" height="3.34" fill="#f4d8ec" stroke="#666" stroke-width="0.3"/>
<rect x="423.41" y="191.06" width="3.31" height="3.34" fill="#f4f4ff" stroke="#666" stroke-width="0.3"/>
<rect x="426.72" y="191.06" width="3.31" height="3.34" fill="#f45050" stroke="#666" stroke-width="0.3"/>
<rect x="430.03" y="191.06" width="3.31" height="3.34" fill="#f8a0a8" stroke="#666" stroke-width="0.3"/>
<rect x="433.34" y="191.06" width="3.31" height="3.34" fill="#f4d8ec" stroke="#666" stroke-width="0.3"/>
<rect x="436.65" y="191.06" width="3.31" height="3.34" fill="#f8a0a8" stroke="#666" stroke-width="0.3"/>
<rect x="439.95" y="191.06" width="3.31" height="3.34" fill="#f00000" stroke="#666" stroke-width="0.3"/>
<rect x="443.26" y="191.06" width="3.31" height="3.34" fill="#f4d8ec" stroke="#666" stroke-width="0.3"/>
<rect x="446.57" y="191.06" width="3.31" height="3.34" fill="#3000a8" stroke="#666" stroke-width="0.3"/>
<rect x="449.88" y="191.06" width="3.31" height="3.34" fill="#3000a8" stroke="#666" stroke-width="0.3"/>
<rect x="453.19" y="191.06" width="3.31" height="3.34" fill="#3000a8" stroke="#666" stroke-width="0.3"/>
<rect x="456.5" y="191.06" width="3.31" height="3.34" fill="#3000a8" stroke="#666" stroke-width="0.3"/>
<rect x="459.81" y="191.06" width="3.31" height="3.34" fill="#f4f4ff" stroke="#666" stroke-width="0.3"/>
<rect x="463.12" y="191.06" width="3.31" height="3.34" fill="#a8a8ff" stroke="#666" stroke-width="0.3"/>
<rect x="466.43" y="191.06" width="3.31" height="3.34" fill="#a8a8ff" stroke="#666" stroke-width="0.3"/>
<rect x="469.74" y="191.06" width="3.31" height="3.34" fill="#f4f4ff" stroke="#666" stroke-width="0.3"/>
<rect x="473.05" y="191.06" width="3.31" height="3.34" fill="#3000a8" stroke="#666" stroke-width="0.3"/>
<rect x="476.35" y="191.06" width="3.31" height="3.34" fill="#5858f0" stroke="#666" stroke-width="0.3"/>
<rect x="479.66" y="191.06" width="3.31" height="3.34" fill="#5858f0" stroke="#666" stroke-width="0.3"/>
<rect x="482.97" y="191.06" width="3.31" height="3.34" fill="#5858f0" stroke="#666" stroke-width="0.3"/>
<rect x="486.28" y="191.06" width="3.31" height="3.34" fill="#5858f0" stroke="#666" stroke-width="0.3"/>
<rect x="489.59" y="191.06" width="3.31" height="3.34" fill="#3000a8" stroke="#666" stroke-width="0.3"/>
<line x1="494" y1="194.4" x2="520" y2="194.4" stroke="#999" stroke-width="0.5"/>
<text x="495" y="194.25" font-size="3.4" fill="#111">RELB</text>
<rect x="420.1" y="194.4" width="3.31" height="3.34" fill="#f4d8ec" stroke="#666" stroke-width="0.3"/>
<rect x="423.41" y="194.4" width="3.31" height="3.34" fill="#0000e0" stroke="#666" stroke-width="0.3"/>
<rect x="426.72" y="194.4" width="3.31" height="3.34" fill="#f45050" stroke="#666" stroke-width="0.3"/>
<rect x="430.03" y="194.4" width="3.31" height="3.34" fill="#f45050" stroke="#666" stroke-width="0.3"/>
<rect x="433.34" y="194.4" width="3.31" height="3.34" fill="#f4f4ff" stroke="#666" stroke-width="0.3"/>
<rect x="436.65" y="194.4" width="3.31" height="3.34" fill="#f00000" stroke="#666" stroke-width="0.3"/>
<rect x="439.95" y="194.4" width="3.31" height="3.34" fill="#f8a0a8" stroke="#666" stroke-width="0.3"/>
<rect x="443.26" y="194.4" width="3.31" height="3.34" fill="#f45050" stroke="#666" stroke-width="0.3"/>
<rect x="446.57" y="194.4" width="3.31" height="3.34" fill="#3000a8" stroke="#666" stroke-width="0.3"/>
<rect x="449.88" y="194.4" width="3.31" height="3.34" fill="#3000a8" stroke="#666" stroke-width="0.3"/>
<rect x="453.19" y="194.4" width="3.31" height="3.34" fill="#3000a8" stroke="#666" stroke-width="0.3"/>
<rect x="456.5" y="194.4" width="3.31" height="3.34" fill="#3000a8" stroke="#666" stroke-width="0.3"/>
<rect x="459.81" y="194.4" width="3.31" height="3.34" fill="#5858f0" stroke="#666" stroke-width="0.3"/>
<rect x="463.12" y="194.4" width="3.31" height="3.34" fill="#0000e0" stroke="#666" stroke-width="0.3"/>
<rect x="466.43" y="194.4" width="3.31" height="3.34" fill="#0000e0" stroke="#666" stroke-width="0.3"/>
<rect x="469.74" y="194.4" width="3.31" height="3.34" fill="#a8a8ff" stroke="#666" stroke-width="0.3"/>
<rect x="473.05" y="194.4" width="3.31" height="3.34" fill="#3000a8" stroke="#666" stroke-width="0.3"/>
<rect x="476.35" y="194.4" width="3.31" height="3.34" fill="#0000e0" stroke="#666" stroke-width="0.3"/>
<rect x="479.66" y="194.4" width="3.31" height="3.34" fill="#5858f0" stroke="#666" stroke-width="0.3"/>
<rect x="482.97" y="194.4" width="3.31" height="3.34" fill="#a8a8ff" stroke="#666" stroke-width="0.3"/>
<rect x="486.28" y="194.4" width="3.31" height="3.34" fill="#5858f0" stroke="#666" stroke-width="0.3"/>
<rect x="489.59" y="194.4" width="3.31" height="3.34" fill="#0000e0" stroke="#666" stroke-width="0.3"/>
<line x1="494" y1="197.74" x2="520" y2="197.74" stroke="#999" stroke-width="0.5"/>
<text x="495" y="197.59" font-size="3.4" fill="#111">MAP3K8</text>
<rect x="420.1" y="197.74" width="3.31" height="3.34" fill="#f45050" stroke="#666" stroke-width="0.3"/>
<rect x="423.41" y="197.74" width="3.31" height="3.34" fill="#f4f4ff" stroke="#666" stroke-width="0.3"/>
<rect x="426.72" y="197.74" width="3.31" height="3.34" fill="#f45050" stroke="#666" stroke-width="0.3"/>
<rect x="430.03" y="197.74" width="3.31" height="3.34" fill="#f8a0a8" stroke="#666" stroke-width="0.3"/>
<rect x="433.34" y="197.74" width="3.31" height="3.34" fill="#f8a0a8" stroke="#666" stroke-width="0.3"/>
<rect x="436.65" y="197.74" width="3.31" height="3.34" fill="#f8a0a8" stroke="#666" stroke-width="0.3"/>
<rect x="439.95" y="197.74" width="3.31" height="3.34" fill="#f00000" stroke="#666" stroke-width="0.3"/>
<rect x="443.26" y="197.74" width="3.31" height="3.34" fill="#f4d8ec" stroke="#666" stroke-width="0.3"/>
<rect x="446.57" y="197.74" width="3.31" height="3.34" fill="#5858f0" stroke="#666" stroke-width="0.3"/>
<rect x="449.88" y="197.74" width="3.31" height="3.34" fill="#a8a8ff" stroke="#666" stroke-width="0.3"/>
<rect x="453.19" y="197.74" width="3.31" height="3.34" fill="#f4f4ff" stroke="#666" stroke-width="0.3"/>
<rect x="456.5" y="197.74" width="3.31" height="3.34" fill="#0000e0" stroke="#666" stroke-width="0.3"/>
<rect x="459.81" y="197.74" width="3.31" height="3.34" fill="#3000a8" stroke="#666" stroke-width="0.3"/>
<rect x="463.12" y="197.74" width="3.31" height="3.34" fill="#3000a8" stroke="#666" stroke-width="0.3"/>
<rect x="466.43" y="197.74" width="3.31" height="3.34" fill="#3000a8" stroke="#666" stroke-width="0.3"/>
<rect x="469.74" y="197.74" width="3.31" height="3.34" fill="#f4f4ff" stroke="#666" stroke-width="0.3"/>
<rect x="473.05" y="197.74" width="3.31" height="3.34" fill="#3000a8" stroke="#666" stroke-width="0.3"/>
<rect x="476.35" y="197.74" width="3.31" height="3.34" fill="#5858f0" stroke="#666" stroke-width="0.3"/>
<rect x="479.66" y="197.74" width="3.31" height="3.34" fill="#f4d8ec" stroke="#666" stroke-width="0.3"/>
<rect x="482.97" y="197.74" width="3.31" height="3.34" fill="#f4f4ff" stroke="#666" stroke-width="0.3"/>
<rect x="486.28" y="197.74" width="3.31" height="3.34" fill="#f4f4ff" stroke="#666" stroke-width="0.3"/>
<rect x="489.59" y="197.74" width="3.31" height="3.34" fill="#5858f0" stroke="#666" stroke-width="0.3"/>
<line x1="494" y1="201.09" x2="520" y2="201.09" stroke="#999" stroke-width="0.5"/>
<text x="495" y="200.94" font-size="3.4" fill="#111">CXCL2</text>
<rect x="420.1" y="201.09" width="3.31" height="3.34" fill="#a8a8ff" stroke="#666" stroke-width="0.3"/>
<rect x="423.41" y="201.09" width="3.31" height="3.34" fill="#f4d8ec" stroke="#666" stroke-width="0.3"/>
<rect x="426.72" y="201.09" width="3.31" height="3.34" fill="#f4d8ec" stroke="#666" stroke-width="0.3"/>
<rect x="430.03" y="201.09" width="3.31" height="3.34" fill="#f8a0a8" stroke="#666" stroke-width="0.3"/>
<rect x="433.34" y="201.09" width="3.31" height="3.34" fill="#f4d8ec" stroke="#666" stroke-width="0.3"/>
<rect x="436.65" y="201.09" width="3.31" height="3.34" fill="#f45050" stroke="#666" stroke-width="0.3"/>
<rect x="439.95" y="201.09" width="3.31" height="3.34" fill="#f8a0a8" stroke="#666" stroke-width="0.3"/>
<rect x="443.26" y="201.09" width="3.31" height="3.34" fill="#f00000" stroke="#666" stroke-width="0.3"/>
<rect x="446.57" y="201.09" width="3.31" height="3.34" fill="#3000a8" stroke="#666" stroke-width="0.3"/>
<rect x="449.88" y="201.09" width="3.31" height="3.34" fill="#5858f0" stroke="#666" stroke-width="0.3"/>
<rect x="453.19" y="201.09" width="3.31" height="3.34" fill="#3000a8" stroke="#666" stroke-width="0.3"/>
<rect x="456.5" y="201.09" width="3.31" height="3.34" fill="#3000a8" stroke="#666" stroke-width="0.3"/>
<rect x="459.81" y="201.09" width="3.31" height="3.34" fill="#a8a8ff" stroke="#666" stroke-width="0.3"/>
<rect x="463.12" y="201.09" width="3.31" height="3.34" fill="#f4f4ff" stroke="#666" stroke-width="0.3"/>
<rect x="466.43" y="201.09" width="3.31" height="3.34" fill="#a8a8ff" stroke="#666" stroke-width="0.3"/>
<rect x="469.74" y="201.09" width="3.31" height="3.34" fill="#3000a8" stroke="#666" stroke-width="0.3"/>
<rect x="473.05" y="201.09" width="3.31" height="3.34" fill="#0000e0" stroke="#666" stroke-width="0.3"/>
<rect x="476.35" y="201.09" width="3.31" height="3.34" fill="#f4f4ff" stroke="#666" stroke-width="0.3"/>
<rect x="479.66" y="201.09" width="3.31" height="3.34" fill="#5858f0" stroke="#666" stroke-width="0.3"/>
<rect x="482.97" y="201.09" width="3.31" height="3.34" fill="#3000a8" stroke="#666" stroke-width="0.3"/>
<rect x="486.28" y="201.09" width="3.31" height="3.34" fill="#5858f0" stroke="#666" stroke-width="0.3"/>
<rect x="489.59" y="201.09" width="3.31" height="3.34" fill="#f4d8ec" stroke="#666" stroke-width="0.3"/>
<line x1="494" y1="204.43" x2="520" y2="204.43" stroke="#999" stroke-width="0.5"/>
<text x="495" y="204.28" font-size="3.4" fill="#111">ICAM1</text>
<rect x="420.1" y="204.43" width="3.31" height="3.34" fill="#f45050" stroke="#666" stroke-width="0.3"/>
<rect x="423.41" y="204.43" width="3.31" height="3.34" fill="#3000a8" stroke="#666" stroke-width="0.3"/>
<rect x="426.72" y="204.43" width="3.31" height="3.34" fill="#f8a0a8" stroke="#666" stroke-width="0.3"/>
<rect x="430.03" y="204.43" width="3.31" height="3.34" fill="#f8a0a8" stroke="#666" stroke-width="0.3"/>
<rect x="433.34" y="204.43" width="3.31" height="3.34" fill="#f00000" stroke="#666" stroke-width="0.3"/>
<rect x="436.65" y="204.43" width="3.31" height="3.34" fill="#f8a0a8" stroke="#666" stroke-width="0.3"/>
<rect x="439.95" y="204.43" width="3.31" height="3.34" fill="#f45050" stroke="#666" stroke-width="0.3"/>
<rect x="443.26" y="204.43" width="3.31" height="3.34" fill="#f00000" stroke="#666" stroke-width="0.3"/>
<rect x="446.57" y="204.43" width="3.31" height="3.34" fill="#a8a8ff" stroke="#666" stroke-width="0.3"/>
<rect x="449.88" y="204.43" width="3.31" height="3.34" fill="#0000e0" stroke="#666" stroke-width="0.3"/>
<rect x="453.19" y="204.43" width="3.31" height="3.34" fill="#a8a8ff" stroke="#666" stroke-width="0.3"/>
<rect x="456.5" y="204.43" width="3.31" height="3.34" fill="#a8a8ff" stroke="#666" stroke-width="0.3"/>
<rect x="459.81" y="204.43" width="3.31" height="3.34" fill="#f4d8ec" stroke="#666" stroke-width="0.3"/>
<rect x="463.12" y="204.43" width="3.31" height="3.34" fill="#5858f0" stroke="#666" stroke-width="0.3"/>
<rect x="466.43" y="204.43" width="3.31" height="3.34" fill="#a8a8ff" stroke="#666" stroke-width="0.3"/>
<rect x="469.74" y="204.43" width="3.31" height="3.34" fill="#3000a8" stroke="#666" stroke-width="0.3"/>
<rect x="473.05" y="204.43" width="3.31" height="3.34" fill="#3000a8" stroke="#666" stroke-width="0.3"/>
<rect x="476.35" y="204.43" width="3.31" height="3.34" fill="#3000a8" stroke="#666" stroke-width="0.3"/>
<rect x="479.66" y="204.43" width="3.31" height="3.34" fill="#f45050" stroke="#666" stroke-width="0.3"/>
<rect x="482.97" y="204.43" width="3.31" height="3.34" fill="#0000e0" stroke="#666" stroke-width="0.3"/>
<rect x="486.28" y="204.43" width="3.31" height="3.34" fill="#3000a8" stroke="#666" stroke-width="0.3"/>
<rect x="489.59" y="204.43" width="3.31" height="3.34" fill="#f4d8ec" stroke="#666" stroke-width="0.3"/>
<line x1="494" y1="207.78" x2="520" y2="207.78" stroke="#999" stroke-width="0.5"/>
<text x="495" y="207.63" font-size="3.4" fill="#111">IL1B</text>
<rect x="420.1" y="207.78" width="3.31" height="3.34" fill="#5858f0" stroke="#666" stroke-width="0.3"/>
<rect x="423.41" y="207.78" width="3.31" height="3.34" fill="#f45050" stroke="#666" stroke-width="0.3"/>
<rect x="426.72" y="207.78" width="3.31" height="3.34" fill="#f45050" stroke="#666" stroke-width="0.3"/>
<rect x="430.03" y="207.78" width="3.31" height="3.34" fill="#f45050" stroke="#666" stroke-width="0.3"/>
<rect x="433.34" y="207.78" width="3.31" height="3.34" fill="#f8a0a8" stroke="#666" stroke-width="0.3"/>
<rect x="436.65" y="207.78" width="3.31" height="3.34" fill="#f00000" stroke="#666" stroke-width="0.3"/>
<rect x="439.95" y="207.78" width="3.31" height="3.34" fill="#f4d8ec" stroke="#666" stroke-width="0.3"/>
<rect x="443.26" y="207.78" width="3.31" height="3.34" fill="#f00000" stroke="#666" stroke-width="0.3"/>
<rect x="446.57" y="207.78" width="3.31" height="3.34" fill="#3000a8" stroke="#666" stroke-width="0.3"/>
<rect x="449.88" y="207.78" width="3.31" height="3.34" fill="#f4f4ff" stroke="#666" stroke-width="0.3"/>
<rect x="453.19" y="207.78" width="3.31" height="3.34" fill="#a8a8ff" stroke="#666" stroke-width="0.3"/>
<rect x="456.5" y="207.78" width="3.31" height="3.34" fill="#0000e0" stroke="#666" stroke-width="0.3"/>
<rect x="459.81" y="207.78" width="3.31" height="3.34" fill="#f4f4ff" stroke="#666" stroke-width="0.3"/>
<rect x="463.12" y="207.78" width="3.31" height="3.34" fill="#f45050" stroke="#666" stroke-width="0.3"/>
<rect x="466.43" y="207.78" width="3.31" height="3.34" fill="#a8a8ff" stroke="#666" stroke-width="0.3"/>
<rect x="469.74" y="207.78" width="3.31" height="3.34" fill="#f4f4ff" stroke="#666" stroke-width="0.3"/>
<rect x="473.05" y="207.78" width="3.31" height="3.34" fill="#3000a8" stroke="#666" stroke-width="0.3"/>
<rect x="476.35" y="207.78" width="3.31" height="3.34" fill="#f4f4ff" stroke="#666" stroke-width="0.3"/>
<rect x="479.66" y="207.78" width="3.31" height="3.34" fill="#f4d8ec" stroke="#666" stroke-width="0.3"/>
<rect x="482.97" y="207.78" width="3.31" height="3.34" fill="#f4f4ff" stroke="#666" stroke-width="0.3"/>
<rect x="486.28" y="207.78" width="3.31" height="3.34" fill="#0000e0" stroke="#666" stroke-width="0.3"/>
<rect x="489.59" y="207.78" width="3.31" height="3.34" fill="#f4d8ec" stroke="#666" stroke-width="0.3"/>
<line x1="494" y1="211.12" x2="520" y2="211.12" stroke="#999" stroke-width="0.5"/>
<text x="495" y="210.97" font-size="3.4" fill="#111">NFKBIA</text>
<rect x="420.1" y="211.12" width="3.31" height="3.34" fill="#f8a0a8" stroke="#666" stroke-width="0.3"/>
<rect x="423.41" y="211.12" width="3.31" height="3.34" fill="#f00000" stroke="#666" stroke-width="0.3"/>
<rect x="426.72" y="211.12" width="3.31" height="3.34" fill="#f4d8ec" stroke="#666" stroke-width="0.3"/>
<rect x="430.03" y="211.12" width="3.31" height="3.34" fill="#f4d8ec" stroke="#666" stroke-width="0.3"/>
<rect x="433.34" y="211.12" width="3.31" height="3.34" fill="#f4d8ec" stroke="#666" stroke-width="0.3"/>
<rect x="436.65" y="211.12" width="3.31" height="3.34" fill="#f8a0a8" stroke="#666" stroke-width="0.3"/>
<rect x="439.95" y="211.12" width="3.31" height="3.34" fill="#f00000" stroke="#666" stroke-width="0.3"/>
<rect x="443.26" y="211.12" width="3.31" height="3.34" fill="#f45050" stroke="#666" stroke-width="0.3"/>
<rect x="446.57" y="211.12" width="3.31" height="3.34" fill="#3000a8" stroke="#666" stroke-width="0.3"/>
<rect x="449.88" y="211.12" width="3.31" height="3.34" fill="#f4f4ff" stroke="#666" stroke-width="0.3"/>
<rect x="453.19" y="211.12" width="3.31" height="3.34" fill="#f45050" stroke="#666" stroke-width="0.3"/>
<rect x="456.5" y="211.12" width="3.31" height="3.34" fill="#5858f0" stroke="#666" stroke-width="0.3"/>
<rect x="459.81" y="211.12" width="3.31" height="3.34" fill="#0000e0" stroke="#666" stroke-width="0.3"/>
<rect x="463.12" y="211.12" width="3.31" height="3.34" fill="#f45050" stroke="#666" stroke-width="0.3"/>
<rect x="466.43" y="211.12" width="3.31" height="3.34" fill="#f4d8ec" stroke="#666" stroke-width="0.3"/>
<rect x="469.74" y="211.12" width="3.31" height="3.34" fill="#0000e0" stroke="#666" stroke-width="0.3"/>
<rect x="473.05" y="211.12" width="3.31" height="3.34" fill="#5858f0" stroke="#666" stroke-width="0.3"/>
<rect x="476.35" y="211.12" width="3.31" height="3.34" fill="#f45050" stroke="#666" stroke-width="0.3"/>
<rect x="479.66" y="211.12" width="3.31" height="3.34" fill="#0000e0" stroke="#666" stroke-width="0.3"/>
<rect x="482.97" y="211.12" width="3.31" height="3.34" fill="#3000a8" stroke="#666" stroke-width="0.3"/>
<rect x="486.28" y="211.12" width="3.31" height="3.34" fill="#3000a8" stroke="#666" stroke-width="0.3"/>
<rect x="489.59" y="211.12" width="3.31" height="3.34" fill="#5858f0" stroke="#666" stroke-width="0.3"/>
<line x1="494" y1="214.47" x2="520" y2="214.47" stroke="#999" stroke-width="0.5"/>
<text x="495" y="214.32" font-size="3.4" fill="#111">TNF</text>
<rect x="420.1" y="214.47" width="3.31" height="3.34" fill="#f8a0a8" stroke="#666" stroke-width="0.3"/>
<rect x="423.41" y="214.47" width="3.31" height="3.34" fill="#f4d8ec" stroke="#666" stroke-width="0.3"/>
<rect x="426.72" y="214.47" width="3.31" height="3.34" fill="#f8a0a8" stroke="#666" stroke-width="0.3"/>
<rect x="430.03" y="214.47" width="3.31" height="3.34" fill="#f8a0a8" stroke="#666" stroke-width="0.3"/>
<rect x="433.34" y="214.47" width="3.31" height="3.34" fill="#f4d8ec" stroke="#666" stroke-width="0.3"/>
<rect x="436.65" y="214.47" width="3.31" height="3.34" fill="#f00000" stroke="#666" stroke-width="0.3"/>
<rect x="439.95" y="214.47" width="3.31" height="3.34" fill="#f4d8ec" stroke="#666" stroke-width="0.3"/>
<rect x="443.26" y="214.47" width="3.31" height="3.34" fill="#f45050" stroke="#666" stroke-width="0.3"/>
<rect x="446.57" y="214.47" width="3.31" height="3.34" fill="#a8a8ff" stroke="#666" stroke-width="0.3"/>
<rect x="449.88" y="214.47" width="3.31" height="3.34" fill="#a8a8ff" stroke="#666" stroke-width="0.3"/>
<rect x="453.19" y="214.47" width="3.31" height="3.34" fill="#a8a8ff" stroke="#666" stroke-width="0.3"/>
<rect x="456.5" y="214.47" width="3.31" height="3.34" fill="#3000a8" stroke="#666" stroke-width="0.3"/>
<rect x="459.81" y="214.47" width="3.31" height="3.34" fill="#f4d8ec" stroke="#666" stroke-width="0.3"/>
<rect x="463.12" y="214.47" width="3.31" height="3.34" fill="#a8a8ff" stroke="#666" stroke-width="0.3"/>
<rect x="466.43" y="214.47" width="3.31" height="3.34" fill="#a8a8ff" stroke="#666" stroke-width="0.3"/>
<rect x="469.74" y="214.47" width="3.31" height="3.34" fill="#a8a8ff" stroke="#666" stroke-width="0.3"/>
<rect x="473.05" y="214.47" width="3.31" height="3.34" fill="#f45050" stroke="#666" stroke-width="0.3"/>
<rect x="476.35" y="214.47" width="3.31" height="3.34" fill="#5858f0" stroke="#666" stroke-width="0.3"/>
<rect x="479.66" y="214.47" width="3.31" height="3.34" fill="#f4f4ff" stroke="#666" stroke-width="0.3"/>
<rect x="482.97" y="214.47" width="3.31" height="3.34" fill="#f4f4ff" stroke="#666" stroke-width="0.3"/>
<rect x="486.28" y="214.47" width="3.31" height="3.34" fill="#f4d8ec" stroke="#666" stroke-width="0.3"/>
<rect x="489.59" y="214.47" width="3.31" height="3.34" fill="#f45050" stroke="#666" stroke-width="0.3"/>
<line x1="494" y1="217.81" x2="520" y2="217.81" stroke="#999" stroke-width="0.5"/>
<text x="495" y="217.66" font-size="3.4" fill="#111">SOD2</text>
<rect x="420.1" y="217.81" width="3.31" height="3.34" fill="#f4d8ec" stroke="#666" stroke-width="0.3"/>
<rect x="423.41" y="217.81" width="3.31" height="3.34" fill="#f4d8ec" stroke="#666" stroke-width="0.3"/>
<rect x="426.72" y="217.81" width="3.31" height="3.34" fill="#f00000" stroke="#666" stroke-width="0.3"/>
<rect x="430.03" y="217.81" width="3.31" height="3.34" fill="#f8a0a8" stroke="#666" stroke-width="0.3"/>
<rect x="433.34" y="217.81" width="3.31" height="3.34" fill="#f45050" stroke="#666" stroke-width="0.3"/>
<rect x="436.65" y="217.81" width="3.31" height="3.34" fill="#f8a0a8" stroke="#666" stroke-width="0.3"/>
<rect x="439.95" y="217.81" width="3.31" height="3.34" fill="#f45050" stroke="#666" stroke-width="0.3"/>
<rect x="443.26" y="217.81" width="3.31" height="3.34" fill="#5858f0" stroke="#666" stroke-width="0.3"/>
<rect x="446.57" y="217.81" width="3.31" height="3.34" fill="#f4d8ec" stroke="#666" stroke-width="0.3"/>
<rect x="449.88" y="217.81" width="3.31" height="3.34" fill="#f4f4ff" stroke="#666" stroke-width="0.3"/>
<rect x="453.19" y="217.81" width="3.31" height="3.34" fill="#0000e0" stroke="#666" stroke-width="0.3"/>
<rect x="456.5" y="217.81" width="3.31" height="3.34" fill="#f4f4ff" stroke="#666" stroke-width="0.3"/>
<rect x="459.81" y="217.81" width="3.31" height="3.34" fill="#5858f0" stroke="#666" stroke-width="0.3"/>
<rect x="463.12" y="217.81" width="3.31" height="3.34" fill="#a8a8ff" stroke="#666" stroke-width="0.3"/>
<rect x="466.43" y="217.81" width="3.31" height="3.34" fill="#f4f4ff" stroke="#666" stroke-width="0.3"/>
<rect x="469.74" y="217.81" width="3.31" height="3.34" fill="#0000e0" stroke="#666" stroke-width="0.3"/>
<rect x="473.05" y="217.81" width="3.31" height="3.34" fill="#a8a8ff" stroke="#666" stroke-width="0.3"/>
<rect x="476.35" y="217.81" width="3.31" height="3.34" fill="#5858f0" stroke="#666" stroke-width="0.3"/>
<rect x="479.66" y="217.81" width="3.31" height="3.34" fill="#f4d8ec" stroke="#666" stroke-width="0.3"/>
<rect x="482.97" y="217.81" width="3.31" height="3.34" fill="#3000a8" stroke="#666" stroke-width="0.3"/>
<rect x="486.28" y="217.81" width="3.31" height="3.34" fill="#f4d8ec" stroke="#666" stroke-width="0.3"/>
<rect x="489.59" y="217.81" width="3.31" height="3.34" fill="#a8a8ff" stroke="#666" stroke-width="0.3"/>
<line x1="494" y1="221.16" x2="520" y2="221.16" stroke="#999" stroke-width="0.5"/>
<text x="495" y="221.01" font-size="3.4" fill="#111">IL6</text>
<rect x="420.1" y="221.16" width="3.31" height="3.34" fill="#f4f4ff" stroke="#666" stroke-width="0.3"/>
<rect x="423.41" y="221.16" width="3.31" height="3.34" fill="#f00000" stroke="#666" stroke-width="0.3"/>
<rect x="426.72" y="221.16" width="3.31" height="3.34" fill="#f4d8ec" stroke="#666" stroke-width="0.3"/>
<rect x="430.03" y="221.16" width="3.31" height="3.34" fill="#a8a8ff" stroke="#666" stroke-width="0.3"/>
<rect x="433.34" y="221.16" width="3.31" height="3.34" fill="#f45050" stroke="#666" stroke-width="0.3"/>
<rect x="436.65" y="221.16" width="3.31" height="3.34" fill="#f8a0a8" stroke="#666" stroke-width="0.3"/>
<rect x="439.95" y="221.16" width="3.31" height="3.34" fill="#f8a0a8" stroke="#666" stroke-width="0.3"/>
<rect x="443.26" y="221.16" width="3.31" height="3.34" fill="#f45050" stroke="#666" stroke-width="0.3"/>
<rect x="446.57" y="221.16" width="3.31" height="3.34" fill="#3000a8" stroke="#666" stroke-width="0.3"/>
<rect x="449.88" y="221.16" width="3.31" height="3.34" fill="#a8a8ff" stroke="#666" stroke-width="0.3"/>
<rect x="453.19" y="221.16" width="3.31" height="3.34" fill="#f4d8ec" stroke="#666" stroke-width="0.3"/>
<rect x="456.5" y="221.16" width="3.31" height="3.34" fill="#5858f0" stroke="#666" stroke-width="0.3"/>
<rect x="459.81" y="221.16" width="3.31" height="3.34" fill="#a8a8ff" stroke="#666" stroke-width="0.3"/>
<rect x="463.12" y="221.16" width="3.31" height="3.34" fill="#f4d8ec" stroke="#666" stroke-width="0.3"/>
<rect x="466.43" y="221.16" width="3.31" height="3.34" fill="#0000e0" stroke="#666" stroke-width="0.3"/>
<rect x="469.74" y="221.16" width="3.31" height="3.34" fill="#f4d8ec" stroke="#666" stroke-width="0.3"/>
<rect x="473.05" y="221.16" width="3.31" height="3.34" fill="#3000a8" stroke="#666" stroke-width="0.3"/>
<rect x="476.35" y="221.16" width="3.31" height="3.34" fill="#a8a8ff" stroke="#666" stroke-width="0.3"/>
<rect x="479.66" y="221.16" width="3.31" height="3.34" fill="#0000e0" stroke="#666" stroke-width="0.3"/>
<rect x="482.97" y="221.16" width="3.31" height="3.34" fill="#f4f4ff" stroke="#666" stroke-width="0.3"/>
<rect x="486.28" y="221.16" width="3.31" height="3.34" fill="#0000e0" stroke="#666" stroke-width="0.3"/>
<rect x="489.59" y="221.16" width="3.31" height="3.34" fill="#f45050" stroke="#666" stroke-width="0.3"/>
<line x1="494" y1="224.5" x2="520" y2="224.5" stroke="#999" stroke-width="0.5"/>
<text x="495" y="224.35" font-size="3.4" fill="#111">CCL3</text>
<rect x="420.1" y="224.5" width="3.31" height="3.34" fill="#f00000" stroke="#666" stroke-width="0.3"/>
<rect x="423.41" y="224.5" width="3.31" height="3.34" fill="#f00000" stroke="#666" stroke-width="0.3"/>
<rect x="426.72" y="224.5" width="3.31" height="3.34" fill="#f8a0a8" stroke="#666" stroke-width="0.3"/>
<rect x="430.03" y="224.5" width="3.31" height="3.34" fill="#f8a0a8" stroke="#666" stroke-width="0.3"/>
<rect x="433.34" y="224.5" width="3.31" height="3.34" fill="#f4f4ff" stroke="#666" stroke-width="0.3"/>
<rect x="436.65" y="224.5" width="3.31" height="3.34" fill="#f4f4ff" stroke="#666" stroke-width="0.3"/>
<rect x="439.95" y="224.5" width="3.31" height="3.34" fill="#f4d8ec" stroke="#666" stroke-width="0.3"/>
<rect x="443.26" y="224.5" width="3.31" height="3.34" fill="#a8a8ff" stroke="#666" stroke-width="0.3"/>
<rect x="446.57" y="224.5" width="3.31" height="3.34" fill="#a8a8ff" stroke="#666" stroke-width="0.3"/>
<rect x="449.88" y="224.5" width="3.31" height="3.34" fill="#a8a8ff" stroke="#666" stroke-width="0.3"/>
<rect x="453.19" y="224.5" width="3.31" height="3.34" fill="#a8a8ff" stroke="#666" stroke-width="0.3"/>
<rect x="456.5" y="224.5" width="3.31" height="3.34" fill="#3000a8" stroke="#666" stroke-width="0.3"/>
<rect x="459.81" y="224.5" width="3.31" height="3.34" fill="#a8a8ff" stroke="#666" stroke-width="0.3"/>
<rect x="463.12" y="224.5" width="3.31" height="3.34" fill="#5858f0" stroke="#666" stroke-width="0.3"/>
<rect x="466.43" y="224.5" width="3.31" height="3.34" fill="#a8a8ff" stroke="#666" stroke-width="0.3"/>
<rect x="469.74" y="224.5" width="3.31" height="3.34" fill="#f4d8ec" stroke="#666" stroke-width="0.3"/>
<rect x="473.05" y="224.5" width="3.31" height="3.34" fill="#3000a8" stroke="#666" stroke-width="0.3"/>
<rect x="476.35" y="224.5" width="3.31" height="3.34" fill="#a8a8ff" stroke="#666" stroke-width="0.3"/>
<rect x="479.66" y="224.5" width="3.31" height="3.34" fill="#a8a8ff" stroke="#666" stroke-width="0.3"/>
<rect x="482.97" y="224.5" width="3.31" height="3.34" fill="#f4d8ec" stroke="#666" stroke-width="0.3"/>
<rect x="486.28" y="224.5" width="3.31" height="3.34" fill="#f4f4ff" stroke="#666" stroke-width="0.3"/>
<rect x="489.59" y="224.5" width="3.31" height="3.34" fill="#f4d8ec" stroke="#666" stroke-width="0.3"/>
<line x1="494" y1="227.84" x2="520" y2="227.84" stroke="#999" stroke-width="0.5"/>
<text x="495" y="227.69" font-size="3.4" fill="#111">BCL2A1</text>
<rect x="420.1" y="227.84" width="3.31" height="3.34" fill="#f00000" stroke="#666" stroke-width="0.3"/>
<rect x="423.41" y="227.84" width="3.31" height="3.34" fill="#f4f4ff" stroke="#666" stroke-width="0.3"/>
<rect x="426.72" y="227.84" width="3.31" height="3.34" fill="#f45050" stroke="#666" stroke-width="0.3"/>
<rect x="430.03" y="227.84" width="3.31" height="3.34" fill="#f45050" stroke="#666" stroke-width="0.3"/>
<rect x="433.34" y="227.84" width="3.31" height="3.34" fill="#f00000" stroke="#666" stroke-width="0.3"/>
<rect x="436.65" y="227.84" width="3.31" height="3.34" fill="#a8a8ff" stroke="#666" stroke-width="0.3"/>
<rect x="439.95" y="227.84" width="3.31" height="3.34" fill="#f00000" stroke="#666" stroke-width="0.3"/>
<rect x="443.26" y="227.84" width="3.31" height="3.34" fill="#f45050" stroke="#666" stroke-width="0.3"/>
<rect x="446.57" y="227.84" width="3.31" height="3.34" fill="#5858f0" stroke="#666" stroke-width="0.3"/>
<rect x="449.88" y="227.84" width="3.31" height="3.34" fill="#f4d8ec" stroke="#666" stroke-width="0.3"/>
<rect x="453.19" y="227.84" width="3.31" height="3.34" fill="#a8a8ff" stroke="#666" stroke-width="0.3"/>
<rect x="456.5" y="227.84" width="3.31" height="3.34" fill="#5858f0" stroke="#666" stroke-width="0.3"/>
<rect x="459.81" y="227.84" width="3.31" height="3.34" fill="#f45050" stroke="#666" stroke-width="0.3"/>
<rect x="463.12" y="227.84" width="3.31" height="3.34" fill="#f45050" stroke="#666" stroke-width="0.3"/>
<rect x="466.43" y="227.84" width="3.31" height="3.34" fill="#f4d8ec" stroke="#666" stroke-width="0.3"/>
<rect x="469.74" y="227.84" width="3.31" height="3.34" fill="#a8a8ff" stroke="#666" stroke-width="0.3"/>
<rect x="473.05" y="227.84" width="3.31" height="3.34" fill="#3000a8" stroke="#666" stroke-width="0.3"/>
<rect x="476.35" y="227.84" width="3.31" height="3.34" fill="#f4d8ec" stroke="#666" stroke-width="0.3"/>
<rect x="479.66" y="227.84" width="3.31" height="3.34" fill="#5858f0" stroke="#666" stroke-width="0.3"/>
<rect x="482.97" y="227.84" width="3.31" height="3.34" fill="#f45050" stroke="#666" stroke-width="0.3"/>
<rect x="486.28" y="227.84" width="3.31" height="3.34" fill="#5858f0" stroke="#666" stroke-width="0.3"/>
<rect x="489.59" y="227.84" width="3.31" height="3.34" fill="#a8a8ff" stroke="#666" stroke-width="0.3"/>
<line x1="494" y1="231.19" x2="520" y2="231.19" stroke="#999" stroke-width="0.5"/>
<text x="495" y="231.04" font-size="3.4" fill="#111">IER3</text>
<rect x="420.1" y="231.19" width="3.31" height="3.34" fill="#f00000" stroke="#666" stroke-width="0.3"/>
<rect x="423.41" y="231.19" width="3.31" height="3.34" fill="#3000a8" stroke="#666" stroke-width="0.3"/>
<rect x="426.72" y="231.19" width="3.31" height="3.34" fill="#f4d8ec" stroke="#666" stroke-width="0.3"/>
<rect x="430.03" y="231.19" width="3.31" height="3.34" fill="#f45050" stroke="#666" stroke-width="0.3"/>
<rect x="433.34" y="231.19" width="3.31" height="3.34" fill="#f00000" stroke="#666" stroke-width="0.3"/>
<rect x="436.65" y="231.19" width="3.31" height="3.34" fill="#3000a8" stroke="#666" stroke-width="0.3"/>
<rect x="439.95" y="231.19" width="3.31" height="3.34" fill="#f4d8ec" stroke="#666" stroke-width="0.3"/>
<rect x="443.26" y="231.19" width="3.31" height="3.34" fill="#a8a8ff" stroke="#666" stroke-width="0.3"/>
<rect x="446.57" y="231.19" width="3.31" height="3.34" fill="#3000a8" stroke="#666" stroke-width="0.3"/>
<rect x="449.88" y="231.19" width="3.31" height="3.34" fill="#0000e0" stroke="#666" stroke-width="0.3"/>
<rect x="453.19" y="231.19" width="3.31" height="3.34" fill="#0000e0" stroke="#666" stroke-width="0.3"/>
<rect x="456.5" y="231.19" width="3.31" height="3.34" fill="#0000e0" stroke="#666" stroke-width="0.3"/>
<rect x="459.81" y="231.19" width="3.31" height="3.34" fill="#f4f4ff" stroke="#666" stroke-width="0.3"/>
<rect x="463.12" y="231.19" width="3.31" height="3.34" fill="#f4d8ec" stroke="#666" stroke-width="0.3"/>
<rect x="466.43" y="231.19" width="3.31" height="3.34" fill="#5858f0" stroke="#666" stroke-width="0.3"/>
<rect x="469.74" y="231.19" width="3.31" height="3.34" fill="#a8a8ff" stroke="#666" stroke-width="0.3"/>
<rect x="473.05" y="231.19" width="3.31" height="3.34" fill="#0000e0" stroke="#666" stroke-width="0.3"/>
<rect x="476.35" y="231.19" width="3.31" height="3.34" fill="#0000e0" stroke="#666" stroke-width="0.3"/>
<rect x="479.66" y="231.19" width="3.31" height="3.34" fill="#5858f0" stroke="#666" stroke-width="0.3"/>
<rect x="482.97" y="231.19" width="3.31" height="3.34" fill="#0000e0" stroke="#666" stroke-width="0.3"/>
<rect x="486.28" y="231.19" width="3.31" height="3.34" fill="#3000a8" stroke="#666" stroke-width="0.3"/>
<rect x="489.59" y="231.19" width="3.31" height="3.34" fill="#3000a8" stroke="#666" stroke-width="0.3"/>
<line x1="494" y1="234.53" x2="520" y2="234.53" stroke="#999" stroke-width="0.5"/>
<text x="495" y="234.38" font-size="3.4" fill="#111">TRAF1</text>
<rect x="420.1" y="234.53" width="3.31" height="3.34" fill="#f4d8ec" stroke="#666" stroke-width="0.3"/>
<rect x="423.41" y="234.53" width="3.31" height="3.34" fill="#a8a8ff" stroke="#666" stroke-width="0.3"/>
<rect x="426.72" y="234.53" width="3.31" height="3.34" fill="#f45050" stroke="#666" stroke-width="0.3"/>
<rect x="430.03" y="234.53" width="3.31" height="3.34" fill="#f8a0a8" stroke="#666" stroke-width="0.3"/>
<rect x="433.34" y="234.53" width="3.31" height="3.34" fill="#f45050" stroke="#666" stroke-width="0.3"/>
<rect x="436.65" y="234.53" width="3.31" height="3.34" fill="#f45050" stroke="#666" stroke-width="0.3"/>
<rect x="439.95" y="234.53" width="3.31" height="3.34" fill="#f45050" stroke="#666" stroke-width="0.3"/>
<rect x="443.26" y="234.53" width="3.31" height="3.34" fill="#f45050" stroke="#666" stroke-width="0.3"/>
<rect x="446.57" y="234.53" width="3.31" height="3.34" fill="#3000a8" stroke="#666" stroke-width="0.3"/>
<rect x="449.88" y="234.53" width="3.31" height="3.34" fill="#0000e0" stroke="#666" stroke-width="0.3"/>
<rect x="453.19" y="234.53" width="3.31" height="3.34" fill="#f4d8ec" stroke="#666" stroke-width="0.3"/>
<rect x="456.5" y="234.53" width="3.31" height="3.34" fill="#5858f0" stroke="#666" stroke-width="0.3"/>
<rect x="459.81" y="234.53" width="3.31" height="3.34" fill="#3000a8" stroke="#666" stroke-width="0.3"/>
<rect x="463.12" y="234.53" width="3.31" height="3.34" fill="#a8a8ff" stroke="#666" stroke-width="0.3"/>
<rect x="466.43" y="234.53" width="3.31" height="3.34" fill="#a8a8ff" stroke="#666" stroke-width="0.3"/>
<rect x="469.74" y="234.53" width="3.31" height="3.34" fill="#a8a8ff" stroke="#666" stroke-width="0.3"/>
<rect x="473.05" y="234.53" width="3.31" height="3.34" fill="#3000a8" stroke="#666" stroke-width="0.3"/>
<rect x="476.35" y="234.53" width="3.31" height="3.34" fill="#5858f0" stroke="#666" stroke-width="0.3"/>
<rect x="479.66" y="234.53" width="3.31" height="3.34" fill="#f00000" stroke="#666" stroke-width="0.3"/>
<rect x="482.97" y="234.53" width="3.31" height="3.34" fill="#f45050" stroke="#666" stroke-width="0.3"/>
<rect x="486.28" y="234.53" width="3.31" height="3.34" fill="#5858f0" stroke="#666" stroke-width="0.3"/>
<rect x="489.59" y="234.53" width="3.31" height="3.34" fill="#a8a8ff" stroke="#666" stroke-width="0.3"/>
<line x1="494" y1="237.88" x2="520" y2="237.88" stroke="#999" stroke-width="0.5"/>
<text x="495" y="237.73" font-size="3.4" fill="#111">EHD1</text>
<rect x="420.1" y="237.88" width="3.31" height="3.34" fill="#a8a8ff" stroke="#666" stroke-width="0.3"/>
<rect x="423.41" y="237.88" width="3.31" height="3.34" fill="#f45050" stroke="#666" stroke-width="0.3"/>
<rect x="426.72" y="237.88" width="3.31" height="3.34" fill="#f4d8ec" stroke="#666" stroke-width="0.3"/>
<rect x="430.03" y="237.88" width="3.31" height="3.34" fill="#f8a0a8" stroke="#666" stroke-width="0.3"/>
<rect x="433.34" y="237.88" width="3.31" height="3.34" fill="#f4f4ff" stroke="#666" stroke-width="0.3"/>
<rect x="436.65" y="237.88" width="3.31" height="3.34" fill="#f00000" stroke="#666" stroke-width="0.3"/>
<rect x="439.95" y="237.88" width="3.31" height="3.34" fill="#f8a0a8" stroke="#666" stroke-width="0.3"/>
<rect x="443.26" y="237.88" width="3.31" height="3.34" fill="#f45050" stroke="#666" stroke-width="0.3"/>
<rect x="446.57" y="237.88" width="3.31" height="3.34" fill="#3000a8" stroke="#666" stroke-width="0.3"/>
<rect x="449.88" y="237.88" width="3.31" height="3.34" fill="#5858f0" stroke="#666" stroke-width="0.3"/>
<rect x="453.19" y="237.88" width="3.31" height="3.34" fill="#5858f0" stroke="#666" stroke-width="0.3"/>
<rect x="456.5" y="237.88" width="3.31" height="3.34" fill="#3000a8" stroke="#666" stroke-width="0.3"/>
<rect x="459.81" y="237.88" width="3.31" height="3.34" fill="#a8a8ff" stroke="#666" stroke-width="0.3"/>
<rect x="463.12" y="237.88" width="3.31" height="3.34" fill="#3000a8" stroke="#666" stroke-width="0.3"/>
<rect x="466.43" y="237.88" width="3.31" height="3.34" fill="#a8a8ff" stroke="#666" stroke-width="0.3"/>
<rect x="469.74" y="237.88" width="3.31" height="3.34" fill="#f45050" stroke="#666" stroke-width="0.3"/>
<rect x="473.05" y="237.88" width="3.31" height="3.34" fill="#0000e0" stroke="#666" stroke-width="0.3"/>
<rect x="476.35" y="237.88" width="3.31" height="3.34" fill="#f45050" stroke="#666" stroke-width="0.3"/>
<rect x="479.66" y="237.88" width="3.31" height="3.34" fill="#a8a8ff" stroke="#666" stroke-width="0.3"/>
<rect x="482.97" y="237.88" width="3.31" height="3.34" fill="#f00000" stroke="#666" stroke-width="0.3"/>
<rect x="486.28" y="237.88" width="3.31" height="3.34" fill="#5858f0" stroke="#666" stroke-width="0.3"/>
<rect x="489.59" y="237.88" width="3.31" height="3.34" fill="#f00000" stroke="#666" stroke-width="0.3"/>
<line x1="494" y1="241.22" x2="520" y2="241.22" stroke="#999" stroke-width="0.5"/>
<text x="495" y="241.07" font-size="3.4" fill="#111">CCL4</text>
<rect x="420.1" y="241.22" width="3.31" height="3.34" fill="#0000e0" stroke="#666" stroke-width="0.3"/>
<rect x="423.41" y="241.22" width="3.31" height="3.34" fill="#0000e0" stroke="#666" stroke-width="0.3"/>
<rect x="426.72" y="241.22" width="3.31" height="3.34" fill="#3000a8" stroke="#666" stroke-width="0.3"/>
<rect x="430.03" y="241.22" width="3.31" height="3.34" fill="#f4f4ff" stroke="#666" stroke-width="0.3"/>
<rect x="433.34" y="241.22" width="3.31" height="3.34" fill="#a8a8ff" stroke="#666" stroke-width="0.3"/>
<rect x="436.65" y="241.22" width="3.31" height="3.34" fill="#f4d8ec" stroke="#666" stroke-width="0.3"/>
<rect x="439.95" y="241.22" width="3.31" height="3.34" fill="#0000e0" stroke="#666" stroke-width="0.3"/>
<rect x="443.26" y="241.22" width="3.31" height="3.34" fill="#f00000" stroke="#666" stroke-width="0.3"/>
<rect x="446.57" y="241.22" width="3.31" height="3.34" fill="#5858f0" stroke="#666" stroke-width="0.3"/>
<rect x="449.88" y="241.22" width="3.31" height="3.34" fill="#0000e0" stroke="#666" stroke-width="0.3"/>
<rect x="453.19" y="241.22" width="3.31" height="3.34" fill="#a8a8ff" stroke="#666" stroke-width="0.3"/>
<rect x="456.5" y="241.22" width="3.31" height="3.34" fill="#3000a8" stroke="#666" stroke-width="0.3"/>
<rect x="459.81" y="241.22" width="3.31" height="3.34" fill="#a8a8ff" stroke="#666" stroke-width="0.3"/>
<rect x="463.12" y="241.22" width="3.31" height="3.34" fill="#3000a8" stroke="#666" stroke-width="0.3"/>
<rect x="466.43" y="241.22" width="3.31" height="3.34" fill="#5858f0" stroke="#666" stroke-width="0.3"/>
<rect x="469.74" y="241.22" width="3.31" height="3.34" fill="#f4f4ff" stroke="#666" stroke-width="0.3"/>
<rect x="473.05" y="241.22" width="3.31" height="3.34" fill="#5858f0" stroke="#666" stroke-width="0.3"/>
<rect x="476.35" y="241.22" width="3.31" height="3.34" fill="#5858f0" stroke="#666" stroke-width="0.3"/>
<rect x="479.66" y="241.22" width="3.31" height="3.34" fill="#a8a8ff" stroke="#666" stroke-width="0.3"/>
<rect x="482.97" y="241.22" width="3.31" height="3.34" fill="#f4d8ec" stroke="#666" stroke-width="0.3"/>
<rect x="486.28" y="241.22" width="3.31" height="3.34" fill="#a8a8ff" stroke="#666" stroke-width="0.3"/>
<rect x="489.59" y="241.22" width="3.31" height="3.34" fill="#a8a8ff" stroke="#666" stroke-width="0.3"/>
<line x1="494" y1="244.57" x2="520" y2="244.57" stroke="#999" stroke-width="0.5"/>
<text x="495" y="244.42" font-size="3.4" fill="#111">BIRC3</text>
<rect x="420.1" y="244.57" width="3.31" height="3.34" fill="#0000e0" stroke="#666" stroke-width="0.3"/>
<rect x="423.41" y="244.57" width="3.31" height="3.34" fill="#a8a8ff" stroke="#666" stroke-width="0.3"/>
<rect x="426.72" y="244.57" width="3.31" height="3.34" fill="#5858f0" stroke="#666" stroke-width="0.3"/>
<rect x="430.03" y="244.57" width="3.31" height="3.34" fill="#5858f0" stroke="#666" stroke-width="0.3"/>
<rect x="433.34" y="244.57" width="3.31" height="3.34" fill="#f4f4ff" stroke="#666" stroke-width="0.3"/>
<rect x="436.65" y="244.57" width="3.31" height="3.34" fill="#3000a8" stroke="#666" stroke-width="0.3"/>
<rect x="439.95" y="244.57" width="3.31" height="3.34" fill="#3000a8" stroke="#666" stroke-width="0.3"/>
<rect x="443.26" y="244.57" width="3.31" height="3.34" fill="#f4f4ff" stroke="#666" stroke-width="0.3"/>
<rect x="446.57" y="244.57" width="3.31" height="3.34" fill="#f8a0a8" stroke="#666" stroke-width="0.3"/>
<rect x="449.88" y="244.57" width="3.31" height="3.34" fill="#f00000" stroke="#666" stroke-width="0.3"/>
<rect x="453.19" y="244.57" width="3.31" height="3.34" fill="#f4f4ff" stroke="#666" stroke-width="0.3"/>
<rect x="456.5" y="244.57" width="3.31" height="3.34" fill="#f00000" stroke="#666" stroke-width="0.3"/>
<rect x="459.81" y="244.57" width="3.31" height="3.34" fill="#f00000" stroke="#666" stroke-width="0.3"/>
<rect x="463.12" y="244.57" width="3.31" height="3.34" fill="#f8a0a8" stroke="#666" stroke-width="0.3"/>
<rect x="466.43" y="244.57" width="3.31" height="3.34" fill="#a8a8ff" stroke="#666" stroke-width="0.3"/>
<rect x="469.74" y="244.57" width="3.31" height="3.34" fill="#f4d8ec" stroke="#666" stroke-width="0.3"/>
<rect x="473.05" y="244.57" width="3.31" height="3.34" fill="#a8a8ff" stroke="#666" stroke-width="0.3"/>
<rect x="476.35" y="244.57" width="3.31" height="3.34" fill="#f4d8ec" stroke="#666" stroke-width="0.3"/>
<rect x="479.66" y="244.57" width="3.31" height="3.34" fill="#a8a8ff" stroke="#666" stroke-width="0.3"/>
<rect x="482.97" y="244.57" width="3.31" height="3.34" fill="#a8a8ff" stroke="#666" stroke-width="0.3"/>
<rect x="486.28" y="244.57" width="3.31" height="3.34" fill="#a8a8ff" stroke="#666" stroke-width="0.3"/>
<rect x="489.59" y="244.57" width="3.31" height="3.34" fill="#f4d8ec" stroke="#666" stroke-width="0.3"/>
<line x1="494" y1="247.91" x2="520" y2="247.91" stroke="#999" stroke-width="0.5"/>
<text x="495" y="247.76" font-size="3.4" fill="#111">KDM6B</text>
<rect x="420.1" y="247.91" width="3.31" height="3.34" fill="#0000e0" stroke="#666" stroke-width="0.3"/>
<rect x="423.41" y="247.91" width="3.31" height="3.34" fill="#3000a8" stroke="#666" stroke-width="0.3"/>
<rect x="426.72" y="247.91" width="3.31" height="3.34" fill="#3000a8" stroke="#666" stroke-width="0.3"/>
<rect x="430.03" y="247.91" width="3.31" height="3.34" fill="#5858f0" stroke="#666" stroke-width="0.3"/>
<rect x="433.34" y="247.91" width="3.31" height="3.34" fill="#3000a8" stroke="#666" stroke-width="0.3"/>
<rect x="436.65" y="247.91" width="3.31" height="3.34" fill="#3000a8" stroke="#666" stroke-width="0.3"/>
<rect x="439.95" y="247.91" width="3.31" height="3.34" fill="#3000a8" stroke="#666" stroke-width="0.3"/>
<rect x="443.26" y="247.91" width="3.31" height="3.34" fill="#0000e0" stroke="#666" stroke-width="0.3"/>
<rect x="446.57" y="247.91" width="3.31" height="3.34" fill="#f45050" stroke="#666" stroke-width="0.3"/>
<rect x="449.88" y="247.91" width="3.31" height="3.34" fill="#f4d8ec" stroke="#666" stroke-width="0.3"/>
<rect x="453.19" y="247.91" width="3.31" height="3.34" fill="#a8a8ff" stroke="#666" stroke-width="0.3"/>
<rect x="456.5" y="247.91" width="3.31" height="3.34" fill="#f4d8ec" stroke="#666" stroke-width="0.3"/>
<rect x="459.81" y="247.91" width="3.31" height="3.34" fill="#f45050" stroke="#666" stroke-width="0.3"/>
<rect x="463.12" y="247.91" width="3.31" height="3.34" fill="#f45050" stroke="#666" stroke-width="0.3"/>
<rect x="466.43" y="247.91" width="3.31" height="3.34" fill="#f4d8ec" stroke="#666" stroke-width="0.3"/>
<rect x="469.74" y="247.91" width="3.31" height="3.34" fill="#f8a0a8" stroke="#666" stroke-width="0.3"/>
<rect x="473.05" y="247.91" width="3.31" height="3.34" fill="#f4d8ec" stroke="#666" stroke-width="0.3"/>
<rect x="476.35" y="247.91" width="3.31" height="3.34" fill="#f45050" stroke="#666" stroke-width="0.3"/>
<rect x="479.66" y="247.91" width="3.31" height="3.34" fill="#f8a0a8" stroke="#666" stroke-width="0.3"/>
<rect x="482.97" y="247.91" width="3.31" height="3.34" fill="#f8a0a8" stroke="#666" stroke-width="0.3"/>
<rect x="486.28" y="247.91" width="3.31" height="3.34" fill="#f8a0a8" stroke="#666" stroke-width="0.3"/>
<rect x="489.59" y="247.91" width="3.31" height="3.34" fill="#f4d8ec" stroke="#666" stroke-width="0.3"/>
<line x1="494" y1="251.26" x2="520" y2="251.26" stroke="#999" stroke-width="0.5"/>
<text x="495" y="251.11" font-size="3.4" fill="#111">NINJ1</text>
<rect x="420.1" y="251.26" width="3.31" height="3.34" fill="#0000e0" stroke="#666" stroke-width="0.3"/>
<rect x="423.41" y="251.26" width="3.31" height="3.34" fill="#0000e0" stroke="#666" stroke-width="0.3"/>
<rect x="426.72" y="251.26" width="3.31" height="3.34" fill="#3000a8" stroke="#666" stroke-width="0.3"/>
<rect x="430.03" y="251.26" width="3.31" height="3.34" fill="#3000a8" stroke="#666" stroke-width="0.3"/>
<rect x="433.34" y="251.26" width="3.31" height="3.34" fill="#3000a8" stroke="#666" stroke-width="0.3"/>
<rect x="436.65" y="251.26" width="3.31" height="3.34" fill="#3000a8" stroke="#666" stroke-width="0.3"/>
<rect x="439.95" y="251.26" width="3.31" height="3.34" fill="#3000a8" stroke="#666" stroke-width="0.3"/>
<rect x="443.26" y="251.26" width="3.31" height="3.34" fill="#0000e0" stroke="#666" stroke-width="0.3"/>
<rect x="446.57" y="251.26" width="3.31" height="3.34" fill="#f45050" stroke="#666" stroke-width="0.3"/>
<rect x="449.88" y="251.26" width="3.31" height="3.34" fill="#f8a0a8" stroke="#666" stroke-width="0.3"/>
<rect x="453.19" y="251.26" width="3.31" height="3.34" fill="#f4f4ff" stroke="#666" stroke-width="0.3"/>
<rect x="456.5" y="251.26" width="3.31" height="3.34" fill="#f4d8ec" stroke="#666" stroke-width="0.3"/>
<rect x="459.81" y="251.26" width="3.31" height="3.34" fill="#a8a8ff" stroke="#666" stroke-width="0.3"/>
<rect x="463.12" y="251.26" width="3.31" height="3.34" fill="#f45050" stroke="#666" stroke-width="0.3"/>
<rect x="466.43" y="251.26" width="3.31" height="3.34" fill="#f8a0a8" stroke="#666" stroke-width="0.3"/>
<rect x="469.74" y="251.26" width="3.31" height="3.34" fill="#f45050" stroke="#666" stroke-width="0.3"/>
<rect x="473.05" y="251.26" width="3.31" height="3.34" fill="#f45050" stroke="#666" stroke-width="0.3"/>
<rect x="476.35" y="251.26" width="3.31" height="3.34" fill="#f45050" stroke="#666" stroke-width="0.3"/>
<rect x="479.66" y="251.26" width="3.31" height="3.34" fill="#f8a0a8" stroke="#666" stroke-width="0.3"/>
<rect x="482.97" y="251.26" width="3.31" height="3.34" fill="#f45050" stroke="#666" stroke-width="0.3"/>
<rect x="486.28" y="251.26" width="3.31" height="3.34" fill="#f8a0a8" stroke="#666" stroke-width="0.3"/>
<rect x="489.59" y="251.26" width="3.31" height="3.34" fill="#f8a0a8" stroke="#666" stroke-width="0.3"/>
<line x1="494" y1="254.6" x2="520" y2="254.6" stroke="#999" stroke-width="0.5"/>
<text x="495" y="254.45" font-size="3.4" fill="#111">PDE4B</text>
<text x="0.6" y="307" class="bd" font-size="12">D</text>
<text x="48" y="314.2" class="bd" font-size="7.9" fill="#111">Monocytes/Macrophages</text>
<text x="35" y="437.9" class="bd" font-size="7" text-anchor="end" fill="#222">0.0</text>
<text x="35" y="426.11" class="bd" font-size="7" text-anchor="end" fill="#222">0.1</text>
<text x="35" y="414.32" class="bd" font-size="7" text-anchor="end" fill="#222">0.2</text>
<text x="35" y="402.53" class="bd" font-size="7" text-anchor="end" fill="#222">0.3</text>
<text x="35" y="390.74" class="bd" font-size="7" text-anchor="end" fill="#222">0.4</text>
<text x="35" y="378.95" class="bd" font-size="7" text-anchor="end" fill="#222">0.5</text>
<text x="35" y="367.16" class="bd" font-size="7" text-anchor="end" fill="#222">0.6</text>
<text x="35" y="355.37" class="bd" font-size="7" text-anchor="end" fill="#222">0.7</text>
<text x="35" y="343.58" class="bd" font-size="7" text-anchor="end" fill="#222">0.8</text>
<text x="35" y="331.79" class="bd" font-size="7" text-anchor="end" fill="#222">0.9</text>
<text x="35" y="320" class="bd" font-size="7" text-anchor="end" fill="#222">1.0</text>
<line x1="40.4" y1="317.5" x2="40.4" y2="435.4" stroke="#bfbfbf" stroke-width="0.8"/>
<rect x="41.4" y="433.8" width="24.7" height="1.5" fill="#ed7d31"/>
<rect x="41.4" y="431" width="24.7" height="2.8" fill="#0070c0"/>
<rect x="41.4" y="430" width="24.7" height="1" fill="#00b050"/>
<rect x="41.4" y="420.6" width="24.7" height="9.4" fill="#fff2cc"/>
<rect x="41.4" y="407.2" width="24.7" height="13.4" fill="#e2efda"/>
<rect x="41.4" y="399.8" width="24.7" height="7.4" fill="#ffccff"/>
<rect x="67.25" y="433.2" width="24.7" height="2.1" fill="#ed7d31"/>
<rect x="67.25" y="432" width="24.7" height="1.2" fill="#0070c0"/>
<rect x="67.25" y="431" width="24.7" height="1" fill="#00b050"/>
<rect x="67.25" y="420.3" width="24.7" height="10.7" fill="#fff2cc"/>
<rect x="67.25" y="408.2" width="24.7" height="12.1" fill="#e2efda"/>
<rect x="67.25" y="398.5" width="24.7" height="9.7" fill="#ffccff"/>
<rect x="93.1" y="427.9" width="24.7" height="7.4" fill="#00b0f0"/>
<rect x="93.1" y="414" width="24.7" height="13.9" fill="#ed7d31"/>
<rect x="93.1" y="405.3" width="24.7" height="8.7" fill="#c00000"/>
<rect x="93.1" y="391.9" width="24.7" height="13.4" fill="#ffc000"/>
<rect x="93.1" y="388.2" width="24.7" height="3.7" fill="#0070c0"/>
<rect x="93.1" y="376.7" width="24.7" height="11.5" fill="#00b050"/>
<rect x="93.1" y="366.9" width="24.7" height="9.8" fill="#fff2cc"/>
<rect x="93.1" y="361.8" width="24.7" height="5.1" fill="#e2efda"/>
<rect x="93.1" y="358.5" width="24.7" height="3.3" fill="#ffccff"/>
<rect x="118.95" y="420" width="24.7" height="15.3" fill="#00b0f0"/>
<rect x="118.95" y="416.2" width="24.7" height="3.8" fill="#ed7d31"/>
<rect x="118.95" y="400.2" width="24.7" height="16" fill="#c00000"/>
<rect x="118.95" y="388.6" width="24.7" height="11.6" fill="#ffc000"/>
<rect x="118.95" y="374.3" width="24.7" height="14.3" fill="#0070c0"/>
<rect x="118.95" y="362.5" width="24.7" height="11.8" fill="#00b050"/>
<rect x="118.95" y="354.6" width="24.7" height="7.9" fill="#fff2cc"/>
<rect x="118.95" y="346.7" width="24.7" height="7.9" fill="#e2efda"/>
<rect x="118.95" y="334.8" width="24.7" height="11.9" fill="#ffccff"/>
<text x="53.75" y="446.7" class="bd" font-size="7.1" text-anchor="middle" fill="#222">PDX</text>
<text x="53.75" y="454.6" class="bd" font-size="7.1" text-anchor="middle" fill="#222">Ascites</text>
<text x="53.75" y="462.5" class="bd" font-size="7.1" text-anchor="middle" fill="#222">(<tspan font-style="italic">n</tspan>=4)</text>
<text x="79.6" y="446.7" class="bd" font-size="7.1" text-anchor="middle" fill="#222">PDX</text>
<text x="79.6" y="454.6" class="bd" font-size="7.1" text-anchor="middle" fill="#222">Tumor</text>
<text x="79.6" y="462.5" class="bd" font-size="7.1" text-anchor="middle" fill="#222">(<tspan font-style="italic">n</tspan>=5)</text>
<text x="105.45" y="446.7" class="bd" font-size="7.1" text-anchor="middle" fill="#222">Patient</text>
<text x="105.45" y="454.6" class="bd" font-size="7.1" text-anchor="middle" fill="#222">Ascites</text>
<text x="105.45" y="462.5" class="bd" font-size="7.1" text-anchor="middle" fill="#222">(<tspan font-style="italic">n</tspan>=8)</text>
<text x="131.3" y="446.7" class="bd" font-size="7.1" text-anchor="middle" fill="#222">Patient</text>
<text x="131.3" y="454.6" class="bd" font-size="7.1" text-anchor="middle" fill="#222">Tumor</text>
<text x="131.3" y="462.5" class="bd" font-size="7.1" text-anchor="middle" fill="#222">(<tspan font-style="italic">n</tspan>=14)</text>
<rect x="43.1" y="480.1" width="3.1" height="3.4" fill="#00b0f0"/>
<text x="47.9" y="484.4" class="bd" font-size="6.6" fill="#222">S01</text>
<rect x="63.3" y="480.1" width="3.1" height="3.4" fill="#ed7d31"/>
<text x="68.1" y="484.4" class="bd" font-size="6.6" fill="#222">S02</text>
<rect x="82.4" y="480.1" width="3.1" height="3.4" fill="#c00000"/>
<text x="87.2" y="484.4" class="bd" font-size="6.6" fill="#222">S03</text>
<rect x="102" y="480.1" width="3.1" height="3.4" fill="#ffc000"/>
<text x="106.8" y="484.4" class="bd" font-size="6.6" fill="#222">S04</text>
<rect x="121.2" y="480.1" width="3.1" height="3.4" fill="#0070c0"/>
<text x="126" y="484.4" class="bd" font-size="6.6" fill="#222">S05</text>
<rect x="43.1" y="494.5" width="3.1" height="3.4" fill="#00b050"/>
<text x="47.9" y="498.8" class="bd" font-size="6.6" fill="#222">S06</text>
<rect x="63.3" y="494.5" width="3.1" height="3.4" fill="#fff2cc"/>
<text x="68.1" y="498.8" class="bd" font-size="6.6" fill="#222">S07</text>
<rect x="82.4" y="494.5" width="3.1" height="3.4" fill="#e2efda"/>
<text x="87.2" y="498.8" class="bd" font-size="6.6" fill="#222">S08</text>
<rect x="102" y="494.5" width="3.1" height="3.4" fill="#ffccff"/>
<text x="106.8" y="498.8" class="bd" font-size="6.6" fill="#222">S09</text>
<text x="145.2" y="307" class="bd" font-size="12">E</text>
<text x="191.4" y="314.2" class="bd" font-size="8.2" fill="#111">CD4+ T Cells</text>
<text x="158.5" y="437.9" class="bd" font-size="7" text-anchor="end" fill="#222">0.0</text>
<text x="158.5" y="426.11" class="bd" font-size="7" text-anchor="end" fill="#222">0.1</text>
<text x="158.5" y="414.32" class="bd" font-size="7" text-anchor="end" fill="#222">0.2</text>
<text x="158.5" y="402.53" class="bd" font-size="7" text-anchor="end" fill="#222">0.3</text>
<text x="158.5" y="390.74" class="bd" font-size="7" text-anchor="end" fill="#222">0.4</text>
<text x="158.5" y="378.95" class="bd" font-size="7" text-anchor="end" fill="#222">0.5</text>
<text x="158.5" y="367.16" class="bd" font-size="7" text-anchor="end" fill="#222">0.6</text>
<text x="158.5" y="355.37" class="bd" font-size="7" text-anchor="end" fill="#222">0.7</text>
<text x="158.5" y="343.58" class="bd" font-size="7" text-anchor="end" fill="#222">0.8</text>
<text x="158.5" y="331.79" class="bd" font-size="7" text-anchor="end" fill="#222">0.9</text>
<text x="158.5" y="320" class="bd" font-size="7" text-anchor="end" fill="#222">1.0</text>
<line x1="164.4" y1="317.5" x2="164.4" y2="435.4" stroke="#bfbfbf" stroke-width="0.8"/>
<rect x="165.2" y="434.6" width="26.8" height="0.7" fill="#ed7d31"/>
<rect x="165.2" y="429.7" width="26.8" height="4.9" fill="#c00000"/>
<rect x="165.2" y="428.5" width="26.8" height="1.2" fill="#ffc000"/>
<rect x="165.2" y="419.5" width="26.8" height="9" fill="#4472c4"/>
<rect x="165.2" y="411.9" width="26.8" height="7.6" fill="#70ad47"/>
<rect x="165.2" y="407.3" width="26.8" height="4.6" fill="#fff2cc"/>
<rect x="193.3" y="434.6" width="26.8" height="0.7" fill="#00b0f0"/>
<rect x="193.3" y="427" width="26.8" height="7.6" fill="#c00000"/>
<rect x="193.3" y="424.6" width="26.8" height="2.4" fill="#ffc000"/>
<rect x="193.3" y="417.2" width="26.8" height="7.4" fill="#4472c4"/>
<rect x="193.3" y="411.9" width="26.8" height="5.3" fill="#70ad47"/>
<rect x="193.3" y="408.5" width="26.8" height="3.4" fill="#fff2cc"/>
<rect x="221.4" y="429.7" width="26.8" height="5.6" fill="#00b0f0"/>
<rect x="221.4" y="421.8" width="26.8" height="7.9" fill="#ed7d31"/>
<rect x="221.4" y="416.8" width="26.8" height="5" fill="#c00000"/>
<rect x="221.4" y="410.8" width="26.8" height="6" fill="#ffc000"/>
<rect x="221.4" y="406.2" width="26.8" height="4.6" fill="#4472c4"/>
<rect x="221.4" y="403.8" width="26.8" height="2.4" fill="#70ad47"/>
<rect x="221.4" y="401.5" width="26.8" height="2.3" fill="#fff2cc"/>
<rect x="249.5" y="425" width="26.8" height="10.3" fill="#00b0f0"/>
<rect x="249.5" y="409.6" width="26.8" height="15.4" fill="#ed7d31"/>
<rect x="249.5" y="402.2" width="26.8" height="7.4" fill="#c00000"/>
<rect x="249.5" y="393" width="26.8" height="9.2" fill="#ffc000"/>
<rect x="249.5" y="383.5" width="26.8" height="9.5" fill="#4472c4"/>
<rect x="249.5" y="374.5" width="26.8" height="9" fill="#70ad47"/>
<rect x="249.5" y="365.8" width="26.8" height="8.7" fill="#fff2cc"/>
<text x="178.6" y="446.7" class="bd" font-size="7.1" text-anchor="middle" fill="#222">PDX</text>
<text x="178.6" y="454.6" class="bd" font-size="7.1" text-anchor="middle" fill="#222">Ascites</text>
<text x="178.6" y="462.5" class="bd" font-size="7.1" text-anchor="middle" fill="#222">(<tspan font-style="italic">n</tspan>=4)</text>
<text x="206.7" y="446.7" class="bd" font-size="7.1" text-anchor="middle" fill="#222">PDX</text>
<text x="206.7" y="454.6" class="bd" font-size="7.1" text-anchor="middle" fill="#222">Tumor</text>
<text x="206.7" y="462.5" class="bd" font-size="7.1" text-anchor="middle" fill="#222">(<tspan font-style="italic">n</tspan>=5)</text>
<text x="234.8" y="446.7" class="bd" font-size="7.1" text-anchor="middle" fill="#222">Patients</text>
<text x="234.8" y="454.6" class="bd" font-size="7.1" text-anchor="middle" fill="#222">Ascites</text>
<text x="234.8" y="462.5" class="bd" font-size="7.1" text-anchor="middle" fill="#222">(<tspan font-style="italic">n</tspan>=8)</text>
<text x="262.9" y="446.7" class="bd" font-size="7.1" text-anchor="middle" fill="#222">Patient</text>
<text x="262.9" y="454.6" class="bd" font-size="7.1" text-anchor="middle" fill="#222">Tumor</text>
<text x="262.9" y="462.5" class="bd" font-size="7.1" text-anchor="middle" fill="#222">(<tspan font-style="italic">n</tspan>=14)</text>
<rect x="179.1" y="480.1" width="3.1" height="3.4" fill="#00b0f0"/>
<text x="183.9" y="484.4" class="bd" font-size="6.8" fill="#222">S01</text>
<rect x="199.4" y="480.1" width="3.1" height="3.4" fill="#ed7d31"/>
<text x="204.2" y="484.4" class="bd" font-size="6.8" fill="#222">S02</text>
<rect x="219.4" y="480.1" width="3.1" height="3.4" fill="#c00000"/>
<text x="224.2" y="484.4" class="bd" font-size="6.8" fill="#222">S03</text>
<rect x="239.4" y="480.1" width="3.1" height="3.4" fill="#ffc000"/>
<text x="244.2" y="484.4" class="bd" font-size="6.8" fill="#222">S04</text>
<rect x="179.1" y="493.6" width="3.1" height="3.4" fill="#4472c4"/>
<text x="183.9" y="497.9" class="bd" font-size="6.8" fill="#222">S05</text>
<rect x="199.4" y="493.6" width="3.1" height="3.4" fill="#70ad47"/>
<text x="204.2" y="497.9" class="bd" font-size="6.8" fill="#222">S06</text>
<rect x="219.4" y="493.6" width="3.1" height="3.4" fill="#fff2cc"/>
<text x="224.2" y="497.9" class="bd" font-size="6.8" fill="#222">S07</text>
<text x="275.4" y="307" class="bd" font-size="12">F</text>
<text x="319.2" y="314.2" class="bd" font-size="8.2" fill="#111">CD8+ T Cells</text>
<text x="291.2" y="437.9" class="bd" font-size="7" text-anchor="end" fill="#222">0.0</text>
<text x="291.2" y="426.11" class="bd" font-size="7" text-anchor="end" fill="#222">0.1</text>
<text x="291.2" y="414.32" class="bd" font-size="7" text-anchor="end" fill="#222">0.2</text>
<text x="291.2" y="402.53" class="bd" font-size="7" text-anchor="end" fill="#222">0.3</text>
<text x="291.2" y="390.74" class="bd" font-size="7" text-anchor="end" fill="#222">0.4</text>
<text x="291.2" y="378.95" class="bd" font-size="7" text-anchor="end" fill="#222">0.5</text>
<text x="291.2" y="367.16" class="bd" font-size="7" text-anchor="end" fill="#222">0.6</text>
<text x="291.2" y="355.37" class="bd" font-size="7" text-anchor="end" fill="#222">0.7</text>
<text x="291.2" y="343.58" class="bd" font-size="7" text-anchor="end" fill="#222">0.8</text>
<text x="291.2" y="331.79" class="bd" font-size="7" text-anchor="end" fill="#222">0.9</text>
<text x="291.2" y="320" class="bd" font-size="7" text-anchor="end" fill="#222">1.0</text>
<line x1="297.2" y1="317.5" x2="297.2" y2="435.4" stroke="#bfbfbf" stroke-width="0.8"/>
<rect x="297.9" y="433.9" width="23.2" height="1.5" fill="#c00000"/>
<rect x="322.55" y="434.8" width="23.2" height="0.6" fill="#d49a9a"/>
<rect x="347.2" y="424" width="23.2" height="11.4" fill="#00b0f0"/>
<rect x="347.2" y="405.3" width="23.2" height="18.7" fill="#ed7d31"/>
<rect x="347.2" y="397" width="23.2" height="8.3" fill="#c00000"/>
<rect x="371.85" y="411.7" width="23.2" height="23.7" fill="#00b0f0"/>
<rect x="371.85" y="399" width="23.2" height="12.7" fill="#ed7d31"/>
<rect x="371.85" y="383.1" width="23.2" height="15.9" fill="#c00000"/>
<text x="309.5" y="446.7" class="bd" font-size="7.1" text-anchor="middle" fill="#222">PDX</text>
<text x="309.5" y="454.6" class="bd" font-size="7.1" text-anchor="middle" fill="#222">Ascites</text>
<text x="309.5" y="462.5" class="bd" font-size="7.1" text-anchor="middle" fill="#222">(<tspan font-style="italic">n</tspan>=4)</text>
<text x="334.15" y="446.7" class="bd" font-size="7.1" text-anchor="middle" fill="#222">PDX</text>
<text x="334.15" y="454.6" class="bd" font-size="7.1" text-anchor="middle" fill="#222">Tumor</text>
<text x="334.15" y="462.5" class="bd" font-size="7.1" text-anchor="middle" fill="#222">(<tspan font-style="italic">n</tspan>=5)</text>
<text x="358.8" y="446.7" class="bd" font-size="7.1" text-anchor="middle" fill="#222">Patient</text>
<text x="358.8" y="454.6" class="bd" font-size="7.1" text-anchor="middle" fill="#222">Ascites</text>
<text x="358.8" y="462.5" class="bd" font-size="7.1" text-anchor="middle" fill="#222">(<tspan font-style="italic">n</tspan>=8)</text>
<text x="383.45" y="446.7" class="bd" font-size="7.1" text-anchor="middle" fill="#222">Patient</text>
<text x="383.45" y="454.6" class="bd" font-size="7.1" text-anchor="middle" fill="#222">Tumor</text>
<text x="383.45" y="462.5" class="bd" font-size="7.1" text-anchor="middle" fill="#222">(<tspan font-style="italic">n</tspan>=14)</text>
<rect x="314.9" y="477.9" width="3.1" height="3.4" fill="#00b0f0"/>
<text x="319.7" y="482.2" class="bd" font-size="6.8" fill="#222">S01</text>
<rect x="337.3" y="477.9" width="3.1" height="3.4" fill="#ed7d31"/>
<text x="342.1" y="482.2" class="bd" font-size="6.8" fill="#222">S02</text>
<rect x="360.4" y="477.9" width="3.1" height="3.4" fill="#c00000"/>
<text x="365.2" y="482.2" class="bd" font-size="6.8" fill="#222">S03</text>
<text x="393.8" y="307" class="bd" font-size="12">G</text>
<text x="425.7" y="314.2" class="bd" font-size="8.35" fill="#111">Cancer Epithelial Cells</text>
<text x="412.4" y="437.9" class="bd" font-size="7" text-anchor="end" fill="#222">0.0</text>
<text x="412.4" y="426.11" class="bd" font-size="7" text-anchor="end" fill="#222">0.1</text>
<text x="412.4" y="414.32" class="bd" font-size="7" text-anchor="end" fill="#222">0.2</text>
<text x="412.4" y="402.53" class="bd" font-size="7" text-anchor="end" fill="#222">0.3</text>
<text x="412.4" y="390.74" class="bd" font-size="7" text-anchor="end" fill="#222">0.4</text>
<text x="412.4" y="378.95" class="bd" font-size="7" text-anchor="end" fill="#222">0.5</text>
<text x="412.4" y="367.16" class="bd" font-size="7" text-anchor="end" fill="#222">0.6</text>
<text x="412.4" y="355.37" class="bd" font-size="7" text-anchor="end" fill="#222">0.7</text>
<text x="412.4" y="343.58" class="bd" font-size="7" text-anchor="end" fill="#222">0.8</text>
<text x="412.4" y="331.79" class="bd" font-size="7" text-anchor="end" fill="#222">0.9</text>
<text x="412.4" y="320" class="bd" font-size="7" text-anchor="end" fill="#222">1.0</text>
<line x1="418.1" y1="317.5" x2="418.1" y2="435.4" stroke="#bfbfbf" stroke-width="0.8"/>
<rect x="419.3" y="416.3" width="23.4" height="19.1" fill="#00b0f0"/>
<rect x="419.3" y="411.1" width="23.4" height="5.2" fill="#ed7d31"/>
<rect x="419.3" y="406.8" width="23.4" height="4.3" fill="#c00000"/>
<rect x="419.3" y="402.7" width="23.4" height="4.1" fill="#ffc000"/>
<rect x="419.3" y="383" width="23.4" height="19.7" fill="#4472c4"/>
<rect x="419.3" y="365.3" width="23.4" height="17.7" fill="#70ad47"/>
<rect x="444.15" y="417.3" width="23.4" height="18.1" fill="#00b0f0"/>
<rect x="444.15" y="414.8" width="23.4" height="2.5" fill="#ed7d31"/>
<rect x="444.15" y="411.1" width="23.4" height="3.7" fill="#c00000"/>
<rect x="444.15" y="408.6" width="23.4" height="2.5" fill="#ffc000"/>
<rect x="444.15" y="394.7" width="23.4" height="13.9" fill="#4472c4"/>
<rect x="444.15" y="366.9" width="23.4" height="27.8" fill="#70ad47"/>
<rect x="469" y="418.5" width="23.4" height="16.9" fill="#00b0f0"/>
<rect x="469" y="404.9" width="23.4" height="13.6" fill="#ed7d31"/>
<rect x="469" y="382" width="23.4" height="22.9" fill="#c00000"/>
<rect x="469" y="362.9" width="23.4" height="19.1" fill="#ffc000"/>
<rect x="469" y="350.8" width="23.4" height="12.1" fill="#4472c4"/>
<rect x="469" y="342.5" width="23.4" height="8.3" fill="#70ad47"/>
<rect x="493.85" y="421.8" width="23.4" height="13.6" fill="#00b0f0"/>
<rect x="493.85" y="397.8" width="23.4" height="24" fill="#ed7d31"/>
<rect x="493.85" y="384.5" width="23.4" height="13.3" fill="#c00000"/>
<rect x="493.85" y="367.2" width="23.4" height="17.3" fill="#ffc000"/>
<rect x="493.85" y="346.8" width="23.4" height="20.4" fill="#4472c4"/>
<rect x="493.85" y="329.2" width="23.4" height="17.6" fill="#70ad47"/>
<text x="431" y="446.7" class="bd" font-size="7.1" text-anchor="middle" fill="#222">PDX</text>
<text x="431" y="454.6" class="bd" font-size="7.1" text-anchor="middle" fill="#222">Ascites</text>
<text x="431" y="462.5" class="bd" font-size="7.1" text-anchor="middle" fill="#222">(<tspan font-style="italic">n</tspan>=4)</text>
<text x="455.85" y="446.7" class="bd" font-size="7.1" text-anchor="middle" fill="#222">PDX</text>
<text x="455.85" y="454.6" class="bd" font-size="7.1" text-anchor="middle" fill="#222">Tumor</text>
<text x="455.85" y="462.5" class="bd" font-size="7.1" text-anchor="middle" fill="#222">(<tspan font-style="italic">n</tspan>=5)</text>
<text x="480.7" y="446.7" class="bd" font-size="7.1" text-anchor="middle" fill="#222">Patient</text>
<text x="480.7" y="454.6" class="bd" font-size="7.1" text-anchor="middle" fill="#222">Ascites</text>
<text x="480.7" y="462.5" class="bd" font-size="7.1" text-anchor="middle" fill="#222">(<tspan font-style="italic">n</tspan>=8)</text>
<text x="505.55" y="446.7" class="bd" font-size="7.1" text-anchor="middle" fill="#222">Patient</text>
<text x="505.55" y="454.6" class="bd" font-size="7.1" text-anchor="middle" fill="#222">Tumor</text>
<text x="505.55" y="462.5" class="bd" font-size="7.1" text-anchor="middle" fill="#222">(<tspan font-style="italic">n</tspan>=14)</text>
<rect x="441.1" y="478.3" width="3.1" height="3.4" fill="#00b0f0"/>
<text x="445.9" y="482.6" class="bd" font-size="7.0" fill="#222">S01</text>
<rect x="460.6" y="478.3" width="3.1" height="3.4" fill="#ed7d31"/>
<text x="465.4" y="482.6" class="bd" font-size="7.0" fill="#222">S02</text>
<rect x="479.2" y="478.3" width="3.1" height="3.4" fill="#c00000"/>
<text x="484" y="482.6" class="bd" font-size="7.0" fill="#222">S03</text>
<rect x="441.1" y="491.5" width="3.1" height="3.4" fill="#ffc000"/>
<text x="445.9" y="495.8" class="bd" font-size="7.0" fill="#222">S04</text>
<rect x="460.6" y="491.5" width="3.1" height="3.4" fill="#4472c4"/>
<text x="465.4" y="495.8" class="bd" font-size="7.0" fill="#222">S05</text>
<rect x="479.2" y="491.5" width="3.1" height="3.4" fill="#70ad47"/>
<text x="484" y="495.8" class="bd" font-size="7.0" fill="#222">S06</text>
<text transform="translate(19.3,370.8) rotate(-90)" class="bd" font-size="7.55" text-anchor="middle" fill="#111">Cell abundance by state</text>
</svg>
</body></html>
